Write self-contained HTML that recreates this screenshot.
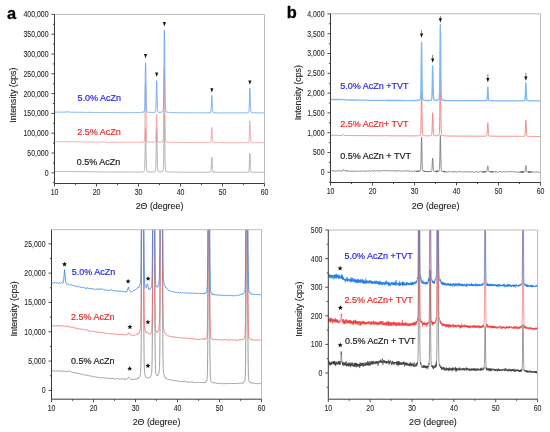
<!DOCTYPE html><html><head><meta charset="utf-8"><style>html,body{margin:0;padding:0;background:#fff;overflow:hidden;width:550px;height:432px;}svg{display:block;filter:blur(0.4px);}</style></head><body><svg width="550" height="432" viewBox="0 0 550 432"><defs><clipPath id="ca"><rect x="54.5" y="14.5" width="210.0" height="169.0"/></clipPath><clipPath id="cb"><rect x="330.5" y="13.8" width="210.0" height="168.7"/></clipPath><clipPath id="cc"><rect x="51.5" y="229.7" width="210.0" height="169.5"/></clipPath><clipPath id="cd"><rect x="328.3" y="230.0" width="209.3" height="169.2"/></clipPath></defs><rect width="550" height="432" fill="#fff"/><g clip-path="url(#ca)"><path d="M54.5,171.5L55.0,171.5L55.5,171.5L56.0,171.5L56.5,171.5L57.0,171.5L57.5,171.5L58.0,171.5L58.5,171.5L59.0,171.5L59.5,171.5L60.0,171.5L60.5,171.5L61.0,171.5L61.5,171.5L62.0,171.5L62.5,171.5L63.0,171.5L63.5,171.5L64.0,171.5L64.5,171.5L65.0,171.5L65.5,171.5L66.0,171.5L66.5,171.5L67.0,171.5L67.5,171.5L68.0,171.5L68.5,171.5L69.0,171.5L69.5,171.5L70.0,171.5L70.5,171.5L71.0,171.5L71.5,171.5L72.0,171.5L72.5,171.5L73.0,171.5L73.5,171.5L74.0,171.5L74.5,171.6L75.0,171.6L75.5,171.6L76.0,171.6L76.5,171.6L77.0,171.6L77.5,171.6L78.0,171.6L78.5,171.6L79.0,171.6L79.5,171.6L80.0,171.6L80.5,171.6L81.0,171.7L81.5,171.7L82.0,171.7L82.5,171.7L83.0,171.7L83.5,171.7L84.0,171.7L84.5,171.7L85.0,171.7L85.5,171.7L86.0,171.7L86.5,171.7L87.0,171.7L87.5,171.7L88.0,171.8L88.5,171.8L89.0,171.8L89.5,171.8L90.0,171.8L90.5,171.8L91.0,171.8L91.5,171.8L92.0,171.8L92.5,171.8L93.0,171.8L93.5,171.8L94.0,171.8L94.5,171.8L95.0,171.9L95.5,171.9L96.0,171.9L96.5,171.9L97.0,171.9L97.5,171.9L98.0,171.9L98.5,171.9L99.0,171.9L99.5,171.9L100.0,171.9L100.5,171.9L101.0,171.9L101.5,171.9L102.0,171.9L102.5,171.9L103.0,171.9L103.5,171.9L104.0,171.9L104.5,171.9L105.0,171.9L105.5,171.9L106.0,171.9L106.5,172.0L107.0,172.0L107.5,172.0L108.0,172.0L108.5,172.0L109.0,172.0L109.5,172.0L110.0,172.0L110.5,172.0L111.0,172.0L111.5,172.0L112.0,172.0L112.5,172.0L113.0,172.0L113.5,172.0L114.0,172.0L114.5,172.0L115.0,172.0L115.5,172.0L116.0,172.0L116.5,172.0L117.0,172.0L117.5,172.0L118.0,172.0L118.5,172.0L119.0,172.0L119.5,172.0L120.0,172.0L120.5,172.0L121.0,172.0L121.5,172.0L122.0,172.0L122.5,172.0L123.0,172.0L123.5,172.0L124.0,172.0L124.5,172.0L125.0,172.0L125.5,172.0L126.0,172.0L126.5,172.0L127.0,172.0L127.5,172.0L128.0,172.0L128.5,172.0L129.0,172.0L129.5,172.0L130.0,172.0L130.5,172.0L131.0,172.0L131.5,171.9L132.0,171.9L132.5,172.0L133.0,172.0L133.5,172.0L134.0,172.0L134.5,172.0L135.0,172.1L135.5,172.1L136.0,172.1L136.5,172.1L137.0,172.0L137.5,172.0L138.0,172.0L138.5,172.0L139.0,172.0L139.5,172.0L140.0,172.0L140.5,172.0L140.5,172.0L140.6,172.0L140.6,172.0L140.7,172.0L140.7,172.0L140.8,172.0L140.8,172.0L140.9,172.0L140.9,172.0L141.0,172.0L141.0,172.0L141.0,172.0L141.1,172.0L141.1,172.0L141.2,172.0L141.2,172.0L141.3,172.0L141.3,172.0L141.4,172.0L141.4,172.0L141.5,172.0L141.5,172.0L141.5,172.0L141.6,172.0L141.6,172.0L141.7,172.0L141.7,172.0L141.8,171.9L141.8,171.9L141.9,171.9L141.9,171.9L142.0,171.9L142.0,171.9L142.0,171.9L142.1,171.9L142.1,171.9L142.2,171.9L142.2,171.9L142.3,171.9L142.3,171.9L142.4,171.9L142.4,171.9L142.5,171.9L142.5,171.9L142.5,171.9L142.6,171.9L142.6,171.9L142.7,171.9L142.7,171.9L142.8,171.8L142.8,171.8L142.9,171.8L142.9,171.8L143.0,171.8L143.0,171.8L143.0,171.8L143.1,171.8L143.1,171.8L143.2,171.8L143.2,171.8L143.3,171.7L143.3,171.7L143.4,171.7L143.4,171.7L143.5,171.7L143.5,171.7L143.5,171.7L143.6,171.6L143.6,171.6L143.7,171.6L143.7,171.6L143.8,171.6L143.8,171.5L143.9,171.5L143.9,171.5L144.0,171.4L144.0,171.4L144.0,171.4L144.1,171.3L144.1,171.3L144.2,171.2L144.2,171.2L144.3,171.1L144.3,170.9L144.4,170.8L144.4,170.5L144.5,170.3L144.5,170.0L144.5,169.9L144.6,169.4L144.6,168.7L144.7,167.9L144.7,166.9L144.8,165.6L144.8,164.1L144.9,162.2L144.9,160.1L145.0,157.6L145.0,155.8L145.0,154.9L145.1,151.8L145.1,148.6L145.2,145.3L145.2,141.9L145.3,138.7L145.3,135.7L145.4,133.0L145.4,130.9L145.5,129.3L145.5,128.6L145.5,128.4L145.6,128.1L145.6,128.6L145.7,129.8L145.7,131.7L145.8,134.0L145.8,136.9L145.9,140.0L145.9,143.3L146.0,146.6L146.0,148.9L146.0,149.9L146.1,153.1L146.1,156.0L146.2,158.6L146.2,161.0L146.3,163.0L146.3,164.7L146.4,166.2L146.4,167.3L146.5,168.3L146.5,168.8L146.5,169.0L146.6,169.6L146.6,170.0L146.7,170.4L146.7,170.6L146.8,170.8L146.8,171.0L146.9,171.1L146.9,171.2L147.0,171.3L147.0,171.3L147.0,171.3L147.1,171.4L147.1,171.4L147.2,171.4L147.2,171.5L147.3,171.5L147.3,171.5L147.4,171.6L147.4,171.6L147.5,171.6L147.5,171.6L147.5,171.6L147.6,171.6L147.6,171.7L147.7,171.7L147.7,171.7L147.8,171.7L147.8,171.7L147.9,171.7L147.9,171.7L148.0,171.8L148.0,171.8L148.0,171.8L148.1,171.8L148.1,171.8L148.2,171.8L148.2,171.8L148.3,171.8L148.3,171.8L148.4,171.8L148.4,171.8L148.5,171.8L148.5,171.9L148.5,171.9L148.6,171.9L148.6,171.9L148.7,171.9L148.7,171.9L148.8,171.9L148.8,171.9L148.9,171.9L148.9,171.9L149.0,171.9L149.0,171.9L149.0,171.9L149.1,171.9L149.1,171.9L149.2,171.9L149.2,171.9L149.3,171.9L149.3,171.9L149.4,171.9L149.4,171.9L149.5,171.9L149.5,171.9L149.5,171.9L149.6,171.9L149.6,171.9L149.7,171.9L149.7,171.9L149.8,171.9L149.8,171.9L149.9,171.9L149.9,172.0L150.0,172.0L150.0,172.0L150.0,172.0L150.1,172.0L150.1,172.0L150.2,172.0L150.2,172.0L150.3,172.0L150.3,172.0L150.4,172.0L150.4,172.0L150.5,172.0L150.5,172.0L150.5,172.0L150.6,172.0L151.0,172.0L151.5,172.0L151.6,172.0L151.7,172.0L151.7,172.0L151.8,172.0L151.8,172.0L151.9,172.0L151.9,172.0L152.0,172.0L152.0,172.0L152.0,172.0L152.1,172.0L152.1,172.0L152.2,172.0L152.2,172.0L152.3,171.9L152.3,171.9L152.4,171.9L152.4,171.9L152.5,171.9L152.5,171.9L152.5,171.9L152.6,171.9L152.6,171.9L152.7,171.9L152.7,171.9L152.8,171.9L152.8,171.9L152.9,171.9L152.9,171.9L153.0,171.9L153.0,171.9L153.0,171.9L153.1,171.9L153.1,171.9L153.2,171.9L153.2,171.9L153.3,171.9L153.3,171.9L153.4,171.9L153.4,171.9L153.5,171.9L153.5,171.9L153.5,171.9L153.6,171.9L153.6,171.9L153.7,171.9L153.7,171.8L153.8,171.8L153.8,171.8L153.9,171.8L153.9,171.8L154.0,171.8L154.0,171.8L154.0,171.8L154.1,171.8L154.1,171.8L154.2,171.8L154.2,171.8L154.3,171.7L154.3,171.7L154.4,171.7L154.4,171.7L154.5,171.7L154.5,171.7L154.5,171.7L154.6,171.7L154.6,171.6L154.7,171.6L154.7,171.6L154.8,171.6L154.8,171.6L154.9,171.5L154.9,171.5L155.0,171.5L155.0,171.5L155.0,171.5L155.1,171.4L155.1,171.4L155.2,171.3L155.2,171.3L155.3,171.2L155.3,171.1L155.4,171.0L155.4,170.9L155.5,170.8L155.5,170.7L155.5,170.5L155.6,170.3L155.6,169.9L155.7,169.4L155.7,168.8L155.8,167.9L155.8,166.9L155.9,165.7L155.9,164.1L156.0,162.3L156.0,162.2L156.0,160.2L156.1,157.7L156.1,155.0L156.2,152.0L156.2,148.8L156.3,145.5L156.3,142.2L156.4,139.0L156.4,136.0L156.5,133.4L156.5,133.2L156.5,131.2L156.6,129.6L156.6,128.7L156.7,128.5L156.7,129.0L156.8,130.2L156.8,132.0L156.9,134.4L156.9,137.1L157.0,140.2L157.0,140.5L157.0,143.5L157.1,146.8L157.1,150.1L157.2,153.2L157.2,156.1L157.3,158.7L157.3,161.1L157.4,163.1L157.4,164.8L157.5,166.2L157.5,166.3L157.5,167.4L157.6,168.3L157.6,169.0L157.7,169.6L157.7,170.0L157.8,170.4L157.8,170.6L157.9,170.8L157.9,171.0L158.0,171.1L158.0,171.1L158.0,171.2L158.1,171.2L158.1,171.3L158.2,171.3L158.2,171.4L158.3,171.4L158.3,171.4L158.4,171.5L158.4,171.5L158.5,171.5L158.5,171.5L158.5,171.5L158.6,171.6L158.6,171.6L158.7,171.6L158.7,171.6L158.8,171.6L158.8,171.6L158.9,171.7L158.9,171.7L159.0,171.7L159.0,171.7L159.0,171.7L159.1,171.7L159.1,171.7L159.2,171.7L159.2,171.7L159.3,171.7L159.3,171.7L159.3,171.7L159.4,171.7L159.4,171.8L159.4,171.8L159.4,171.8L159.5,171.8L159.5,171.8L159.5,171.8L159.5,171.8L159.5,171.8L159.6,171.8L159.6,171.8L159.6,171.8L159.6,171.8L159.7,171.8L159.7,171.8L159.7,171.8L159.7,171.8L159.8,171.8L159.8,171.8L159.8,171.8L159.8,171.8L159.9,171.8L159.9,171.8L159.9,171.8L159.9,171.8L160.0,171.8L160.0,171.8L160.0,171.8L160.0,171.8L160.0,171.8L160.1,171.8L160.1,171.8L160.1,171.8L160.1,171.8L160.2,171.8L160.2,171.8L160.2,171.8L160.2,171.8L160.3,171.8L160.3,171.8L160.3,171.8L160.3,171.8L160.4,171.8L160.4,171.8L160.4,171.8L160.4,171.8L160.5,171.8L160.5,171.8L160.5,171.8L160.5,171.8L160.5,171.8L160.6,171.8L160.6,171.8L160.6,171.8L160.6,171.8L160.7,171.8L160.7,171.8L160.7,171.8L160.7,171.8L160.8,171.8L160.8,171.8L160.8,171.8L160.8,171.8L160.9,171.8L160.9,171.8L160.9,171.8L160.9,171.8L161.0,171.8L161.0,171.8L161.0,171.8L161.0,171.8L161.0,171.8L161.1,171.8L161.1,171.8L161.1,171.8L161.1,171.8L161.2,171.8L161.2,171.8L161.2,171.8L161.2,171.8L161.3,171.8L161.3,171.8L161.3,171.7L161.3,171.7L161.4,171.7L161.4,171.7L161.4,171.7L161.4,171.7L161.5,171.7L161.5,171.7L161.5,171.7L161.5,171.7L161.5,171.7L161.6,171.7L161.6,171.7L161.6,171.7L161.6,171.7L161.7,171.7L161.7,171.7L161.7,171.7L161.8,171.7L161.8,171.7L161.9,171.6L161.9,171.6L162.0,171.6L162.0,171.6L162.0,171.6L162.1,171.6L162.1,171.6L162.2,171.5L162.2,171.5L162.3,171.5L162.3,171.5L162.4,171.5L162.4,171.4L162.5,171.4L162.5,171.4L162.5,171.4L162.6,171.3L162.6,171.3L162.7,171.3L162.7,171.2L162.8,171.2L162.8,171.1L162.9,171.1L162.9,171.0L163.0,170.9L163.0,170.9L163.0,170.8L163.1,170.7L163.1,170.5L163.2,170.3L163.2,170.0L163.3,169.6L163.3,169.1L163.4,168.4L163.4,167.6L163.5,166.5L163.5,166.0L163.5,165.1L163.6,163.4L163.6,161.3L163.7,158.8L163.7,155.9L163.8,152.5L163.8,148.8L163.9,144.7L163.9,140.4L164.0,135.9L164.0,134.2L164.0,131.3L164.1,127.0L164.1,122.9L164.2,119.3L164.2,116.4L164.3,114.2L164.3,113.0L164.4,112.7L164.4,113.4L164.5,115.0L164.5,115.8L164.5,117.5L164.6,120.7L164.6,124.5L164.7,128.7L164.7,133.2L164.8,137.7L164.8,142.1L164.9,146.4L164.9,150.4L165.0,153.9L165.0,155.1L165.0,157.1L165.1,159.8L165.1,162.2L165.2,164.1L165.2,165.7L165.3,167.0L165.3,168.0L165.4,168.7L165.4,169.3L165.5,169.8L165.5,169.9L165.5,170.1L165.6,170.4L165.6,170.6L165.7,170.8L165.7,170.9L165.8,171.0L165.8,171.1L165.9,171.1L165.9,171.2L166.0,171.2L166.0,171.3L166.0,171.3L166.1,171.3L166.1,171.4L166.2,171.4L166.2,171.4L166.3,171.5L166.3,171.5L166.4,171.5L166.4,171.5L166.5,171.6L166.5,171.6L166.5,171.6L166.6,171.6L166.6,171.6L166.7,171.6L166.7,171.7L166.8,171.7L166.8,171.7L166.9,171.7L166.9,171.7L167.0,171.7L167.0,171.7L167.0,171.7L167.1,171.8L167.1,171.8L167.2,171.8L167.2,171.8L167.3,171.8L167.3,171.8L167.4,171.8L167.4,171.8L167.5,171.8L167.5,171.8L167.5,171.8L167.6,171.9L167.6,171.9L167.7,171.9L167.7,171.9L167.8,171.9L167.8,171.9L167.9,171.9L167.9,171.9L168.0,171.9L168.0,171.9L168.0,171.9L168.1,171.9L168.1,171.9L168.2,171.9L168.2,171.9L168.3,171.9L168.3,171.9L168.4,171.9L168.4,171.9L168.5,172.0L168.5,172.0L168.5,172.0L168.6,172.0L168.6,172.0L168.7,172.0L168.7,172.0L168.8,172.0L168.8,172.0L168.9,172.0L168.9,172.0L169.0,172.0L169.0,172.0L169.0,172.0L169.1,172.0L169.1,172.0L169.2,172.0L169.2,172.0L169.3,172.0L169.3,172.0L169.4,172.0L169.5,172.0L170.0,172.0L170.5,172.0L171.0,172.1L171.5,172.1L172.0,172.1L172.5,172.1L173.0,172.1L173.5,172.1L174.0,172.1L174.5,172.1L175.0,172.1L175.5,172.1L176.0,172.1L176.5,172.1L177.0,172.1L177.5,172.1L178.0,172.1L178.5,172.2L179.0,172.2L179.5,172.2L180.0,172.2L180.5,172.2L181.0,172.2L181.5,172.2L182.0,172.2L182.5,172.2L183.0,172.2L183.5,172.2L184.0,172.2L184.5,172.2L185.0,172.2L185.5,172.2L186.0,172.2L186.5,172.2L187.0,172.2L187.5,172.2L188.0,172.2L188.5,172.2L189.0,172.2L189.5,172.2L190.0,172.2L190.5,172.2L191.0,172.2L191.5,172.2L192.0,172.2L192.5,172.2L193.0,172.2L193.5,172.2L194.0,172.2L194.5,172.2L195.0,172.2L195.5,172.2L196.0,172.3L196.5,172.3L197.0,172.3L197.5,172.3L198.0,172.3L198.5,172.3L199.0,172.3L199.5,172.3L200.0,172.3L200.5,172.3L201.0,172.3L201.5,172.3L202.0,172.3L202.5,172.3L203.0,172.3L203.5,172.3L204.0,172.3L204.5,172.3L205.0,172.3L205.5,172.3L206.0,172.3L206.5,172.3L206.8,172.3L206.8,172.3L206.9,172.3L206.9,172.3L207.0,172.3L207.0,172.3L207.0,172.3L207.1,172.3L207.1,172.3L207.2,172.3L207.2,172.3L207.3,172.3L207.3,172.3L207.4,172.3L207.4,172.3L207.5,172.3L207.5,172.3L207.5,172.3L207.6,172.3L207.6,172.3L207.7,172.3L207.7,172.3L207.8,172.3L207.8,172.3L207.9,172.3L207.9,172.3L208.0,172.3L208.0,172.3L208.0,172.3L208.1,172.3L208.1,172.3L208.2,172.3L208.2,172.3L208.3,172.2L208.3,172.2L208.4,172.2L208.4,172.2L208.5,172.2L208.5,172.2L208.5,172.2L208.6,172.2L208.6,172.2L208.7,172.2L208.7,172.2L208.8,172.2L208.8,172.2L208.9,172.2L208.9,172.2L209.0,172.2L209.0,172.2L209.0,172.2L209.1,172.2L209.1,172.2L209.2,172.2L209.2,172.2L209.3,172.2L209.3,172.2L209.4,172.2L209.4,172.2L209.5,172.2L209.5,172.2L209.5,172.2L209.6,172.2L209.6,172.2L209.7,172.2L209.7,172.2L209.8,172.2L209.8,172.2L209.9,172.1L209.9,172.1L210.0,172.1L210.0,172.1L210.0,172.1L210.1,172.1L210.1,172.1L210.2,172.1L210.2,172.1L210.3,172.1L210.3,172.1L210.4,172.0L210.4,172.0L210.5,172.0L210.5,172.0L210.5,172.0L210.6,171.9L210.6,171.9L210.7,171.8L210.7,171.7L210.8,171.6L210.8,171.4L210.9,171.2L210.9,170.9L211.0,170.6L211.0,170.5L211.0,170.1L211.1,169.6L211.1,169.0L211.2,168.3L211.2,167.4L211.3,166.5L211.3,165.5L211.4,164.4L211.4,163.3L211.5,162.1L211.5,161.9L211.5,161.0L211.6,160.0L211.6,159.1L211.7,158.4L211.7,157.8L211.8,157.5L211.8,157.5L211.9,157.6L211.9,158.0L212.0,158.7L212.0,158.8L212.0,159.5L212.1,160.4L212.1,161.5L212.2,162.6L212.2,163.7L212.3,164.8L212.3,165.9L212.4,166.9L212.4,167.8L212.5,168.6L212.5,168.7L212.5,169.3L212.6,169.8L212.6,170.3L212.7,170.7L212.7,171.0L212.8,171.3L212.8,171.5L212.9,171.6L212.9,171.7L213.0,171.8L213.0,171.8L213.0,171.9L213.1,171.9L213.1,172.0L213.2,172.0L213.2,172.0L213.3,172.1L213.3,172.1L213.4,172.1L213.4,172.1L213.5,172.1L213.5,172.1L213.5,172.1L213.6,172.1L213.6,172.1L213.7,172.1L213.7,172.2L213.8,172.2L213.8,172.2L213.9,172.2L213.9,172.2L214.0,172.2L214.0,172.2L214.0,172.2L214.1,172.2L214.1,172.2L214.2,172.2L214.2,172.2L214.3,172.2L214.3,172.2L214.4,172.2L214.4,172.2L214.5,172.2L214.5,172.2L214.5,172.2L214.6,172.2L214.6,172.2L214.7,172.2L214.7,172.2L214.8,172.2L214.8,172.2L214.9,172.2L214.9,172.2L215.0,172.3L215.0,172.3L215.0,172.3L215.1,172.3L215.1,172.3L215.2,172.3L215.2,172.3L215.3,172.3L215.3,172.3L215.4,172.3L215.4,172.3L215.5,172.3L215.5,172.3L215.5,172.3L215.6,172.3L215.6,172.3L215.7,172.3L215.7,172.3L215.8,172.3L215.8,172.3L215.9,172.3L215.9,172.3L216.0,172.3L216.0,172.3L216.0,172.3L216.1,172.3L216.1,172.3L216.2,172.3L216.2,172.3L216.3,172.3L216.3,172.3L216.4,172.3L216.4,172.3L216.5,172.3L216.5,172.3L216.5,172.3L216.6,172.3L216.6,172.3L216.7,172.3L216.7,172.3L216.8,172.3L216.8,172.3L217.0,172.3L217.5,172.3L218.0,172.3L218.5,172.3L219.0,172.3L219.5,172.3L220.0,172.3L220.5,172.3L221.0,172.3L221.5,172.3L222.0,172.3L222.5,172.3L223.0,172.3L223.5,172.3L224.0,172.3L224.5,172.3L225.0,172.3L225.5,172.3L226.0,172.3L226.5,172.3L227.0,172.3L227.5,172.3L228.0,172.3L228.5,172.3L229.0,172.3L229.5,172.3L230.0,172.3L230.5,172.3L231.0,172.3L231.5,172.3L232.0,172.3L232.5,172.3L233.0,172.3L233.5,172.3L234.0,172.3L234.5,172.3L235.0,172.3L235.5,172.3L236.0,172.3L236.5,172.3L237.0,172.3L237.5,172.3L238.0,172.3L238.5,172.3L239.0,172.3L239.5,172.3L240.0,172.3L240.5,172.3L241.0,172.3L241.5,172.3L242.0,172.3L242.5,172.3L243.0,172.3L243.5,172.3L244.0,172.3L244.5,172.3L244.8,172.3L244.9,172.3L244.9,172.3L245.0,172.3L245.0,172.3L245.0,172.3L245.1,172.3L245.1,172.3L245.2,172.3L245.2,172.3L245.3,172.3L245.3,172.3L245.4,172.3L245.4,172.3L245.5,172.3L245.5,172.3L245.5,172.3L245.6,172.3L245.6,172.3L245.7,172.3L245.7,172.3L245.8,172.3L245.8,172.3L245.9,172.3L245.9,172.3L246.0,172.3L246.0,172.3L246.0,172.3L246.1,172.3L246.1,172.3L246.2,172.3L246.2,172.3L246.3,172.3L246.3,172.3L246.4,172.3L246.4,172.3L246.5,172.3L246.5,172.3L246.5,172.3L246.6,172.3L246.6,172.3L246.7,172.3L246.7,172.3L246.8,172.3L246.8,172.3L246.9,172.3L246.9,172.2L247.0,172.2L247.0,172.2L247.0,172.2L247.1,172.2L247.1,172.2L247.2,172.2L247.2,172.2L247.3,172.2L247.3,172.2L247.4,172.2L247.4,172.2L247.5,172.2L247.5,172.2L247.5,172.2L247.6,172.2L247.6,172.2L247.7,172.2L247.7,172.2L247.8,172.2L247.8,172.2L247.9,172.2L247.9,172.1L248.0,172.1L248.0,172.1L248.0,172.1L248.1,172.1L248.1,172.1L248.2,172.1L248.2,172.1L248.3,172.1L248.3,172.0L248.4,172.0L248.4,172.0L248.5,172.0L248.5,172.0L248.5,171.9L248.6,171.9L248.6,171.8L248.7,171.8L248.7,171.7L248.8,171.6L248.8,171.4L248.9,171.2L248.9,170.9L249.0,170.6L249.0,170.5L249.0,170.1L249.1,169.6L249.1,168.9L249.2,168.1L249.2,167.2L249.3,166.2L249.3,165.0L249.4,163.7L249.4,162.3L249.5,160.9L249.5,160.7L249.5,159.4L249.6,158.1L249.6,156.8L249.7,155.6L249.7,154.7L249.8,154.0L249.8,153.6L249.9,153.5L249.9,153.8L250.0,154.3L250.0,154.3L250.0,155.0L250.1,156.1L250.1,157.3L250.2,158.6L250.2,160.0L250.3,161.4L250.3,162.9L250.4,164.2L250.4,165.5L250.5,166.6L250.5,166.7L250.5,167.6L250.6,168.5L250.6,169.2L250.7,169.8L250.7,170.3L250.8,170.7L250.8,171.0L250.9,171.3L250.9,171.5L251.0,171.6L251.0,171.6L251.0,171.7L251.1,171.8L251.1,171.9L251.2,171.9L251.2,172.0L251.3,172.0L251.3,172.0L251.4,172.0L251.4,172.1L251.5,172.1L251.5,172.1L251.5,172.1L251.6,172.1L251.6,172.1L251.7,172.1L251.7,172.1L251.8,172.1L251.8,172.1L251.9,172.2L251.9,172.2L252.0,172.2L252.0,172.2L252.0,172.2L252.1,172.2L252.1,172.2L252.2,172.2L252.2,172.2L252.3,172.2L252.3,172.2L252.4,172.2L252.4,172.2L252.5,172.2L252.5,172.2L252.5,172.2L252.6,172.2L252.6,172.2L252.7,172.2L252.7,172.2L252.8,172.2L252.8,172.2L252.9,172.3L252.9,172.3L253.0,172.3L253.0,172.3L253.0,172.3L253.1,172.3L253.1,172.3L253.2,172.3L253.2,172.3L253.3,172.3L253.3,172.3L253.4,172.3L253.4,172.3L253.5,172.3L253.5,172.3L253.5,172.3L253.6,172.3L253.6,172.3L253.7,172.3L253.7,172.3L253.8,172.3L253.8,172.3L253.9,172.3L253.9,172.3L254.0,172.3L254.0,172.3L254.0,172.3L254.1,172.3L254.1,172.3L254.2,172.3L254.2,172.3L254.3,172.3L254.3,172.3L254.4,172.3L254.4,172.3L254.5,172.3L254.5,172.3L254.5,172.3L254.6,172.3L254.6,172.3L254.7,172.3L254.7,172.3L254.8,172.3L254.8,172.3L254.9,172.3L255.0,172.3L255.5,172.3L256.0,172.3L256.5,172.3L257.0,172.3L257.5,172.3L258.0,172.3L258.5,172.3L259.0,172.3L259.5,172.3L260.0,172.3L260.5,172.3L261.0,172.3L261.5,172.3L262.0,172.3L262.5,172.3L263.0,172.3L263.5,172.3L264.0,172.3L264.5,172.3" fill="none" stroke="#a8a8a8" stroke-width="0.9" stroke-linejoin="round" /><path d="M54.5,141.7L55.0,141.7L55.5,141.7L56.0,141.7L56.5,141.7L57.0,141.7L57.5,141.7L58.0,141.7L58.5,141.7L59.0,141.7L59.5,141.7L60.0,141.7L60.5,141.7L61.0,141.7L61.5,141.7L62.0,141.7L62.5,141.7L63.0,141.7L63.5,141.7L64.0,141.7L64.5,141.7L65.0,141.7L65.5,141.7L66.0,141.7L66.5,141.7L67.0,141.7L67.5,141.7L68.0,141.7L68.5,141.7L69.0,141.7L69.5,141.7L70.0,141.7L70.5,141.7L71.0,141.8L71.5,141.8L72.0,141.8L72.5,141.8L73.0,141.8L73.5,141.8L74.0,141.8L74.5,141.8L75.0,141.8L75.5,141.8L76.0,141.8L76.5,141.8L77.0,141.8L77.5,141.8L78.0,141.8L78.5,141.9L79.0,141.9L79.5,141.9L80.0,141.9L80.5,141.9L81.0,141.9L81.5,141.9L82.0,141.9L82.5,141.9L83.0,141.9L83.5,141.9L84.0,141.9L84.5,141.9L85.0,141.9L85.5,141.9L86.0,142.0L86.5,142.0L87.0,142.0L87.5,142.0L88.0,142.0L88.5,142.0L89.0,142.0L89.5,142.0L90.0,142.0L90.5,142.0L91.0,142.0L91.5,142.0L92.0,142.0L92.5,142.0L93.0,142.1L93.5,142.1L94.0,142.1L94.5,142.1L95.0,142.1L95.5,142.1L96.0,142.1L96.5,142.1L97.0,142.1L97.5,142.1L98.0,142.1L98.5,142.1L99.0,142.1L99.5,142.1L100.0,142.1L100.5,142.1L101.0,142.1L101.5,142.1L102.0,142.1L102.5,142.1L103.0,142.2L103.5,142.2L104.0,142.2L104.5,142.2L105.0,142.2L105.5,142.2L106.0,142.2L106.5,142.2L107.0,142.2L107.5,142.2L108.0,142.2L108.5,142.2L109.0,142.2L109.5,142.2L110.0,142.2L110.5,142.2L111.0,142.2L111.5,142.2L112.0,142.2L112.5,142.2L113.0,142.2L113.5,142.2L114.0,142.2L114.5,142.2L115.0,142.2L115.5,142.3L116.0,142.3L116.5,142.3L117.0,142.3L117.5,142.3L118.0,142.3L118.5,142.3L119.0,142.3L119.5,142.3L120.0,142.3L120.5,142.3L121.0,142.3L121.5,142.3L122.0,142.3L122.5,142.3L123.0,142.3L123.5,142.3L124.0,142.3L124.5,142.3L125.0,142.3L125.5,142.3L126.0,142.3L126.5,142.3L127.0,142.3L127.5,142.3L128.0,142.3L128.5,142.3L129.0,142.3L129.5,142.3L130.0,142.3L130.5,142.3L131.0,142.2L131.5,142.2L132.0,142.2L132.5,142.3L133.0,142.3L133.5,142.3L134.0,142.3L134.5,142.3L135.0,142.3L135.5,142.3L136.0,142.3L136.5,142.3L137.0,142.3L137.5,142.3L138.0,142.3L138.5,142.3L139.0,142.3L139.5,142.3L140.0,142.3L140.5,142.3L140.5,142.3L140.6,142.3L140.6,142.3L140.7,142.3L140.7,142.3L140.8,142.3L140.8,142.3L140.9,142.3L140.9,142.3L141.0,142.3L141.0,142.3L141.0,142.3L141.1,142.3L141.1,142.3L141.2,142.2L141.2,142.2L141.3,142.2L141.3,142.2L141.4,142.2L141.4,142.2L141.5,142.2L141.5,142.2L141.5,142.2L141.6,142.2L141.6,142.2L141.7,142.2L141.7,142.2L141.8,142.2L141.8,142.2L141.9,142.2L141.9,142.2L142.0,142.2L142.0,142.2L142.0,142.2L142.1,142.2L142.1,142.2L142.2,142.2L142.2,142.2L142.3,142.2L142.3,142.1L142.4,142.1L142.4,142.1L142.5,142.1L142.5,142.1L142.5,142.1L142.6,142.1L142.6,142.1L142.7,142.1L142.7,142.1L142.8,142.1L142.8,142.1L142.9,142.0L142.9,142.0L143.0,142.0L143.0,142.0L143.0,142.0L143.1,142.0L143.1,142.0L143.2,142.0L143.2,141.9L143.3,141.9L143.3,141.9L143.4,141.9L143.4,141.9L143.5,141.9L143.5,141.8L143.5,141.8L143.6,141.8L143.6,141.8L143.7,141.7L143.7,141.7L143.8,141.7L143.8,141.7L143.9,141.6L143.9,141.6L144.0,141.5L144.0,141.5L144.0,141.5L144.1,141.4L144.1,141.3L144.2,141.3L144.2,141.2L144.3,141.0L144.3,140.9L144.4,140.6L144.4,140.4L144.5,140.0L144.5,139.6L144.5,139.5L144.6,138.8L144.6,138.0L144.7,136.9L144.7,135.5L144.8,133.9L144.8,131.8L144.9,129.4L144.9,126.5L145.0,123.2L145.0,120.8L145.0,119.6L145.1,115.6L145.1,111.3L145.2,106.9L145.2,102.5L145.3,98.2L145.3,94.2L145.4,90.7L145.4,87.8L145.5,85.7L145.5,84.8L145.5,84.5L145.6,84.2L145.6,84.9L145.7,86.4L145.7,88.9L145.8,92.0L145.8,95.7L145.9,99.9L145.9,104.2L146.0,108.7L146.0,111.7L146.0,113.0L146.1,117.2L146.1,121.1L146.2,124.6L146.2,127.7L146.3,130.4L146.3,132.7L146.4,134.6L146.4,136.1L146.5,137.4L146.5,138.0L146.5,138.3L146.6,139.1L146.6,139.7L146.7,140.1L146.7,140.5L146.8,140.7L146.8,140.9L146.9,141.1L146.9,141.2L147.0,141.3L147.0,141.3L147.0,141.4L147.1,141.4L147.1,141.5L147.2,141.5L147.2,141.6L147.3,141.6L147.3,141.7L147.4,141.7L147.4,141.7L147.5,141.8L147.5,141.8L147.5,141.8L147.6,141.8L147.6,141.8L147.7,141.9L147.7,141.9L147.8,141.9L147.8,141.9L147.9,141.9L147.9,141.9L148.0,142.0L148.0,142.0L148.0,142.0L148.1,142.0L148.1,142.0L148.2,142.0L148.2,142.0L148.3,142.0L148.3,142.1L148.4,142.1L148.4,142.1L148.5,142.1L148.5,142.1L148.5,142.1L148.6,142.1L148.6,142.1L148.7,142.1L148.7,142.1L148.8,142.1L148.8,142.1L148.9,142.1L148.9,142.1L149.0,142.1L149.0,142.2L149.0,142.2L149.1,142.2L149.1,142.2L149.2,142.2L149.2,142.2L149.3,142.2L149.3,142.2L149.4,142.2L149.4,142.2L149.5,142.2L149.5,142.2L149.5,142.2L149.6,142.2L149.6,142.2L149.7,142.2L149.7,142.2L149.8,142.2L149.8,142.2L149.9,142.2L149.9,142.2L150.0,142.2L150.0,142.2L150.0,142.2L150.1,142.2L150.1,142.2L150.2,142.2L150.2,142.2L150.3,142.2L150.3,142.2L150.4,142.2L150.4,142.2L150.5,142.1L150.5,142.1L150.5,142.1L150.6,142.1L151.0,142.2L151.5,142.2L151.6,142.2L151.7,142.2L151.7,142.2L151.8,142.2L151.8,142.2L151.9,142.3L151.9,142.3L152.0,142.3L152.0,142.3L152.0,142.3L152.1,142.3L152.1,142.3L152.2,142.3L152.2,142.3L152.3,142.3L152.3,142.3L152.4,142.3L152.4,142.3L152.5,142.3L152.5,142.3L152.5,142.3L152.6,142.3L152.6,142.3L152.7,142.3L152.7,142.3L152.8,142.3L152.8,142.3L152.9,142.3L152.9,142.3L153.0,142.3L153.0,142.3L153.0,142.3L153.1,142.3L153.1,142.3L153.2,142.2L153.2,142.2L153.3,142.2L153.3,142.2L153.4,142.2L153.4,142.2L153.5,142.2L153.5,142.2L153.5,142.2L153.6,142.2L153.6,142.2L153.7,142.2L153.7,142.2L153.8,142.2L153.8,142.2L153.9,142.2L153.9,142.2L154.0,142.2L154.0,142.2L154.0,142.2L154.1,142.2L154.1,142.2L154.2,142.2L154.2,142.2L154.3,142.2L154.3,142.2L154.4,142.1L154.4,142.1L154.5,142.1L154.5,142.1L154.5,142.1L154.6,142.1L154.6,142.1L154.7,142.1L154.7,142.1L154.8,142.1L154.8,142.0L154.9,142.0L154.9,142.0L155.0,142.0L155.0,142.0L155.0,142.0L155.1,142.0L155.1,141.9L155.2,141.9L155.2,141.9L155.3,141.8L155.3,141.8L155.4,141.7L155.4,141.6L155.5,141.5L155.5,141.5L155.5,141.4L155.6,141.2L155.6,141.0L155.7,140.7L155.7,140.3L155.8,139.7L155.8,139.1L155.9,138.3L155.9,137.3L156.0,136.2L156.0,136.1L156.0,134.8L156.1,133.2L156.1,131.5L156.2,129.6L156.2,127.6L156.3,125.5L156.3,123.3L156.4,121.3L156.4,119.4L156.5,117.7L156.5,117.6L156.5,116.4L156.6,115.4L156.6,114.8L156.7,114.6L156.7,115.0L156.8,115.7L156.8,116.9L156.9,118.4L156.9,120.1L157.0,122.1L157.0,122.3L157.0,124.2L157.1,126.3L157.1,128.4L157.2,130.4L157.2,132.2L157.3,133.9L157.3,135.4L157.4,136.6L157.4,137.7L157.5,138.6L157.5,138.7L157.5,139.4L157.6,139.9L157.6,140.4L157.7,140.8L157.7,141.1L157.8,141.3L157.8,141.4L157.9,141.6L157.9,141.6L158.0,141.7L158.0,141.7L158.0,141.8L158.1,141.8L158.1,141.9L158.2,141.9L158.2,141.9L158.3,141.9L158.3,142.0L158.4,142.0L158.4,142.0L158.5,142.0L158.5,142.0L158.5,142.0L158.6,142.0L158.6,142.0L158.7,142.0L158.7,142.1L158.8,142.1L158.8,142.1L158.9,142.1L158.9,142.1L159.0,142.1L159.0,142.1L159.0,142.1L159.1,142.1L159.1,142.1L159.2,142.1L159.2,142.1L159.3,142.1L159.3,142.1L159.3,142.1L159.4,142.1L159.4,142.1L159.4,142.1L159.4,142.1L159.5,142.1L159.5,142.1L159.5,142.1L159.5,142.1L159.5,142.1L159.6,142.1L159.6,142.1L159.6,142.1L159.6,142.1L159.7,142.1L159.7,142.1L159.7,142.1L159.7,142.1L159.8,142.1L159.8,142.1L159.8,142.1L159.8,142.1L159.9,142.1L159.9,142.1L159.9,142.1L159.9,142.1L160.0,142.1L160.0,142.1L160.0,142.1L160.0,142.1L160.0,142.1L160.1,142.1L160.1,142.1L160.1,142.1L160.1,142.1L160.2,142.1L160.2,142.1L160.2,142.1L160.2,142.1L160.3,142.1L160.3,142.1L160.3,142.1L160.3,142.1L160.4,142.1L160.4,142.1L160.4,142.1L160.4,142.1L160.5,142.1L160.5,142.1L160.5,142.1L160.5,142.1L160.5,142.1L160.6,142.1L160.6,142.1L160.6,142.1L160.6,142.1L160.7,142.1L160.7,142.1L160.7,142.1L160.7,142.1L160.8,142.1L160.8,142.1L160.8,142.1L160.8,142.1L160.9,142.1L160.9,142.1L160.9,142.1L160.9,142.1L161.0,142.1L161.0,142.1L161.0,142.1L161.0,142.1L161.0,142.1L161.1,142.1L161.1,142.1L161.1,142.1L161.1,142.1L161.2,142.1L161.2,142.1L161.2,142.1L161.2,142.0L161.3,142.0L161.3,142.0L161.3,142.0L161.3,142.0L161.4,142.0L161.4,142.0L161.4,142.0L161.4,142.0L161.5,142.0L161.5,142.0L161.5,142.0L161.5,142.0L161.5,142.0L161.6,142.0L161.6,142.0L161.6,142.0L161.6,142.0L161.7,142.0L161.7,141.9L161.7,141.9L161.8,141.9L161.8,141.9L161.9,141.9L161.9,141.9L162.0,141.9L162.0,141.8L162.0,141.8L162.1,141.8L162.1,141.8L162.2,141.8L162.2,141.7L162.3,141.7L162.3,141.7L162.4,141.7L162.4,141.6L162.5,141.6L162.5,141.6L162.5,141.5L162.6,141.5L162.6,141.5L162.7,141.4L162.7,141.4L162.8,141.3L162.8,141.2L162.9,141.2L162.9,141.1L163.0,141.0L163.0,140.9L163.0,140.8L163.1,140.7L163.1,140.4L163.2,140.2L163.2,139.8L163.3,139.3L163.3,138.6L163.4,137.8L163.4,136.7L163.5,135.3L163.5,134.7L163.5,133.6L163.6,131.4L163.6,128.7L163.7,125.6L163.7,121.9L163.8,117.7L163.8,112.9L163.9,107.8L163.9,102.3L164.0,96.6L164.0,94.5L164.0,90.8L164.1,85.3L164.1,80.1L164.2,75.6L164.2,71.9L164.3,69.2L164.3,67.6L164.4,67.2L164.4,68.1L164.5,70.1L164.5,71.1L164.5,73.3L164.6,77.3L164.6,82.1L164.7,87.5L164.7,93.1L164.8,98.9L164.8,104.5L164.9,109.9L164.9,114.9L165.0,119.4L165.0,120.9L165.0,123.5L165.1,126.9L165.1,129.9L165.2,132.3L165.2,134.3L165.3,135.9L165.3,137.2L165.4,138.2L165.4,138.9L165.5,139.5L165.5,139.7L165.5,140.0L165.6,140.3L165.6,140.6L165.7,140.8L165.7,140.9L165.8,141.0L165.8,141.1L165.9,141.2L165.9,141.3L166.0,141.4L166.0,141.4L166.0,141.4L166.1,141.5L166.1,141.5L166.2,141.6L166.2,141.6L166.3,141.6L166.3,141.7L166.4,141.7L166.4,141.7L166.5,141.8L166.5,141.8L166.5,141.8L166.6,141.8L166.6,141.8L166.7,141.9L166.7,141.9L166.8,141.9L166.8,141.9L166.9,141.9L166.9,142.0L167.0,142.0L167.0,142.0L167.0,142.0L167.1,142.0L167.1,142.0L167.2,142.0L167.2,142.1L167.3,142.1L167.3,142.1L167.4,142.1L167.4,142.1L167.5,142.1L167.5,142.1L167.5,142.1L167.6,142.1L167.6,142.1L167.7,142.2L167.7,142.2L167.8,142.2L167.8,142.2L167.9,142.2L167.9,142.2L168.0,142.2L168.0,142.2L168.0,142.2L168.1,142.2L168.1,142.2L168.2,142.2L168.2,142.2L168.3,142.2L168.3,142.2L168.4,142.2L168.4,142.3L168.5,142.3L168.5,142.3L168.5,142.3L168.6,142.3L168.6,142.3L168.7,142.3L168.7,142.3L168.8,142.3L168.8,142.3L168.9,142.3L168.9,142.3L169.0,142.3L169.0,142.3L169.0,142.3L169.1,142.3L169.1,142.3L169.2,142.3L169.2,142.3L169.3,142.3L169.3,142.3L169.4,142.3L169.5,142.3L170.0,142.4L170.5,142.4L171.0,142.4L171.5,142.4L172.0,142.4L172.5,142.4L173.0,142.4L173.5,142.4L174.0,142.4L174.5,142.4L175.0,142.5L175.5,142.5L176.0,142.5L176.5,142.5L177.0,142.5L177.5,142.5L178.0,142.5L178.5,142.5L179.0,142.5L179.5,142.5L180.0,142.5L180.5,142.5L181.0,142.5L181.5,142.5L182.0,142.5L182.5,142.5L183.0,142.5L183.5,142.5L184.0,142.5L184.5,142.5L185.0,142.5L185.5,142.5L186.0,142.5L186.5,142.5L187.0,142.5L187.5,142.5L188.0,142.5L188.5,142.5L189.0,142.5L189.5,142.5L190.0,142.6L190.5,142.6L191.0,142.6L191.5,142.6L192.0,142.6L192.5,142.6L193.0,142.6L193.5,142.6L194.0,142.6L194.5,142.6L195.0,142.6L195.5,142.6L196.0,142.6L196.5,142.6L197.0,142.6L197.5,142.6L198.0,142.6L198.5,142.6L199.0,142.6L199.5,142.6L200.0,142.6L200.5,142.6L201.0,142.6L201.5,142.6L202.0,142.6L202.5,142.6L203.0,142.6L203.5,142.6L204.0,142.6L204.5,142.6L205.0,142.6L205.5,142.6L206.0,142.6L206.5,142.6L206.8,142.6L206.8,142.6L206.9,142.6L206.9,142.6L207.0,142.6L207.0,142.6L207.0,142.6L207.1,142.6L207.1,142.6L207.2,142.6L207.2,142.6L207.3,142.6L207.3,142.6L207.4,142.6L207.4,142.6L207.5,142.6L207.5,142.6L207.5,142.6L207.6,142.6L207.6,142.6L207.7,142.6L207.7,142.6L207.8,142.6L207.8,142.6L207.9,142.6L207.9,142.6L208.0,142.6L208.0,142.6L208.0,142.6L208.1,142.6L208.1,142.6L208.2,142.6L208.2,142.6L208.3,142.6L208.3,142.6L208.4,142.6L208.4,142.6L208.5,142.6L208.5,142.6L208.5,142.6L208.6,142.6L208.6,142.6L208.7,142.6L208.7,142.6L208.8,142.6L208.8,142.6L208.9,142.6L208.9,142.6L209.0,142.6L209.0,142.6L209.0,142.6L209.1,142.6L209.1,142.6L209.2,142.5L209.2,142.5L209.3,142.5L209.3,142.5L209.4,142.5L209.4,142.5L209.5,142.5L209.5,142.5L209.5,142.5L209.6,142.5L209.6,142.5L209.7,142.5L209.7,142.5L209.8,142.5L209.8,142.5L209.9,142.5L209.9,142.5L210.0,142.5L210.0,142.5L210.0,142.5L210.1,142.4L210.1,142.4L210.2,142.4L210.2,142.4L210.3,142.4L210.3,142.4L210.4,142.4L210.4,142.3L210.5,142.3L210.5,142.3L210.5,142.3L210.6,142.2L210.6,142.2L210.7,142.1L210.7,142.0L210.8,141.9L210.8,141.7L210.9,141.5L210.9,141.2L211.0,140.8L211.0,140.8L211.0,140.4L211.1,139.9L211.1,139.2L211.2,138.5L211.2,137.6L211.3,136.7L211.3,135.6L211.4,134.5L211.4,133.3L211.5,132.2L211.5,132.0L211.5,131.1L211.6,130.0L211.6,129.1L211.7,128.3L211.7,127.8L211.8,127.5L211.8,127.4L211.9,127.6L211.9,128.0L212.0,128.6L212.0,128.7L212.0,129.5L212.1,130.4L212.1,131.5L212.2,132.7L212.2,133.8L212.3,135.0L212.3,136.1L212.4,137.1L212.4,138.0L212.5,138.8L212.5,138.9L212.5,139.5L212.6,140.1L212.6,140.6L212.7,141.0L212.7,141.3L212.8,141.6L212.8,141.8L212.9,141.9L212.9,142.1L213.0,142.1L213.0,142.2L213.0,142.2L213.1,142.3L213.1,142.3L213.2,142.3L213.2,142.4L213.3,142.4L213.3,142.4L213.4,142.4L213.4,142.4L213.5,142.4L213.5,142.4L213.5,142.4L213.6,142.5L213.6,142.5L213.7,142.5L213.7,142.5L213.8,142.5L213.8,142.5L213.9,142.5L213.9,142.5L214.0,142.5L214.0,142.5L214.0,142.5L214.1,142.5L214.1,142.5L214.2,142.5L214.2,142.5L214.3,142.5L214.3,142.5L214.4,142.6L214.4,142.6L214.5,142.6L214.5,142.6L214.5,142.6L214.6,142.6L214.6,142.6L214.7,142.6L214.7,142.6L214.8,142.6L214.8,142.6L214.9,142.6L214.9,142.6L215.0,142.6L215.0,142.6L215.0,142.6L215.1,142.6L215.1,142.6L215.2,142.6L215.2,142.6L215.3,142.6L215.3,142.6L215.4,142.6L215.4,142.6L215.5,142.6L215.5,142.6L215.5,142.6L215.6,142.6L215.6,142.6L215.7,142.6L215.7,142.6L215.8,142.6L215.8,142.6L215.9,142.6L215.9,142.6L216.0,142.6L216.0,142.6L216.0,142.6L216.1,142.6L216.1,142.6L216.2,142.6L216.2,142.6L216.3,142.6L216.3,142.6L216.4,142.6L216.4,142.6L216.5,142.6L216.5,142.6L216.5,142.6L216.6,142.6L216.6,142.6L216.7,142.6L216.7,142.6L216.8,142.6L216.8,142.6L217.0,142.6L217.5,142.6L218.0,142.6L218.5,142.6L219.0,142.6L219.5,142.6L220.0,142.6L220.5,142.6L221.0,142.6L221.5,142.6L222.0,142.6L222.5,142.6L223.0,142.7L223.5,142.7L224.0,142.7L224.5,142.7L225.0,142.7L225.5,142.7L226.0,142.7L226.5,142.7L227.0,142.7L227.5,142.7L228.0,142.7L228.5,142.7L229.0,142.7L229.5,142.7L230.0,142.7L230.5,142.7L231.0,142.7L231.5,142.7L232.0,142.7L232.5,142.7L233.0,142.7L233.5,142.7L234.0,142.7L234.5,142.7L235.0,142.7L235.5,142.7L236.0,142.7L236.5,142.7L237.0,142.7L237.5,142.7L238.0,142.7L238.5,142.7L239.0,142.7L239.5,142.7L240.0,142.7L240.5,142.7L241.0,142.7L241.5,142.7L242.0,142.7L242.5,142.7L243.0,142.7L243.5,142.7L244.0,142.7L244.5,142.6L244.8,142.6L244.9,142.6L244.9,142.6L245.0,142.6L245.0,142.6L245.0,142.6L245.1,142.6L245.1,142.6L245.2,142.6L245.2,142.6L245.3,142.6L245.3,142.6L245.4,142.6L245.4,142.6L245.5,142.6L245.5,142.6L245.5,142.6L245.6,142.6L245.6,142.6L245.7,142.6L245.7,142.6L245.8,142.6L245.8,142.6L245.9,142.6L245.9,142.6L246.0,142.6L246.0,142.6L246.0,142.6L246.1,142.6L246.1,142.6L246.2,142.6L246.2,142.6L246.3,142.6L246.3,142.6L246.4,142.6L246.4,142.6L246.5,142.6L246.5,142.6L246.5,142.6L246.6,142.6L246.6,142.6L246.7,142.6L246.7,142.6L246.8,142.6L246.8,142.6L246.9,142.6L246.9,142.6L247.0,142.6L247.0,142.6L247.0,142.6L247.1,142.6L247.1,142.6L247.2,142.6L247.2,142.5L247.3,142.5L247.3,142.5L247.4,142.5L247.4,142.5L247.5,142.5L247.5,142.5L247.5,142.5L247.6,142.5L247.6,142.5L247.7,142.5L247.7,142.5L247.8,142.5L247.8,142.5L247.9,142.5L247.9,142.5L248.0,142.4L248.0,142.4L248.0,142.4L248.1,142.4L248.1,142.4L248.2,142.4L248.2,142.4L248.3,142.4L248.3,142.3L248.4,142.3L248.4,142.3L248.5,142.3L248.5,142.3L248.5,142.2L248.6,142.2L248.6,142.1L248.7,142.0L248.7,141.9L248.8,141.8L248.8,141.6L248.9,141.3L248.9,141.0L249.0,140.6L249.0,140.6L249.0,140.1L249.1,139.5L249.1,138.7L249.2,137.8L249.2,136.7L249.3,135.5L249.3,134.1L249.4,132.7L249.4,131.1L249.5,129.4L249.5,129.2L249.5,127.7L249.6,126.1L249.6,124.6L249.7,123.3L249.7,122.3L249.8,121.5L249.8,121.0L249.9,120.9L249.9,121.2L250.0,121.8L250.0,121.8L250.0,122.7L250.1,123.8L250.1,125.2L250.2,126.8L250.2,128.4L250.3,130.1L250.3,131.7L250.4,133.3L250.4,134.7L250.5,136.0L250.5,136.2L250.5,137.2L250.6,138.2L250.6,139.0L250.7,139.8L250.7,140.3L250.8,140.8L250.8,141.2L250.9,141.5L250.9,141.7L251.0,141.8L251.0,141.9L251.0,142.0L251.1,142.1L251.1,142.1L251.2,142.2L251.2,142.2L251.3,142.3L251.3,142.3L251.4,142.3L251.4,142.3L251.5,142.4L251.5,142.4L251.5,142.4L251.6,142.4L251.6,142.4L251.7,142.4L251.7,142.4L251.8,142.4L251.8,142.5L251.9,142.5L251.9,142.5L252.0,142.5L252.0,142.5L252.0,142.5L252.1,142.5L252.1,142.5L252.2,142.5L252.2,142.5L252.3,142.5L252.3,142.5L252.4,142.5L252.4,142.5L252.5,142.5L252.5,142.5L252.5,142.6L252.6,142.6L252.6,142.6L252.7,142.6L252.7,142.6L252.8,142.6L252.8,142.6L252.9,142.6L252.9,142.6L253.0,142.6L253.0,142.6L253.0,142.6L253.1,142.6L253.1,142.6L253.2,142.6L253.2,142.6L253.3,142.6L253.3,142.6L253.4,142.6L253.4,142.6L253.5,142.6L253.5,142.6L253.5,142.6L253.6,142.6L253.6,142.6L253.7,142.6L253.7,142.6L253.8,142.6L253.8,142.6L253.9,142.6L253.9,142.6L254.0,142.6L254.0,142.6L254.0,142.6L254.1,142.6L254.1,142.6L254.2,142.6L254.2,142.6L254.3,142.6L254.3,142.6L254.4,142.6L254.4,142.6L254.5,142.6L254.5,142.6L254.5,142.6L254.6,142.6L254.6,142.6L254.7,142.6L254.7,142.6L254.8,142.6L254.8,142.6L254.9,142.6L255.0,142.6L255.5,142.7L256.0,142.7L256.5,142.7L257.0,142.7L257.5,142.7L258.0,142.7L258.5,142.7L259.0,142.7L259.5,142.7L260.0,142.7L260.5,142.7L261.0,142.7L261.5,142.7L262.0,142.7L262.5,142.7L263.0,142.7L263.5,142.7L264.0,142.7L264.5,142.7" fill="none" stroke="#f49c9c" stroke-width="0.9" stroke-linejoin="round" /><path d="M54.5,112.1L55.0,112.1L55.5,112.1L56.0,112.1L56.5,112.1L57.0,112.1L57.5,112.1L58.0,112.1L58.5,112.1L59.0,112.1L59.5,112.1L60.0,112.1L60.5,112.1L61.0,112.1L61.5,112.1L62.0,112.1L62.5,112.1L63.0,112.1L63.5,112.1L64.0,112.1L64.5,112.1L65.0,112.1L65.5,112.1L66.0,112.1L66.5,112.0L67.0,111.7L67.5,111.2L68.0,111.5L68.5,111.9L69.0,112.1L69.5,112.1L70.0,112.1L70.5,112.2L71.0,112.2L71.5,112.2L72.0,112.2L72.5,112.2L73.0,112.2L73.5,112.2L74.0,112.2L74.5,112.2L75.0,112.2L75.5,112.2L76.0,112.3L76.5,112.3L77.0,112.3L77.5,112.3L78.0,112.3L78.5,112.3L79.0,112.3L79.5,112.3L80.0,112.3L80.5,112.3L81.0,112.3L81.5,112.3L82.0,112.3L82.5,112.3L83.0,112.4L83.5,112.4L84.0,112.4L84.5,112.4L85.0,112.4L85.5,112.4L86.0,112.4L86.5,112.4L87.0,112.4L87.5,112.4L88.0,112.4L88.5,112.4L89.0,112.4L89.5,112.4L90.0,112.4L90.5,112.4L91.0,112.4L91.5,112.4L92.0,112.4L92.5,112.5L93.0,112.5L93.5,112.5L94.0,112.5L94.5,112.5L95.0,112.5L95.5,112.5L96.0,112.5L96.5,112.5L97.0,112.5L97.5,112.5L98.0,112.5L98.5,112.5L99.0,112.5L99.5,112.5L100.0,112.5L100.5,112.5L101.0,112.5L101.5,112.5L102.0,112.5L102.5,112.5L103.0,112.5L103.5,112.5L104.0,112.5L104.5,112.5L105.0,112.5L105.5,112.5L106.0,112.5L106.5,112.5L107.0,112.5L107.5,112.5L108.0,112.5L108.5,112.6L109.0,112.6L109.5,112.6L110.0,112.6L110.5,112.6L111.0,112.6L111.5,112.6L112.0,112.6L112.5,112.6L113.0,112.6L113.5,112.6L114.0,112.5L114.5,112.5L115.0,112.5L115.5,112.6L116.0,112.6L116.5,112.6L117.0,112.6L117.5,112.6L118.0,112.6L118.5,112.6L119.0,112.6L119.5,112.6L120.0,112.6L120.5,112.6L121.0,112.6L121.5,112.6L122.0,112.6L122.5,112.6L123.0,112.6L123.5,112.6L124.0,112.7L124.5,112.7L125.0,112.7L125.5,112.7L126.0,112.7L126.5,112.7L127.0,112.7L127.5,112.7L128.0,112.7L128.5,112.7L129.0,112.7L129.5,112.7L130.0,112.6L130.5,112.5L131.0,112.4L131.5,112.4L132.0,112.5L132.5,112.6L133.0,112.7L133.5,112.7L134.0,112.7L134.5,112.7L135.0,112.7L135.5,112.6L136.0,112.6L136.5,112.6L137.0,112.6L137.5,112.6L138.0,112.6L138.5,112.5L139.0,112.5L139.5,112.5L140.0,112.4L140.5,112.4L140.5,112.4L140.6,112.4L140.6,112.4L140.7,112.4L140.7,112.4L140.8,112.4L140.8,112.4L140.9,112.4L140.9,112.4L141.0,112.4L141.0,112.4L141.0,112.4L141.1,112.4L141.1,112.4L141.2,112.4L141.2,112.4L141.3,112.4L141.3,112.4L141.4,112.4L141.4,112.4L141.5,112.4L141.5,112.4L141.5,112.3L141.6,112.3L141.6,112.3L141.7,112.3L141.7,112.3L141.8,112.3L141.8,112.3L141.9,112.3L141.9,112.3L142.0,112.3L142.0,112.3L142.0,112.3L142.1,112.3L142.1,112.3L142.2,112.3L142.2,112.3L142.3,112.3L142.3,112.3L142.4,112.3L142.4,112.3L142.5,112.3L142.5,112.3L142.5,112.3L142.6,112.2L142.6,112.2L142.7,112.2L142.7,112.2L142.8,112.2L142.8,112.2L142.9,112.2L142.9,112.2L143.0,112.2L143.0,112.2L143.0,112.2L143.1,112.2L143.1,112.1L143.2,112.1L143.2,112.1L143.3,112.1L143.3,112.1L143.4,112.1L143.4,112.1L143.5,112.0L143.5,112.0L143.5,112.0L143.6,112.0L143.6,112.0L143.7,112.0L143.7,111.9L143.8,111.9L143.8,111.9L143.9,111.9L143.9,111.8L144.0,111.8L144.0,111.8L144.0,111.7L144.1,111.7L144.1,111.6L144.2,111.6L144.2,111.5L144.3,111.4L144.3,111.2L144.4,111.0L144.4,110.8L144.5,110.5L144.5,110.2L144.5,110.0L144.6,109.5L144.6,108.8L144.7,107.8L144.7,106.7L144.8,105.3L144.8,103.5L144.9,101.4L144.9,99.0L145.0,96.2L145.0,94.1L145.0,93.1L145.1,89.7L145.1,86.0L145.2,82.3L145.2,78.5L145.3,74.8L145.3,71.4L145.4,68.4L145.4,66.0L145.5,64.2L145.5,63.4L145.5,63.1L145.6,62.9L145.6,63.4L145.7,64.8L145.7,66.9L145.8,69.6L145.8,72.7L145.9,76.3L145.9,80.0L146.0,83.8L146.0,86.3L146.0,87.5L146.1,91.1L146.1,94.4L146.2,97.4L146.2,100.0L146.3,102.3L146.3,104.3L146.4,105.9L146.4,107.2L146.5,108.3L146.5,108.9L146.5,109.1L146.6,109.8L146.6,110.3L146.7,110.7L146.7,111.0L146.8,111.2L146.8,111.3L146.9,111.5L146.9,111.6L147.0,111.7L147.0,111.7L147.0,111.7L147.1,111.8L147.1,111.8L147.2,111.9L147.2,111.9L147.3,112.0L147.3,112.0L147.4,112.0L147.4,112.0L147.5,112.1L147.5,112.1L147.5,112.1L147.6,112.1L147.6,112.1L147.7,112.2L147.7,112.2L147.8,112.2L147.8,112.2L147.9,112.2L147.9,112.2L148.0,112.2L148.0,112.3L148.0,112.3L148.1,112.3L148.1,112.3L148.2,112.3L148.2,112.3L148.3,112.3L148.3,112.3L148.4,112.3L148.4,112.3L148.5,112.3L148.5,112.4L148.5,112.4L148.6,112.4L148.6,112.4L148.7,112.4L148.7,112.4L148.8,112.4L148.8,112.4L148.9,112.4L148.9,112.4L149.0,112.4L149.0,112.4L149.0,112.4L149.1,112.4L149.1,112.4L149.2,112.4L149.2,112.4L149.3,112.4L149.3,112.4L149.4,112.4L149.4,112.4L149.5,112.4L149.5,112.4L149.5,112.4L149.6,112.3L149.6,112.3L149.7,112.3L149.7,112.3L149.8,112.3L149.8,112.3L149.9,112.3L149.9,112.3L150.0,112.2L150.0,112.2L150.0,112.2L150.1,112.2L150.1,112.2L150.2,112.2L150.2,112.2L150.3,112.2L150.3,112.2L150.4,112.2L150.4,112.1L150.5,112.1L150.5,112.2L150.5,112.2L150.6,112.2L151.0,112.3L151.5,112.4L151.6,112.5L151.7,112.5L151.7,112.5L151.8,112.5L151.8,112.5L151.9,112.5L151.9,112.5L152.0,112.5L152.0,112.5L152.0,112.5L152.1,112.5L152.1,112.5L152.2,112.5L152.2,112.5L152.3,112.5L152.3,112.5L152.4,112.5L152.4,112.5L152.5,112.5L152.5,112.5L152.5,112.5L152.6,112.5L152.6,112.5L152.7,112.5L152.7,112.5L152.8,112.5L152.8,112.5L152.9,112.5L152.9,112.5L153.0,112.5L153.0,112.5L153.0,112.5L153.1,112.5L153.1,112.5L153.2,112.5L153.2,112.5L153.3,112.5L153.3,112.5L153.4,112.5L153.4,112.5L153.5,112.5L153.5,112.5L153.5,112.5L153.6,112.5L153.6,112.5L153.7,112.5L153.7,112.5L153.8,112.4L153.8,112.4L153.9,112.4L153.9,112.4L154.0,112.4L154.0,112.4L154.0,112.4L154.1,112.4L154.1,112.4L154.2,112.4L154.2,112.4L154.3,112.4L154.3,112.4L154.4,112.4L154.4,112.4L154.5,112.3L154.5,112.3L154.5,112.3L154.6,112.3L154.6,112.3L154.7,112.3L154.7,112.3L154.8,112.3L154.8,112.3L154.9,112.2L154.9,112.2L155.0,112.2L155.0,112.2L155.0,112.2L155.1,112.1L155.1,112.1L155.2,112.1L155.2,112.0L155.3,112.0L155.3,111.9L155.4,111.9L155.4,111.8L155.5,111.7L155.5,111.6L155.5,111.5L155.6,111.3L155.6,111.0L155.7,110.7L155.7,110.2L155.8,109.6L155.8,108.9L155.9,107.9L155.9,106.8L156.0,105.5L156.0,105.4L156.0,103.9L156.1,102.1L156.1,100.1L156.2,97.9L156.2,95.6L156.3,93.2L156.3,90.7L156.4,88.4L156.4,86.2L156.5,84.3L156.5,84.2L156.5,82.7L156.6,81.6L156.6,80.9L156.7,80.7L156.7,81.1L156.8,82.0L156.8,83.3L156.9,85.0L156.9,87.1L157.0,89.3L157.0,89.5L157.0,91.7L157.1,94.1L157.1,96.5L157.2,98.8L157.2,100.9L157.3,102.9L157.3,104.6L157.4,106.0L157.4,107.3L157.5,108.3L157.5,108.4L157.5,109.2L157.6,109.8L157.6,110.4L157.7,110.8L157.7,111.1L157.8,111.4L157.8,111.5L157.9,111.7L157.9,111.8L158.0,111.9L158.0,111.9L158.0,111.9L158.1,112.0L158.1,112.0L158.2,112.1L158.2,112.1L158.3,112.1L158.3,112.1L158.4,112.2L158.4,112.2L158.5,112.2L158.5,112.2L158.5,112.2L158.6,112.2L158.6,112.2L158.7,112.3L158.7,112.3L158.8,112.3L158.8,112.3L158.9,112.3L158.9,112.3L159.0,112.3L159.0,112.3L159.0,112.3L159.1,112.3L159.1,112.3L159.2,112.3L159.2,112.3L159.3,112.3L159.3,112.3L159.3,112.3L159.4,112.3L159.4,112.3L159.4,112.4L159.4,112.4L159.5,112.4L159.5,112.4L159.5,112.4L159.5,112.4L159.5,112.4L159.6,112.4L159.6,112.4L159.6,112.4L159.6,112.4L159.7,112.4L159.7,112.4L159.7,112.4L159.7,112.4L159.8,112.4L159.8,112.4L159.8,112.4L159.8,112.4L159.9,112.4L159.9,112.4L159.9,112.4L159.9,112.4L160.0,112.4L160.0,112.4L160.0,112.4L160.0,112.4L160.0,112.4L160.1,112.4L160.1,112.4L160.1,112.4L160.1,112.4L160.2,112.4L160.2,112.4L160.2,112.4L160.2,112.4L160.3,112.4L160.3,112.4L160.3,112.4L160.3,112.4L160.4,112.4L160.4,112.4L160.4,112.3L160.4,112.3L160.5,112.3L160.5,112.3L160.5,112.3L160.5,112.3L160.5,112.3L160.6,112.3L160.6,112.3L160.6,112.3L160.6,112.3L160.7,112.3L160.7,112.3L160.7,112.3L160.7,112.3L160.8,112.3L160.8,112.3L160.8,112.3L160.8,112.3L160.9,112.3L160.9,112.3L160.9,112.3L160.9,112.3L161.0,112.3L161.0,112.3L161.0,112.3L161.0,112.3L161.0,112.3L161.1,112.3L161.1,112.3L161.1,112.3L161.1,112.3L161.2,112.3L161.2,112.3L161.2,112.3L161.2,112.3L161.3,112.2L161.3,112.2L161.3,112.2L161.3,112.2L161.4,112.2L161.4,112.2L161.4,112.2L161.4,112.2L161.5,112.2L161.5,112.2L161.5,112.2L161.5,112.2L161.5,112.2L161.6,112.2L161.6,112.2L161.6,112.2L161.6,112.2L161.7,112.1L161.7,112.1L161.7,112.1L161.8,112.1L161.8,112.1L161.9,112.1L161.9,112.1L162.0,112.0L162.0,112.0L162.0,112.0L162.1,112.0L162.1,112.0L162.2,111.9L162.2,111.9L162.3,111.9L162.3,111.8L162.4,111.8L162.4,111.8L162.5,111.7L162.5,111.7L162.5,111.7L162.6,111.6L162.6,111.6L162.7,111.5L162.7,111.5L162.8,111.4L162.8,111.3L162.9,111.3L162.9,111.2L163.0,111.0L163.0,111.0L163.0,110.9L163.1,110.7L163.1,110.5L163.2,110.2L163.2,109.8L163.3,109.2L163.3,108.5L163.4,107.6L163.4,106.4L163.5,104.8L163.5,104.2L163.5,102.9L163.6,100.5L163.6,97.6L163.7,94.1L163.7,90.1L163.8,85.4L163.8,80.2L163.9,74.5L163.9,68.5L164.0,62.2L164.0,59.9L164.0,55.9L164.1,49.8L164.1,44.1L164.2,39.1L164.2,35.0L164.3,32.1L164.3,30.3L164.4,29.9L164.4,30.9L164.5,33.1L164.5,34.2L164.5,36.6L164.6,41.0L164.6,46.3L164.7,52.2L164.7,58.4L164.8,64.7L164.8,70.9L164.9,76.9L164.9,82.4L165.0,87.4L165.0,89.0L165.0,91.8L165.1,95.6L165.1,98.8L165.2,101.5L165.2,103.7L165.3,105.5L165.3,106.9L165.4,108.0L165.4,108.8L165.5,109.4L165.5,109.6L165.5,109.9L165.6,110.3L165.6,110.6L165.7,110.8L165.7,111.0L165.8,111.1L165.8,111.2L165.9,111.3L165.9,111.4L166.0,111.4L166.0,111.5L166.0,111.5L166.1,111.6L166.1,111.6L166.2,111.7L166.2,111.7L166.3,111.7L166.3,111.8L166.4,111.8L166.4,111.8L166.5,111.9L166.5,111.9L166.5,111.9L166.6,111.9L166.6,112.0L166.7,112.0L166.7,112.0L166.8,112.0L166.8,112.0L166.9,112.1L166.9,112.1L167.0,112.1L167.0,112.1L167.0,112.1L167.1,112.1L167.1,112.1L167.2,112.2L167.2,112.2L167.3,112.2L167.3,112.2L167.4,112.2L167.4,112.2L167.5,112.2L167.5,112.2L167.5,112.2L167.6,112.2L167.6,112.3L167.7,112.3L167.7,112.3L167.8,112.3L167.8,112.3L167.9,112.3L167.9,112.3L168.0,112.3L168.0,112.3L168.0,112.3L168.1,112.3L168.1,112.3L168.2,112.3L168.2,112.3L168.3,112.3L168.3,112.4L168.4,112.4L168.4,112.4L168.5,112.4L168.5,112.4L168.5,112.4L168.6,112.4L168.6,112.4L168.7,112.4L168.7,112.4L168.8,112.4L168.8,112.4L168.9,112.4L168.9,112.4L169.0,112.4L169.0,112.4L169.0,112.4L169.1,112.4L169.1,112.4L169.2,112.4L169.2,112.4L169.3,112.4L169.3,112.4L169.4,112.4L169.5,112.4L170.0,112.5L170.5,112.5L171.0,112.5L171.5,112.6L172.0,112.6L172.5,112.6L173.0,112.6L173.5,112.6L174.0,112.7L174.5,112.7L175.0,112.7L175.5,112.7L176.0,112.7L176.5,112.7L177.0,112.7L177.5,112.7L178.0,112.7L178.5,112.7L179.0,112.7L179.5,112.7L180.0,112.7L180.5,112.7L181.0,112.7L181.5,112.7L182.0,112.7L182.5,112.7L183.0,112.7L183.5,112.7L184.0,112.7L184.5,112.7L185.0,112.7L185.5,112.7L186.0,112.7L186.5,112.8L187.0,112.8L187.5,112.8L188.0,112.8L188.5,112.8L189.0,112.8L189.5,112.8L190.0,112.8L190.5,112.8L191.0,112.8L191.5,112.8L192.0,112.8L192.5,112.8L193.0,112.8L193.5,112.8L194.0,112.8L194.5,112.8L195.0,112.8L195.5,112.8L196.0,112.8L196.5,112.8L197.0,112.8L197.5,112.8L198.0,112.8L198.5,112.8L199.0,112.8L199.5,112.8L200.0,112.8L200.5,112.8L201.0,112.8L201.5,112.8L202.0,112.8L202.5,112.8L203.0,112.8L203.5,112.8L204.0,112.8L204.5,112.8L205.0,112.8L205.5,112.8L206.0,112.8L206.5,112.8L206.8,112.8L206.8,112.8L206.9,112.8L206.9,112.8L207.0,112.8L207.0,112.8L207.0,112.8L207.1,112.8L207.1,112.8L207.2,112.8L207.2,112.8L207.3,112.8L207.3,112.8L207.4,112.8L207.4,112.8L207.5,112.8L207.5,112.8L207.5,112.8L207.6,112.8L207.6,112.8L207.7,112.8L207.7,112.8L207.8,112.8L207.8,112.8L207.9,112.8L207.9,112.8L208.0,112.8L208.0,112.8L208.0,112.8L208.1,112.8L208.1,112.8L208.2,112.8L208.2,112.8L208.3,112.8L208.3,112.8L208.4,112.8L208.4,112.8L208.5,112.8L208.5,112.8L208.5,112.7L208.6,112.7L208.6,112.7L208.7,112.7L208.7,112.7L208.8,112.7L208.8,112.7L208.9,112.7L208.9,112.7L209.0,112.7L209.0,112.7L209.0,112.7L209.1,112.7L209.1,112.7L209.2,112.7L209.2,112.7L209.3,112.7L209.3,112.7L209.4,112.7L209.4,112.7L209.5,112.7L209.5,112.7L209.5,112.7L209.6,112.7L209.6,112.7L209.7,112.7L209.7,112.7L209.8,112.7L209.8,112.7L209.9,112.7L209.9,112.6L210.0,112.6L210.0,112.6L210.0,112.6L210.1,112.6L210.1,112.6L210.2,112.6L210.2,112.6L210.3,112.6L210.3,112.5L210.4,112.5L210.4,112.5L210.5,112.5L210.5,112.5L210.5,112.4L210.6,112.4L210.6,112.3L210.7,112.2L210.7,112.1L210.8,112.0L210.8,111.8L210.9,111.5L210.9,111.2L211.0,110.8L211.0,110.7L211.0,110.3L211.1,109.7L211.1,108.9L211.2,108.1L211.2,107.1L211.3,106.0L211.3,104.8L211.4,103.5L211.4,102.2L211.5,100.9L211.5,100.7L211.5,99.6L211.6,98.4L211.6,97.4L211.7,96.5L211.7,95.9L211.8,95.5L211.8,95.4L211.9,95.6L211.9,96.1L212.0,96.8L212.0,97.0L212.0,97.8L212.1,98.9L212.1,100.1L212.2,101.4L212.2,102.8L212.3,104.1L212.3,105.3L212.4,106.5L212.4,107.5L212.5,108.5L212.5,108.6L212.5,109.3L212.6,110.0L212.6,110.5L212.7,111.0L212.7,111.4L212.8,111.6L212.8,111.9L212.9,112.1L212.9,112.2L213.0,112.3L213.0,112.3L213.0,112.4L213.1,112.4L213.1,112.5L213.2,112.5L213.2,112.5L213.3,112.6L213.3,112.6L213.4,112.6L213.4,112.6L213.5,112.6L213.5,112.6L213.5,112.6L213.6,112.7L213.6,112.7L213.7,112.7L213.7,112.7L213.8,112.7L213.8,112.7L213.9,112.7L213.9,112.7L214.0,112.7L214.0,112.7L214.0,112.7L214.1,112.7L214.1,112.7L214.2,112.7L214.2,112.8L214.3,112.8L214.3,112.8L214.4,112.8L214.4,112.8L214.5,112.8L214.5,112.8L214.5,112.8L214.6,112.8L214.6,112.8L214.7,112.8L214.7,112.8L214.8,112.8L214.8,112.8L214.9,112.8L214.9,112.8L215.0,112.8L215.0,112.8L215.0,112.8L215.1,112.8L215.1,112.8L215.2,112.8L215.2,112.8L215.3,112.8L215.3,112.8L215.4,112.8L215.4,112.8L215.5,112.8L215.5,112.8L215.5,112.8L215.6,112.8L215.6,112.8L215.7,112.8L215.7,112.8L215.8,112.8L215.8,112.8L215.9,112.8L215.9,112.8L216.0,112.8L216.0,112.8L216.0,112.8L216.1,112.8L216.1,112.8L216.2,112.8L216.2,112.8L216.3,112.9L216.3,112.9L216.4,112.9L216.4,112.9L216.5,112.9L216.5,112.9L216.5,112.9L216.6,112.9L216.6,112.9L216.7,112.9L216.7,112.9L216.8,112.9L216.8,112.9L217.0,112.9L217.5,112.9L218.0,112.9L218.5,112.9L219.0,112.9L219.5,112.9L220.0,112.9L220.5,112.9L221.0,112.9L221.5,112.9L222.0,112.9L222.5,112.9L223.0,112.9L223.5,112.9L224.0,112.9L224.5,112.9L225.0,112.9L225.5,112.9L226.0,112.9L226.5,112.9L227.0,112.9L227.5,112.9L228.0,112.9L228.5,112.9L229.0,112.9L229.5,112.9L230.0,112.9L230.5,112.9L231.0,112.9L231.5,112.9L232.0,112.9L232.5,112.9L233.0,112.9L233.5,112.9L234.0,112.9L234.5,112.9L235.0,112.9L235.5,112.9L236.0,112.9L236.5,112.9L237.0,112.9L237.5,112.9L238.0,112.9L238.5,112.9L239.0,112.9L239.5,112.9L240.0,112.9L240.5,112.9L241.0,112.9L241.5,112.9L242.0,112.9L242.5,112.9L243.0,112.9L243.5,112.9L244.0,112.9L244.5,112.8L244.8,112.8L244.9,112.8L244.9,112.8L245.0,112.8L245.0,112.8L245.0,112.8L245.1,112.8L245.1,112.8L245.2,112.8L245.2,112.8L245.3,112.8L245.3,112.8L245.4,112.8L245.4,112.8L245.5,112.8L245.5,112.8L245.5,112.8L245.6,112.8L245.6,112.8L245.7,112.8L245.7,112.8L245.8,112.8L245.8,112.8L245.9,112.8L245.9,112.8L246.0,112.8L246.0,112.8L246.0,112.8L246.1,112.8L246.1,112.8L246.2,112.8L246.2,112.8L246.3,112.8L246.3,112.8L246.4,112.8L246.4,112.8L246.5,112.8L246.5,112.8L246.5,112.8L246.6,112.8L246.6,112.8L246.7,112.8L246.7,112.8L246.8,112.8L246.8,112.8L246.9,112.8L246.9,112.7L247.0,112.7L247.0,112.7L247.0,112.7L247.1,112.7L247.1,112.7L247.2,112.7L247.2,112.7L247.3,112.7L247.3,112.7L247.4,112.7L247.4,112.7L247.5,112.7L247.5,112.7L247.5,112.7L247.6,112.7L247.6,112.7L247.7,112.7L247.7,112.7L247.8,112.6L247.8,112.6L247.9,112.6L247.9,112.6L248.0,112.6L248.0,112.6L248.0,112.6L248.1,112.6L248.1,112.6L248.2,112.5L248.2,112.5L248.3,112.5L248.3,112.5L248.4,112.5L248.4,112.4L248.5,112.4L248.5,112.4L248.5,112.3L248.6,112.3L248.6,112.2L248.7,112.1L248.7,112.0L248.8,111.8L248.8,111.6L248.9,111.4L248.9,111.0L249.0,110.5L249.0,110.5L249.0,110.0L249.1,109.3L249.1,108.4L249.2,107.4L249.2,106.1L249.3,104.8L249.3,103.2L249.4,101.5L249.4,99.7L249.5,97.8L249.5,97.6L249.5,96.0L249.6,94.1L249.6,92.4L249.7,91.0L249.7,89.7L249.8,88.8L249.8,88.3L249.9,88.2L249.9,88.5L250.0,89.2L250.0,89.3L250.0,90.2L250.1,91.5L250.1,93.1L250.2,94.8L250.2,96.7L250.3,98.6L250.3,100.4L250.4,102.2L250.4,103.8L250.5,105.3L250.5,105.5L250.5,106.6L250.6,107.8L250.6,108.8L250.7,109.6L250.7,110.2L250.8,110.7L250.8,111.2L250.9,111.5L250.9,111.7L251.0,111.9L251.0,111.9L251.0,112.1L251.1,112.2L251.1,112.3L251.2,112.3L251.2,112.4L251.3,112.4L251.3,112.4L251.4,112.5L251.4,112.5L251.5,112.5L251.5,112.5L251.5,112.5L251.6,112.5L251.6,112.6L251.7,112.6L251.7,112.6L251.8,112.6L251.8,112.6L251.9,112.6L251.9,112.6L252.0,112.6L252.0,112.6L252.0,112.7L252.1,112.7L252.1,112.7L252.2,112.7L252.2,112.7L252.3,112.7L252.3,112.7L252.4,112.7L252.4,112.7L252.5,112.7L252.5,112.7L252.5,112.7L252.6,112.7L252.6,112.7L252.7,112.7L252.7,112.7L252.8,112.7L252.8,112.7L252.9,112.8L252.9,112.8L253.0,112.8L253.0,112.8L253.0,112.8L253.1,112.8L253.1,112.8L253.2,112.8L253.2,112.8L253.3,112.8L253.3,112.8L253.4,112.8L253.4,112.8L253.5,112.8L253.5,112.8L253.5,112.8L253.6,112.8L253.6,112.8L253.7,112.8L253.7,112.8L253.8,112.8L253.8,112.8L253.9,112.8L253.9,112.8L254.0,112.8L254.0,112.8L254.0,112.8L254.1,112.8L254.1,112.8L254.2,112.8L254.2,112.8L254.3,112.8L254.3,112.8L254.4,112.8L254.4,112.8L254.5,112.8L254.5,112.8L254.5,112.8L254.6,112.8L254.6,112.8L254.7,112.8L254.7,112.8L254.8,112.8L254.8,112.8L254.9,112.8L255.0,112.8L255.5,112.8L256.0,112.8L256.5,112.8L257.0,112.9L257.5,112.9L258.0,112.9L258.5,112.9L259.0,112.9L259.5,112.9L260.0,112.9L260.5,112.9L261.0,112.9L261.5,112.9L262.0,112.9L262.5,112.9L263.0,112.9L263.5,112.9L264.0,112.9L264.5,112.9" fill="none" stroke="#6aa6f0" stroke-width="0.9" stroke-linejoin="round" /></g><g clip-path="url(#cc)"><path d="M51.5,370.5L52.0,370.7L52.5,370.9L53.0,370.7L53.5,370.7L54.0,370.5L54.5,371.0L55.0,371.0L55.5,371.1L56.0,370.7L56.5,371.0L57.0,370.9L57.5,370.8L58.0,371.1L58.5,371.1L59.0,371.0L59.5,370.9L60.0,370.9L60.5,370.9L61.0,371.1L61.5,371.3L62.0,371.2L62.5,371.2L63.0,371.3L63.5,371.4L64.0,371.2L64.5,371.3L65.0,371.3L65.5,371.4L66.0,371.8L66.5,371.6L67.0,371.6L67.5,371.4L68.0,371.6L68.5,371.2L69.0,371.1L69.5,371.0L70.0,371.0L70.5,371.5L71.0,371.8L71.5,372.2L72.0,372.1L72.5,372.4L73.0,372.4L73.5,372.1L74.0,372.7L74.5,372.7L75.0,372.8L75.5,372.8L76.0,372.8L76.5,373.2L77.0,373.3L77.5,373.2L78.0,373.2L78.5,373.5L79.0,373.4L79.5,373.7L80.0,374.1L80.5,374.2L81.0,373.9L81.5,374.0L82.0,374.1L82.5,374.1L83.0,374.5L83.5,374.6L84.0,374.6L84.5,374.8L85.0,374.7L85.5,375.2L86.0,375.2L86.5,375.2L87.0,375.2L87.5,375.3L88.0,375.7L88.5,375.6L89.0,375.6L89.5,376.1L90.0,376.1L90.5,375.9L91.0,376.1L91.5,376.3L92.0,376.3L92.5,376.2L93.0,376.5L93.5,376.9L94.0,376.4L94.5,376.6L95.0,376.7L95.5,377.0L96.0,376.8L96.5,377.2L97.0,377.1L97.5,377.1L98.0,377.2L98.5,377.5L99.0,377.5L99.5,377.6L100.0,377.8L100.5,377.7L101.0,377.9L101.5,378.0L102.0,377.7L102.5,377.5L103.0,378.0L103.5,377.8L104.0,377.9L104.5,377.8L105.0,378.0L105.5,378.2L106.0,378.1L106.5,378.1L107.0,378.3L107.5,378.1L108.0,378.2L108.5,378.2L109.0,378.3L109.5,378.5L110.0,378.3L110.5,378.7L111.0,378.5L111.5,378.3L112.0,378.8L112.5,378.3L113.0,378.6L113.5,378.4L114.0,378.6L114.5,378.9L115.0,378.8L115.5,379.2L116.0,378.4L116.5,378.6L117.0,379.0L117.5,378.6L118.0,378.6L118.5,379.0L119.0,379.0L119.5,379.3L120.0,379.1L120.5,379.2L121.0,379.0L121.5,378.7L122.0,378.9L122.5,378.9L123.0,379.2L123.5,379.0L124.0,379.3L124.5,379.3L125.0,379.1L125.5,379.0L126.0,379.1L126.5,379.3L127.0,379.2L127.5,378.4L128.0,377.7L128.5,377.3L129.0,377.6L129.5,378.5L130.0,379.0L130.5,379.1L131.0,379.4L131.5,379.5L132.0,379.4L132.5,379.5L133.0,379.5L133.5,379.3L134.0,379.4L134.5,379.4L135.0,379.2L135.5,378.9L136.0,379.0L136.5,378.8L137.0,378.9L137.5,378.6L137.5,378.7L137.6,378.7L137.6,378.7L137.7,378.7L137.7,378.8L137.8,378.8L137.8,378.8L137.9,378.9L137.9,378.9L138.0,378.9L138.0,378.7L138.0,378.7L138.1,378.5L138.1,378.4L138.2,378.2L138.2,378.0L138.3,377.8L138.3,377.7L138.4,377.7L138.4,377.7L138.5,377.7L138.5,377.7L138.5,377.7L138.6,377.7L138.6,377.6L138.7,377.6L138.7,377.7L138.8,377.7L138.8,377.7L138.9,377.7L138.9,377.7L139.0,377.7L139.0,377.7L139.0,377.7L139.1,377.6L139.1,377.5L139.2,377.4L139.2,377.3L139.3,377.2L139.3,377.1L139.4,377.0L139.4,376.9L139.5,376.9L139.5,376.8L139.5,376.8L139.6,376.7L139.6,376.6L139.7,376.5L139.7,376.4L139.8,376.3L139.8,376.1L139.9,376.0L139.9,375.9L140.0,375.7L140.0,375.6L140.0,375.5L140.1,375.4L140.1,375.3L140.2,375.1L140.2,374.9L140.3,374.7L140.3,374.5L140.4,374.3L140.4,374.0L140.5,373.6L140.5,373.3L140.5,373.1L140.6,372.6L140.6,371.9L140.7,371.1L140.7,370.1L140.8,369.0L140.8,367.5L140.9,365.7L140.9,363.5L141.0,360.8L141.0,358.6L141.0,357.5L141.1,353.5L141.1,348.6L141.2,342.8L141.2,335.8L141.3,327.5L141.3,317.7L141.4,306.2L141.4,292.9L141.5,277.7L141.5,266.1L141.5,260.3L141.6,240.7L141.6,224.7L141.7,224.7L141.7,224.7L141.8,224.7L141.8,224.7L141.9,224.7L141.9,224.7L142.0,224.7L142.0,224.7L142.0,224.7L142.1,224.7L142.1,224.7L142.2,224.7L142.2,224.7L142.3,224.7L142.3,224.7L142.4,224.7L142.4,224.7L142.5,224.7L142.5,224.7L142.5,224.7L142.6,224.7L142.6,224.7L142.7,224.7L142.7,224.7L142.8,224.7L142.8,224.7L142.9,224.7L142.9,224.7L143.0,224.7L143.0,224.7L143.0,224.7L143.1,224.7L143.1,224.7L143.2,224.7L143.2,224.7L143.3,224.7L143.3,224.7L143.4,224.7L143.4,224.7L143.5,224.7L143.5,224.7L143.5,228.2L143.6,249.2L143.6,267.8L143.7,284.3L143.7,298.7L143.8,311.2L143.8,322.0L143.9,331.2L143.9,338.9L144.0,345.3L144.0,349.1L144.0,350.7L144.1,355.1L144.1,358.7L144.2,361.7L144.2,364.1L144.3,366.1L144.3,367.7L144.4,369.1L144.4,370.2L144.5,371.2L144.5,371.7L144.5,371.9L144.6,372.6L144.6,373.1L144.7,373.5L144.7,373.8L144.8,374.1L144.8,374.3L144.9,374.5L144.9,374.7L145.0,374.8L145.0,375.0L145.0,375.0L145.1,375.2L145.1,375.4L145.2,375.5L145.2,375.7L145.3,375.8L145.3,376.0L145.4,376.1L145.4,376.2L145.5,376.4L145.5,376.5L145.5,376.5L145.6,376.6L145.6,376.7L145.7,376.8L145.7,376.9L145.8,376.9L145.8,377.0L145.9,377.0L145.9,377.1L146.0,377.1L146.0,377.2L146.0,377.2L146.1,377.2L146.1,377.3L146.2,377.4L146.2,377.4L146.3,377.5L146.3,377.5L146.4,377.6L146.4,377.6L146.5,377.6L146.5,377.7L146.5,377.7L146.6,377.7L146.6,377.7L146.7,377.8L146.7,377.8L146.8,377.8L146.8,377.8L146.9,377.8L146.9,377.8L147.0,377.8L147.0,377.8L147.0,377.8L147.1,377.8L147.1,377.8L147.2,377.8L147.2,377.8L147.3,377.8L147.3,377.9L147.4,377.9L147.4,377.9L147.5,377.9L147.5,378.0L147.5,378.0L147.6,378.0L148.0,378.2L148.5,378.0L148.6,378.0L148.7,378.0L148.7,378.0L148.8,378.0L148.8,378.0L148.9,377.9L148.9,377.9L149.0,377.8L149.0,377.8L149.0,377.8L149.1,377.7L149.1,377.7L149.2,377.6L149.2,377.6L149.3,377.5L149.3,377.4L149.4,377.4L149.4,377.3L149.5,377.2L149.5,377.2L149.5,377.2L149.6,377.3L149.6,377.3L149.7,377.3L149.7,377.3L149.8,377.3L149.8,377.3L149.9,377.3L149.9,377.3L150.0,377.2L150.0,377.2L150.0,377.2L150.1,377.2L150.1,377.1L150.2,377.1L150.2,377.1L150.3,377.0L150.3,376.9L150.4,376.9L150.4,376.8L150.5,376.7L150.5,376.7L150.5,376.7L150.6,376.6L150.6,376.5L150.7,376.4L150.7,376.4L150.8,376.3L150.8,376.2L150.9,376.1L150.9,376.0L151.0,375.9L151.0,375.8L151.0,375.7L151.1,375.6L151.1,375.4L151.2,375.3L151.2,375.1L151.3,374.9L151.3,374.7L151.4,374.5L151.4,374.3L151.5,374.0L151.5,373.9L151.5,373.6L151.6,373.3L151.6,372.8L151.7,372.3L151.7,371.6L151.8,370.8L151.8,369.9L151.9,368.7L151.9,367.3L152.0,365.5L152.0,365.4L152.0,363.4L152.1,360.7L152.1,357.5L152.2,353.5L152.2,348.7L152.3,342.9L152.3,336.0L152.4,327.7L152.4,318.0L152.5,306.6L152.5,305.6L152.5,293.4L152.6,278.2L152.6,261.0L152.7,241.6L152.7,224.7L152.8,224.7L152.8,224.7L152.9,224.7L152.9,224.7L153.0,224.7L153.0,224.7L153.0,224.7L153.1,224.7L153.1,224.7L153.2,224.7L153.2,224.7L153.3,224.7L153.3,224.7L153.4,224.7L153.4,224.7L153.5,224.7L153.5,224.7L153.5,224.7L153.6,224.7L153.6,224.7L153.7,224.7L153.7,224.7L153.8,224.7L153.8,224.7L153.9,224.7L153.9,224.7L154.0,224.7L154.0,224.7L154.0,224.7L154.1,224.7L154.1,224.7L154.2,224.7L154.2,224.7L154.3,224.7L154.3,224.7L154.4,224.7L154.4,224.7L154.5,224.7L154.5,224.7L154.5,224.7L154.6,224.7L154.6,228.5L154.7,249.2L154.7,267.7L154.8,284.1L154.8,298.4L154.9,310.8L154.9,321.5L155.0,330.6L155.0,331.3L155.0,338.3L155.1,344.8L155.1,350.2L155.2,354.6L155.2,358.2L155.3,361.2L155.3,363.6L155.4,365.5L155.4,367.1L155.5,368.4L155.5,368.5L155.5,369.5L155.6,370.4L155.6,371.1L155.7,371.7L155.7,372.3L155.8,372.7L155.8,373.0L155.9,373.3L155.9,373.5L156.0,373.7L156.0,373.7L156.0,373.9L156.1,374.0L156.1,374.1L156.2,374.2L156.2,374.3L156.3,374.4L156.3,374.4L156.3,374.4L156.4,374.5L156.4,374.5L156.4,374.5L156.4,374.5L156.5,374.6L156.5,374.6L156.5,374.6L156.5,374.7L156.5,374.7L156.6,374.9L156.6,374.9L156.6,375.0L156.6,375.1L156.7,375.2L156.7,375.2L156.7,375.4L156.7,375.4L156.8,375.5L156.8,375.5L156.8,375.7L156.8,375.7L156.9,375.7L156.9,375.7L156.9,375.7L156.9,375.7L157.0,375.6L157.0,375.6L157.0,375.6L157.0,375.6L157.0,375.6L157.1,375.6L157.1,375.6L157.1,375.5L157.1,375.5L157.2,375.5L157.2,375.5L157.2,375.5L157.2,375.5L157.3,375.5L157.3,375.5L157.3,375.5L157.3,375.4L157.4,375.4L157.4,375.4L157.4,375.4L157.4,375.4L157.5,375.4L157.5,375.4L157.5,375.4L157.5,375.4L157.5,375.4L157.6,375.4L157.6,375.4L157.6,375.4L157.6,375.4L157.7,375.4L157.7,375.4L157.7,375.4L157.7,375.4L157.8,375.4L157.8,375.4L157.8,375.4L157.8,375.4L157.9,375.4L157.9,375.4L157.9,375.3L157.9,375.3L158.0,375.3L158.0,375.2L158.0,375.2L158.0,375.2L158.0,375.2L158.1,375.1L158.1,375.1L158.1,375.0L158.1,375.0L158.2,375.0L158.2,374.9L158.2,374.9L158.2,374.8L158.3,374.8L158.3,374.7L158.3,374.7L158.3,374.6L158.4,374.5L158.4,374.5L158.4,374.4L158.4,374.4L158.5,374.3L158.5,374.3L158.5,374.2L158.5,374.2L158.5,374.1L158.6,374.0L158.6,374.0L158.6,373.9L158.6,373.9L158.7,373.8L158.7,373.8L158.7,373.7L158.8,373.6L158.8,373.4L158.9,373.3L158.9,373.1L159.0,372.9L159.0,372.8L159.0,372.6L159.1,372.3L159.1,371.9L159.2,371.5L159.2,371.1L159.3,370.6L159.3,370.0L159.4,369.3L159.4,368.5L159.5,367.5L159.5,367.1L159.5,366.3L159.6,364.8L159.6,362.9L159.7,360.5L159.7,357.6L159.8,354.0L159.8,349.6L159.9,344.2L159.9,337.6L160.0,329.7L160.0,326.5L160.0,320.3L160.1,309.1L160.1,295.8L160.2,280.4L160.2,262.4L160.3,241.8L160.3,224.7L160.4,224.7L160.4,224.7L160.5,224.7L160.5,224.7L160.5,224.7L160.6,224.7L160.6,224.7L160.7,224.7L160.7,224.7L160.8,224.7L160.8,224.7L160.9,224.7L160.9,224.7L161.0,224.7L161.0,224.7L161.0,224.7L161.1,224.7L161.1,224.7L161.2,224.7L161.2,224.7L161.3,224.7L161.3,224.7L161.4,224.7L161.4,224.7L161.5,224.7L161.5,224.7L161.5,224.7L161.6,224.7L161.6,224.7L161.7,224.7L161.7,224.7L161.8,224.7L161.8,224.7L161.9,224.7L161.9,224.7L162.0,224.7L162.0,224.7L162.0,224.7L162.1,224.7L162.1,224.7L162.2,224.7L162.2,224.7L162.3,224.7L162.3,224.7L162.4,224.7L162.4,228.1L162.5,250.4L162.5,257.8L162.5,270.0L162.6,286.9L162.6,301.5L162.7,313.9L162.7,324.4L162.8,333.2L162.8,340.6L162.9,346.7L162.9,351.7L163.0,355.8L163.0,357.1L163.0,359.2L163.1,361.9L163.1,364.1L163.2,365.9L163.2,367.4L163.3,368.6L163.3,369.5L163.4,370.3L163.4,371.0L163.5,371.5L163.5,371.7L163.5,372.0L163.6,372.4L163.6,372.8L163.7,373.1L163.7,373.4L163.8,373.6L163.8,373.9L163.9,374.1L163.9,374.3L164.0,374.5L164.0,374.6L164.0,374.7L164.1,374.9L164.1,375.1L164.2,375.3L164.2,375.4L164.3,375.6L164.3,375.8L164.4,376.0L164.4,376.2L164.5,376.4L164.5,376.5L164.5,376.6L164.6,376.7L164.6,376.7L164.7,376.7L164.7,376.8L164.8,376.8L164.8,376.8L164.9,376.9L164.9,376.9L165.0,376.9L165.0,376.9L165.0,376.9L165.1,377.0L165.1,377.0L165.2,377.0L165.2,377.0L165.3,377.1L165.3,377.3L165.4,377.5L165.4,377.7L165.5,377.9L165.5,377.9L165.5,378.0L165.6,378.2L165.6,378.3L165.7,378.2L165.7,378.2L165.8,378.2L165.8,378.2L165.9,378.1L165.9,378.1L166.0,378.1L166.0,378.1L166.0,378.2L166.1,378.2L166.1,378.3L166.2,378.3L166.2,378.4L166.3,378.4L166.3,378.5L166.4,378.5L166.5,378.6L167.0,378.7L167.5,379.2L168.0,379.1L168.5,379.5L169.0,379.5L169.5,379.7L170.0,379.7L170.5,379.7L171.0,380.0L171.5,380.1L172.0,380.5L172.5,380.4L173.0,380.4L173.5,380.5L174.0,380.8L174.5,380.5L175.0,380.5L175.5,380.8L176.0,381.0L176.5,380.8L177.0,381.0L177.5,381.1L178.0,381.3L178.5,381.0L179.0,381.4L179.5,381.5L180.0,381.3L180.5,381.5L181.0,381.7L181.5,381.7L182.0,381.8L182.5,381.6L183.0,381.6L183.5,381.5L184.0,381.7L184.5,381.4L185.0,381.8L185.5,381.7L186.0,381.9L186.5,381.9L187.0,382.0L187.5,382.1L188.0,382.0L188.5,382.2L189.0,382.1L189.5,382.1L190.0,382.2L190.5,382.1L191.0,382.3L191.5,382.0L192.0,382.3L192.5,382.1L193.0,382.3L193.5,382.3L194.0,382.2L194.5,382.6L195.0,382.6L195.5,382.6L196.0,382.6L196.5,382.5L197.0,382.5L197.5,382.5L198.0,382.6L198.5,382.3L199.0,382.6L199.5,382.6L200.0,382.7L200.5,382.5L201.0,382.8L201.5,382.5L202.0,382.7L202.5,382.7L203.0,382.8L203.5,382.6L203.8,382.2L203.8,382.3L203.9,382.4L203.9,382.4L204.0,382.5L204.0,382.5L204.0,382.5L204.1,382.6L204.1,382.6L204.2,382.6L204.2,382.6L204.3,382.6L204.3,382.6L204.4,382.6L204.4,382.6L204.5,382.6L204.5,382.6L204.5,382.6L204.6,382.5L204.6,382.5L204.7,382.5L204.7,382.5L204.8,382.5L204.8,382.5L204.9,382.5L204.9,382.4L205.0,382.4L205.0,382.4L205.0,382.4L205.1,382.4L205.1,382.3L205.2,382.3L205.2,382.3L205.3,382.2L205.3,382.2L205.4,382.1L205.4,382.1L205.5,382.1L205.5,382.0L205.5,382.0L205.6,382.0L205.6,382.0L205.7,382.0L205.7,382.0L205.8,382.0L205.8,381.9L205.9,381.9L205.9,381.8L206.0,381.7L206.0,381.7L206.0,381.6L206.1,381.5L206.1,381.5L206.2,381.4L206.2,381.3L206.3,381.3L206.3,381.3L206.4,381.3L206.4,381.3L206.5,381.3L206.5,381.3L206.5,381.3L206.6,381.2L206.6,381.0L206.7,380.9L206.7,380.7L206.8,380.6L206.8,380.3L206.9,380.1L206.9,379.9L207.0,379.6L207.0,379.5L207.0,379.2L207.1,378.8L207.1,378.2L207.2,377.5L207.2,376.6L207.3,375.5L207.3,374.2L207.4,372.5L207.4,370.5L207.5,368.2L207.5,367.7L207.5,365.3L207.6,362.0L207.6,358.2L207.7,353.8L207.7,348.7L207.8,342.9L207.8,336.3L207.9,329.0L207.9,320.9L208.0,311.9L208.0,310.4L208.0,302.3L208.1,292.0L208.1,281.1L208.2,269.7L208.2,258.0L208.3,246.2L208.3,234.4L208.4,224.7L208.4,224.7L208.5,224.7L208.5,224.7L208.5,224.7L208.6,224.7L208.6,224.7L208.7,224.7L208.7,224.7L208.8,224.7L208.8,224.7L208.9,224.7L208.9,224.7L209.0,224.7L209.0,224.7L209.0,224.7L209.1,224.7L209.1,224.7L209.2,224.7L209.2,224.7L209.3,227.7L209.3,239.4L209.4,251.2L209.4,262.9L209.5,274.4L209.5,276.2L209.5,285.5L209.6,296.0L209.6,306.0L209.7,315.3L209.7,323.9L209.8,331.8L209.8,338.9L209.9,345.2L209.9,350.8L210.0,355.8L210.0,356.5L210.0,360.0L210.1,363.7L210.1,366.8L210.2,369.4L210.2,371.6L210.3,373.4L210.3,375.0L210.4,376.2L210.4,377.2L210.5,378.1L210.5,378.2L210.5,378.7L210.6,379.3L210.6,379.7L210.7,380.1L210.7,380.4L210.8,380.6L210.8,380.8L210.9,381.0L210.9,381.1L211.0,381.2L211.0,381.3L211.0,381.3L211.1,381.4L211.1,381.5L211.2,381.6L211.2,381.6L211.3,381.7L211.3,381.7L211.4,381.7L211.4,381.8L211.5,381.9L211.5,381.9L211.5,382.0L211.6,382.0L211.6,382.1L211.7,382.2L211.7,382.3L211.8,382.4L211.8,382.4L211.9,382.4L211.9,382.4L212.0,382.5L212.0,382.5L212.0,382.5L212.1,382.5L212.1,382.5L212.2,382.5L212.2,382.5L212.3,382.5L212.3,382.5L212.4,382.5L212.4,382.5L212.5,382.5L212.5,382.5L212.5,382.5L212.6,382.5L212.6,382.5L212.7,382.6L212.7,382.6L212.8,382.6L212.8,382.6L212.9,382.6L212.9,382.7L213.0,382.7L213.0,382.7L213.0,382.7L213.1,382.8L213.1,382.8L213.2,382.8L213.2,382.8L213.3,382.8L213.3,382.9L213.4,382.9L213.4,382.9L213.5,382.9L213.5,382.9L213.5,382.9L213.6,382.9L213.6,383.0L213.7,383.0L213.7,383.0L213.8,383.0L213.8,383.0L214.0,383.0L214.5,382.8L215.0,383.2L215.5,382.9L216.0,383.2L216.5,383.2L217.0,383.5L217.5,383.4L218.0,383.3L218.5,383.4L219.0,383.5L219.5,383.3L220.0,383.6L220.5,383.5L221.0,383.6L221.5,383.6L222.0,383.4L222.5,383.4L223.0,383.7L223.5,383.7L224.0,383.5L224.5,383.7L225.0,383.5L225.5,383.6L226.0,383.4L226.5,383.5L227.0,383.4L227.5,383.3L228.0,383.4L228.5,383.3L229.0,383.5L229.5,383.6L230.0,383.6L230.5,383.5L231.0,383.4L231.5,383.5L232.0,383.8L232.5,383.5L233.0,383.5L233.5,383.5L234.0,383.7L234.5,383.6L235.0,383.5L235.5,383.5L236.0,383.5L236.5,383.5L237.0,383.6L237.5,383.3L238.0,383.5L238.5,383.5L239.0,383.3L239.5,383.1L240.0,383.5L240.5,383.1L241.0,383.0L241.5,383.0L241.8,383.2L241.9,383.2L241.9,383.2L242.0,383.2L242.0,383.2L242.0,383.2L242.1,383.1L242.1,383.1L242.2,383.1L242.2,383.0L242.3,383.1L242.3,383.1L242.4,383.1L242.4,383.1L242.5,383.1L242.5,383.1L242.5,383.1L242.6,383.2L242.6,383.1L242.7,383.1L242.7,383.1L242.8,383.1L242.8,383.1L242.9,383.1L242.9,383.0L243.0,383.0L243.0,383.0L243.0,382.9L243.1,382.8L243.1,382.7L243.2,382.7L243.2,382.6L243.3,382.5L243.3,382.5L243.4,382.5L243.4,382.5L243.5,382.5L243.5,382.5L243.5,382.5L243.6,382.6L243.6,382.6L243.7,382.5L243.7,382.4L243.8,382.2L243.8,382.1L243.9,382.0L243.9,381.9L244.0,381.8L244.0,381.8L244.0,381.8L244.1,381.8L244.1,381.8L244.2,381.8L244.2,381.8L244.3,381.8L244.3,381.8L244.4,381.7L244.4,381.7L244.5,381.6L244.5,381.6L244.5,381.5L244.6,381.4L244.6,381.4L244.7,381.3L244.7,381.1L244.8,380.9L244.8,380.7L244.9,380.4L244.9,380.1L245.0,379.7L245.0,379.7L245.0,379.3L245.1,378.8L245.1,378.1L245.2,377.3L245.2,376.4L245.3,375.2L245.3,373.8L245.4,372.0L245.4,370.0L245.5,367.5L245.5,367.2L245.5,364.6L245.6,361.1L245.6,356.9L245.7,352.0L245.7,346.4L245.8,339.9L245.8,332.5L245.9,324.2L245.9,314.9L246.0,304.6L246.0,303.3L246.0,293.3L246.1,281.2L246.1,268.1L246.2,254.3L246.2,239.9L246.3,225.1L246.3,224.7L246.4,224.7L246.4,224.7L246.5,224.7L246.5,224.7L246.5,224.7L246.6,224.7L246.6,224.7L246.7,224.7L246.7,224.7L246.8,224.7L246.8,224.7L246.9,224.7L246.9,224.7L247.0,224.7L247.0,224.7L247.0,224.7L247.1,224.7L247.1,224.7L247.2,224.7L247.2,224.7L247.3,224.7L247.3,224.7L247.4,224.7L247.4,224.7L247.5,231.1L247.5,232.9L247.5,245.7L247.6,259.8L247.6,273.2L247.7,285.9L247.7,297.7L247.8,308.6L247.8,318.5L247.9,327.4L247.9,335.4L248.0,342.5L248.0,343.3L248.0,348.7L248.1,354.1L248.1,358.8L248.2,362.7L248.2,366.1L248.3,368.9L248.3,371.2L248.4,373.2L248.4,374.8L248.5,376.1L248.5,376.3L248.5,377.2L248.6,378.1L248.6,378.7L248.7,379.3L248.7,379.7L248.8,380.1L248.8,380.4L248.9,380.6L248.9,380.8L249.0,381.0L249.0,381.0L249.0,381.2L249.1,381.3L249.1,381.4L249.2,381.5L249.2,381.6L249.3,381.7L249.3,381.8L249.4,381.8L249.4,381.8L249.5,381.9L249.5,381.9L249.5,381.9L249.6,381.9L249.6,382.0L249.7,382.1L249.7,382.1L249.8,382.2L249.8,382.2L249.9,382.3L249.9,382.3L250.0,382.3L250.0,382.3L250.0,382.3L250.1,382.3L250.1,382.3L250.2,382.3L250.2,382.4L250.3,382.4L250.3,382.4L250.4,382.4L250.4,382.5L250.5,382.5L250.5,382.5L250.5,382.5L250.6,382.6L250.6,382.6L250.7,382.7L250.7,382.8L250.8,382.8L250.8,382.9L250.9,383.0L250.9,383.1L251.0,383.1L251.0,383.1L251.0,383.1L251.1,383.1L251.1,383.0L251.2,383.0L251.2,383.0L251.3,382.9L251.3,382.9L251.4,382.9L251.4,382.9L251.5,382.9L251.5,382.9L251.5,382.9L251.6,382.9L251.6,382.9L251.7,382.9L251.7,382.9L251.8,382.9L251.8,383.0L251.9,383.0L252.0,383.0L252.5,383.1L253.0,383.4L253.5,383.2L254.0,383.6L254.5,383.2L255.0,383.5L255.5,383.6L256.0,383.7L256.5,383.6L257.0,383.5L257.5,383.6L258.0,383.7L258.5,383.6L259.0,383.5L259.5,383.6L260.0,383.5L260.5,383.5L261.0,383.4L261.5,383.6" fill="none" stroke="#8a8a8a" stroke-width="0.85" stroke-linejoin="round" /><path d="M51.5,326.0L52.0,325.8L52.5,325.9L53.0,326.1L53.5,325.6L54.0,325.7L54.5,325.8L55.0,325.7L55.5,326.2L56.0,325.8L56.5,325.7L57.0,325.6L57.5,325.8L58.0,325.8L58.5,326.0L59.0,325.9L59.5,325.6L60.0,326.0L60.5,326.0L61.0,325.8L61.5,325.9L62.0,326.2L62.5,326.1L63.0,325.9L63.5,326.0L64.0,326.3L64.5,326.1L65.0,326.4L65.5,325.9L66.0,326.1L66.5,326.3L67.0,326.2L67.5,326.3L68.0,326.7L68.5,326.6L69.0,326.8L69.5,326.7L70.0,327.0L70.5,327.0L71.0,327.0L71.5,327.3L72.0,327.2L72.5,326.9L73.0,327.2L73.5,327.5L74.0,327.5L74.5,327.9L75.0,327.8L75.5,328.0L76.0,328.4L76.5,328.3L77.0,328.4L77.5,328.4L78.0,328.4L78.5,328.6L79.0,328.7L79.5,328.9L80.0,328.9L80.5,329.0L81.0,329.2L81.5,329.2L82.0,329.2L82.5,329.6L83.0,329.6L83.5,329.2L84.0,329.7L84.5,329.6L85.0,329.8L85.5,330.0L86.0,329.9L86.5,330.0L87.0,330.2L87.5,330.0L88.0,330.4L88.5,330.8L89.0,330.6L89.5,330.8L90.0,330.7L90.5,331.2L91.0,331.1L91.5,331.3L92.0,331.3L92.5,331.4L93.0,331.4L93.5,331.4L94.0,331.2L94.5,331.5L95.0,332.0L95.5,332.0L96.0,331.9L96.5,332.1L97.0,331.9L97.5,332.2L98.0,332.1L98.5,332.2L99.0,332.3L99.5,332.5L100.0,332.5L100.5,332.1L101.0,332.2L101.5,332.4L102.0,332.7L102.5,332.7L103.0,332.8L103.5,332.9L104.0,333.1L104.5,333.1L105.0,333.2L105.5,332.9L106.0,333.3L106.5,333.2L107.0,333.5L107.5,333.5L108.0,333.4L108.5,333.5L109.0,333.4L109.5,333.6L110.0,333.7L110.5,333.8L111.0,333.9L111.5,333.8L112.0,333.7L112.5,333.8L113.0,333.9L113.5,334.0L114.0,334.0L114.5,334.2L115.0,334.3L115.5,334.4L116.0,334.2L116.5,334.1L117.0,334.0L117.5,334.5L118.0,334.5L118.5,334.6L119.0,334.3L119.5,334.6L120.0,334.5L120.5,334.5L121.0,334.5L121.5,334.4L122.0,334.5L122.5,334.5L123.0,334.6L123.5,334.9L124.0,334.8L124.5,334.8L125.0,335.1L125.5,334.6L126.0,335.0L126.5,335.1L127.0,334.8L127.5,334.5L128.0,333.7L128.5,332.7L129.0,333.4L129.5,334.2L130.0,334.5L130.5,335.1L131.0,335.1L131.5,335.1L132.0,335.2L132.5,335.2L133.0,335.3L133.5,335.2L134.0,335.4L134.5,335.1L135.0,335.0L135.5,335.3L136.0,334.8L136.5,334.6L137.0,334.6L137.5,334.2L137.5,334.2L137.6,334.1L137.6,334.1L137.7,334.1L137.7,334.1L137.8,334.1L137.8,334.1L137.9,334.1L137.9,334.1L138.0,334.1L138.0,334.1L138.0,334.1L138.1,334.1L138.1,334.0L138.2,334.0L138.2,334.0L138.3,334.0L138.3,333.9L138.4,333.9L138.4,333.8L138.5,333.7L138.5,333.7L138.5,333.7L138.6,333.6L138.6,333.5L138.7,333.5L138.7,333.3L138.8,333.2L138.8,333.1L138.9,332.9L138.9,332.8L139.0,332.6L139.0,332.6L139.0,332.5L139.1,332.5L139.1,332.4L139.2,332.4L139.2,332.3L139.3,332.3L139.3,332.2L139.4,332.1L139.4,332.0L139.5,331.8L139.5,331.7L139.5,331.7L139.6,331.5L139.6,331.4L139.7,331.2L139.7,331.1L139.8,331.0L139.8,330.9L139.9,330.7L139.9,330.6L140.0,330.5L140.0,330.4L140.0,330.3L140.1,330.1L140.1,329.8L140.2,329.6L140.2,329.2L140.3,328.9L140.3,328.5L140.4,328.1L140.4,327.6L140.5,327.2L140.5,326.8L140.5,326.6L140.6,326.0L140.6,325.2L140.7,324.2L140.7,323.0L140.8,321.5L140.8,319.6L140.9,317.2L140.9,314.3L141.0,310.8L141.0,307.9L141.0,306.4L141.1,301.1L141.1,294.7L141.2,286.9L141.2,277.5L141.3,266.4L141.3,253.4L141.4,238.1L141.4,224.7L141.5,224.7L141.5,224.7L141.5,224.7L141.6,224.7L141.6,224.7L141.7,224.7L141.7,224.7L141.8,224.7L141.8,224.7L141.9,224.7L141.9,224.7L142.0,224.7L142.0,224.7L142.0,224.7L142.1,224.7L142.1,224.7L142.2,224.7L142.2,224.7L142.3,224.7L142.3,224.7L142.4,224.7L142.4,224.7L142.5,224.7L142.5,224.7L142.5,224.7L142.6,224.7L142.6,224.7L142.7,224.7L142.7,224.7L142.8,224.7L142.8,224.7L142.9,224.7L142.9,224.7L143.0,224.7L143.0,224.7L143.0,224.7L143.1,224.7L143.1,224.7L143.2,224.7L143.2,224.7L143.3,224.7L143.3,224.7L143.4,224.7L143.4,224.7L143.5,224.7L143.5,224.7L143.5,224.7L143.6,224.7L143.6,224.7L143.7,224.7L143.7,228.5L143.8,245.1L143.8,259.4L143.9,271.6L143.9,281.9L144.0,290.5L144.0,295.5L144.0,297.6L144.1,303.5L144.1,308.4L144.2,312.3L144.2,315.5L144.3,318.1L144.3,320.3L144.4,322.0L144.4,323.4L144.5,324.6L144.5,325.2L144.5,325.5L144.6,326.3L144.6,326.9L144.7,327.5L144.7,327.9L144.8,328.3L144.8,328.7L144.9,329.0L144.9,329.3L145.0,329.5L145.0,329.7L145.0,329.7L145.1,329.9L145.1,330.1L145.2,330.2L145.2,330.4L145.3,330.5L145.3,330.7L145.4,330.8L145.4,331.0L145.5,331.2L145.5,331.3L145.5,331.3L145.6,331.5L145.6,331.6L145.7,331.8L145.7,331.8L145.8,331.9L145.8,332.0L145.9,332.1L145.9,332.1L146.0,332.2L146.0,332.2L146.0,332.3L146.1,332.4L146.1,332.5L146.2,332.6L146.2,332.7L146.3,332.8L146.3,332.9L146.4,333.0L146.4,332.9L146.5,332.9L146.5,332.9L146.5,332.8L146.6,332.8L146.6,332.7L146.7,332.7L146.7,332.6L146.8,332.6L146.8,332.5L146.9,332.5L146.9,332.4L147.0,332.3L147.0,332.3L147.0,332.3L147.1,332.2L147.1,332.2L147.2,332.2L147.2,332.2L147.3,332.2L147.3,332.2L147.4,332.2L147.4,332.2L147.5,332.2L147.5,332.2L147.5,332.2L147.6,332.2L148.0,332.6L148.5,333.1L148.6,333.6L148.7,333.7L148.7,333.8L148.8,334.0L148.8,334.0L148.9,334.0L148.9,334.0L149.0,334.0L149.0,334.0L149.0,334.0L149.1,334.0L149.1,334.0L149.2,334.0L149.2,334.0L149.3,334.0L149.3,334.0L149.4,334.0L149.4,334.0L149.5,333.9L149.5,333.9L149.5,333.9L149.6,333.9L149.6,333.9L149.7,333.9L149.7,333.9L149.8,333.8L149.8,333.8L149.9,333.8L149.9,333.9L150.0,333.9L150.0,333.9L150.0,333.9L150.1,333.9L150.1,333.9L150.2,333.9L150.2,333.9L150.3,333.8L150.3,333.7L150.4,333.7L150.4,333.6L150.5,333.6L150.5,333.6L150.5,333.5L150.6,333.5L150.6,333.4L150.7,333.4L150.7,333.4L150.8,333.3L150.8,333.3L150.9,333.2L150.9,333.1L151.0,333.0L151.0,333.0L151.0,333.0L151.1,332.9L151.1,332.8L151.2,332.6L151.2,332.5L151.3,332.4L151.3,332.3L151.4,332.2L151.4,332.0L151.5,331.8L151.5,331.8L151.5,331.6L151.6,331.4L151.6,331.2L151.7,330.9L151.7,330.5L151.8,330.0L151.8,329.5L151.9,328.8L151.9,327.9L152.0,326.8L152.0,326.7L152.0,325.4L152.1,323.6L152.1,321.5L152.2,319.0L152.2,315.9L152.3,312.2L152.3,307.7L152.4,302.5L152.4,296.3L152.5,289.0L152.5,288.4L152.5,280.6L152.6,271.0L152.6,260.0L152.7,247.7L152.7,234.0L152.8,224.7L152.8,224.7L152.9,224.7L152.9,224.7L153.0,224.7L153.0,224.7L153.0,224.7L153.1,224.7L153.1,224.7L153.2,224.7L153.2,224.7L153.3,224.7L153.3,224.7L153.4,224.7L153.4,224.7L153.5,224.7L153.5,224.7L153.5,224.7L153.6,224.7L153.6,224.7L153.7,224.7L153.7,224.7L153.8,224.7L153.8,224.7L153.9,224.7L153.9,224.7L154.0,224.7L154.0,224.7L154.0,224.7L154.1,224.7L154.1,224.7L154.2,224.7L154.2,224.7L154.3,224.7L154.3,224.7L154.4,224.7L154.4,224.7L154.5,224.7L154.5,224.7L154.5,224.7L154.6,225.0L154.6,239.6L154.7,252.9L154.7,264.7L154.8,275.0L154.8,284.0L154.9,291.9L154.9,298.6L155.0,304.3L155.0,304.7L155.0,309.1L155.1,313.1L155.1,316.5L155.2,319.3L155.2,321.6L155.3,323.4L155.3,324.9L155.4,326.1L155.4,327.1L155.5,327.9L155.5,328.0L155.5,328.6L155.6,329.1L155.6,329.6L155.7,329.9L155.7,330.2L155.8,330.5L155.8,330.7L155.9,331.0L155.9,331.2L156.0,331.4L156.0,331.4L156.0,331.5L156.1,331.7L156.1,331.9L156.2,331.9L156.2,331.9L156.3,332.0L156.3,332.0L156.3,332.0L156.4,332.0L156.4,332.0L156.4,332.0L156.4,332.0L156.5,332.1L156.5,332.1L156.5,332.1L156.5,332.1L156.5,332.1L156.6,332.1L156.6,332.1L156.6,332.2L156.6,332.2L156.7,332.2L156.7,332.2L156.7,332.2L156.7,332.3L156.8,332.3L156.8,332.3L156.8,332.3L156.8,332.3L156.9,332.3L156.9,332.3L156.9,332.3L156.9,332.3L157.0,332.3L157.0,332.3L157.0,332.3L157.0,332.3L157.0,332.3L157.1,332.3L157.1,332.3L157.1,332.3L157.1,332.3L157.2,332.3L157.2,332.3L157.2,332.2L157.2,332.2L157.3,332.1L157.3,332.1L157.3,332.1L157.3,332.0L157.4,332.0L157.4,332.0L157.4,331.9L157.4,331.9L157.5,331.8L157.5,331.8L157.5,331.8L157.5,331.7L157.5,331.7L157.6,331.7L157.6,331.7L157.6,331.8L157.6,331.8L157.7,331.8L157.7,331.8L157.7,331.8L157.7,331.8L157.8,331.8L157.8,331.8L157.8,331.8L157.8,331.8L157.9,331.8L157.9,331.8L157.9,331.7L157.9,331.7L158.0,331.6L158.0,331.5L158.0,331.5L158.0,331.4L158.0,331.4L158.1,331.2L158.1,331.2L158.1,331.1L158.1,331.0L158.2,330.9L158.2,330.8L158.2,330.7L158.2,330.6L158.3,330.6L158.3,330.5L158.3,330.5L158.3,330.4L158.4,330.3L158.4,330.3L158.4,330.2L158.4,330.2L158.5,330.1L158.5,330.1L158.5,330.1L158.5,330.0L158.5,329.9L158.6,329.8L158.6,329.8L158.6,329.6L158.6,329.5L158.7,329.4L158.7,329.3L158.7,329.1L158.8,328.8L158.8,328.6L158.9,328.2L158.9,327.9L159.0,327.6L159.0,327.5L159.0,327.3L159.1,327.0L159.1,326.6L159.2,326.1L159.2,325.6L159.3,325.0L159.3,324.3L159.4,323.4L159.4,322.4L159.5,321.1L159.5,320.6L159.5,319.5L159.6,317.6L159.6,315.2L159.7,312.1L159.7,308.4L159.8,303.8L159.8,298.2L159.9,291.3L159.9,283.0L160.0,273.0L160.0,268.9L160.0,261.0L160.1,246.8L160.1,230.0L160.2,224.7L160.2,224.7L160.3,224.7L160.3,224.7L160.4,224.7L160.4,224.7L160.5,224.7L160.5,224.7L160.5,224.7L160.6,224.7L160.6,224.7L160.7,224.7L160.7,224.7L160.8,224.7L160.8,224.7L160.9,224.7L160.9,224.7L161.0,224.7L161.0,224.7L161.0,224.7L161.1,224.7L161.1,224.7L161.2,224.7L161.2,224.7L161.3,224.7L161.3,224.7L161.4,224.7L161.4,224.7L161.5,224.7L161.5,224.7L161.5,224.7L161.6,224.7L161.6,224.7L161.7,224.7L161.7,224.7L161.8,224.7L161.8,224.7L161.9,224.7L161.9,224.7L162.0,224.7L162.0,224.7L162.0,224.7L162.1,224.7L162.1,224.7L162.2,224.7L162.2,224.7L162.3,224.7L162.3,224.7L162.4,224.7L162.4,224.7L162.5,224.7L162.5,224.7L162.5,224.7L162.6,224.7L162.6,237.4L162.7,253.1L162.7,266.4L162.8,277.6L162.8,286.9L162.9,294.6L162.9,300.9L163.0,306.1L163.0,307.7L163.0,310.3L163.1,313.8L163.1,316.5L163.2,318.8L163.2,320.6L163.3,322.1L163.3,323.3L163.4,324.2L163.4,325.1L163.5,325.8L163.5,326.0L163.5,326.4L163.6,327.0L163.6,327.5L163.7,328.0L163.7,328.4L163.8,328.8L163.8,329.1L163.9,329.4L163.9,329.7L164.0,330.0L164.0,330.1L164.0,330.2L164.1,330.5L164.1,330.7L164.2,330.9L164.2,331.1L164.3,331.3L164.3,331.4L164.4,331.6L164.4,331.8L164.5,331.9L164.5,331.9L164.5,332.0L164.6,332.1L164.6,332.2L164.7,332.3L164.7,332.4L164.8,332.5L164.8,332.6L164.9,332.6L164.9,332.8L165.0,333.0L165.0,333.0L165.0,333.1L165.1,333.3L165.1,333.5L165.2,333.6L165.2,333.8L165.3,333.9L165.3,333.9L165.4,333.9L165.4,333.9L165.5,333.9L165.5,333.9L165.5,333.9L165.6,333.9L165.6,333.9L165.7,334.0L165.7,334.2L165.8,334.3L165.8,334.4L165.9,334.5L165.9,334.6L166.0,334.7L166.0,334.7L166.0,334.7L166.1,334.8L166.1,334.9L166.2,334.9L166.2,335.0L166.3,335.0L166.3,335.0L166.4,335.0L166.5,335.0L167.0,335.4L167.5,335.8L168.0,335.7L168.5,335.9L169.0,336.1L169.5,336.2L170.0,336.4L170.5,336.5L171.0,336.7L171.5,336.7L172.0,336.8L172.5,337.0L173.0,336.8L173.5,336.9L174.0,336.9L174.5,336.9L175.0,337.3L175.5,337.2L176.0,337.1L176.5,337.2L177.0,337.7L177.5,337.4L178.0,337.4L178.5,337.6L179.0,337.6L179.5,337.7L180.0,337.6L180.5,337.9L181.0,338.0L181.5,337.8L182.0,338.1L182.5,338.0L183.0,338.2L183.5,338.3L184.0,338.0L184.5,337.9L185.0,338.1L185.5,338.2L186.0,338.2L186.5,338.1L187.0,338.4L187.5,338.4L188.0,338.4L188.5,338.4L189.0,338.5L189.5,338.5L190.0,338.5L190.5,338.5L191.0,338.4L191.5,338.6L192.0,338.4L192.5,338.8L193.0,338.8L193.5,338.7L194.0,338.8L194.5,339.1L195.0,338.9L195.5,339.1L196.0,339.1L196.5,339.1L197.0,339.0L197.5,339.3L198.0,339.3L198.5,339.5L199.0,339.1L199.5,339.3L200.0,339.1L200.5,339.2L201.0,339.3L201.5,339.1L202.0,338.9L202.5,339.2L203.0,339.4L203.5,339.1L203.8,339.2L203.8,339.1L203.9,339.1L203.9,339.1L204.0,339.0L204.0,339.0L204.0,339.0L204.1,338.9L204.1,339.0L204.2,339.0L204.2,339.0L204.3,339.0L204.3,339.0L204.4,339.0L204.4,339.1L204.5,339.0L204.5,339.0L204.5,338.9L204.6,338.9L204.6,338.8L204.7,338.8L204.7,338.7L204.8,338.6L204.8,338.7L204.9,338.8L204.9,338.9L205.0,339.0L205.0,339.0L205.0,339.1L205.1,339.2L205.1,339.3L205.2,339.2L205.2,339.1L205.3,339.1L205.3,339.0L205.4,338.9L205.4,338.9L205.5,338.8L205.5,338.8L205.5,338.7L205.6,338.7L205.6,338.6L205.7,338.5L205.7,338.5L205.8,338.4L205.8,338.4L205.9,338.3L205.9,338.3L206.0,338.3L206.0,338.3L206.0,338.3L206.1,338.3L206.1,338.3L206.2,338.3L206.2,338.3L206.3,338.2L206.3,338.2L206.4,338.2L206.4,338.1L206.5,338.0L206.5,338.0L206.5,338.0L206.6,337.9L206.6,337.8L206.7,337.6L206.7,337.5L206.8,337.3L206.8,337.1L206.9,336.9L206.9,336.7L207.0,336.4L207.0,336.3L207.0,336.0L207.1,335.5L207.1,334.9L207.2,334.2L207.2,333.3L207.3,332.2L207.3,330.7L207.4,329.0L207.4,326.9L207.5,324.5L207.5,324.0L207.5,321.5L207.6,318.1L207.6,314.1L207.7,309.4L207.7,304.0L207.8,298.0L207.8,291.1L207.9,283.5L207.9,275.0L208.0,265.9L208.0,264.4L208.0,256.0L208.1,245.5L208.1,234.4L208.2,224.7L208.2,224.7L208.3,224.7L208.3,224.7L208.4,224.7L208.4,224.7L208.5,224.7L208.5,224.7L208.5,224.7L208.6,224.7L208.6,224.7L208.7,224.7L208.7,224.7L208.8,224.7L208.8,224.7L208.9,224.7L208.9,224.7L209.0,224.7L209.0,224.7L209.0,224.7L209.1,224.7L209.1,224.7L209.2,224.7L209.2,224.7L209.3,224.7L209.3,224.7L209.4,224.7L209.4,224.7L209.5,227.8L209.5,229.7L209.5,239.2L209.6,250.1L209.6,260.4L209.7,269.9L209.7,278.8L209.8,286.9L209.8,294.2L209.9,300.8L209.9,306.6L210.0,311.6L210.0,312.4L210.0,316.0L210.1,319.8L210.1,323.0L210.2,325.6L210.2,327.9L210.3,329.8L210.3,331.3L210.4,332.6L210.4,333.6L210.5,334.4L210.5,334.5L210.5,335.1L210.6,335.6L210.6,336.0L210.7,336.3L210.7,336.6L210.8,336.8L210.8,337.0L210.9,337.2L210.9,337.4L211.0,337.5L211.0,337.5L211.0,337.6L211.1,337.7L211.1,337.8L211.2,337.9L211.2,338.0L211.3,338.1L211.3,338.2L211.4,338.3L211.4,338.4L211.5,338.5L211.5,338.5L211.5,338.5L211.6,338.6L211.6,338.7L211.7,338.7L211.7,338.8L211.8,338.9L211.8,338.9L211.9,339.0L211.9,339.0L212.0,339.0L212.0,339.0L212.0,339.1L212.1,339.1L212.1,339.2L212.2,339.2L212.2,339.2L212.3,339.2L212.3,339.2L212.4,339.2L212.4,339.2L212.5,339.2L212.5,339.2L212.5,339.2L212.6,339.3L212.6,339.3L212.7,339.4L212.7,339.5L212.8,339.5L212.8,339.6L212.9,339.5L212.9,339.5L213.0,339.4L213.0,339.4L213.0,339.3L213.1,339.2L213.1,339.2L213.2,339.1L213.2,339.1L213.3,339.2L213.3,339.2L213.4,339.3L213.4,339.3L213.5,339.4L213.5,339.4L213.5,339.4L213.6,339.4L213.6,339.4L213.7,339.4L213.7,339.4L213.8,339.3L213.8,339.3L214.0,339.2L214.5,339.2L215.0,339.7L215.5,339.3L216.0,339.8L216.5,339.8L217.0,339.9L217.5,339.6L218.0,340.0L218.5,339.8L219.0,339.7L219.5,339.7L220.0,339.7L220.5,340.1L221.0,339.8L221.5,339.8L222.0,339.8L222.5,340.0L223.0,339.7L223.5,339.9L224.0,339.5L224.5,339.6L225.0,339.9L225.5,339.4L226.0,339.8L226.5,339.9L227.0,340.0L227.5,340.0L228.0,339.8L228.5,340.0L229.0,340.2L229.5,340.1L230.0,340.0L230.5,339.8L231.0,339.9L231.5,339.9L232.0,340.0L232.5,340.0L233.0,340.0L233.5,339.7L234.0,340.0L234.5,340.1L235.0,340.1L235.5,340.1L236.0,339.8L236.5,340.3L237.0,340.1L237.5,340.2L238.0,339.8L238.5,339.9L239.0,340.1L239.5,339.6L240.0,339.8L240.5,339.6L241.0,339.4L241.5,339.6L241.8,339.6L241.9,339.5L241.9,339.5L242.0,339.5L242.0,339.5L242.0,339.5L242.1,339.5L242.1,339.4L242.2,339.4L242.2,339.4L242.3,339.4L242.3,339.4L242.4,339.5L242.4,339.5L242.5,339.5L242.5,339.5L242.5,339.5L242.6,339.5L242.6,339.5L242.7,339.5L242.7,339.5L242.8,339.5L242.8,339.5L242.9,339.5L242.9,339.5L243.0,339.5L243.0,339.4L243.0,339.4L243.1,339.3L243.1,339.3L243.2,339.2L243.2,339.2L243.3,339.1L243.3,339.1L243.4,339.1L243.4,339.1L243.5,339.1L243.5,339.1L243.5,339.1L243.6,339.1L243.6,339.1L243.7,339.0L243.7,338.9L243.8,338.9L243.8,338.8L243.9,338.7L243.9,338.7L244.0,338.6L244.0,338.6L244.0,338.5L244.1,338.5L244.1,338.4L244.2,338.3L244.2,338.3L244.3,338.2L244.3,338.1L244.4,338.0L244.4,337.8L244.5,337.7L244.5,337.6L244.5,337.5L244.6,337.3L244.6,337.1L244.7,336.9L244.7,336.8L244.8,336.7L244.8,336.6L244.9,336.4L244.9,336.2L245.0,335.9L245.0,335.9L245.0,335.5L245.1,335.0L245.1,334.2L245.2,333.3L245.2,332.2L245.3,330.9L245.3,329.2L245.4,327.2L245.4,324.8L245.5,321.9L245.5,321.6L245.5,318.5L245.6,314.4L245.6,309.5L245.7,303.8L245.7,297.3L245.8,289.7L245.8,281.1L245.9,271.3L245.9,260.5L246.0,248.5L246.0,247.0L246.0,235.5L246.1,224.7L246.1,224.7L246.2,224.7L246.2,224.7L246.3,224.7L246.3,224.7L246.4,224.7L246.4,224.7L246.5,224.7L246.5,224.7L246.5,224.7L246.6,224.7L246.6,224.7L246.7,224.7L246.7,224.7L246.8,224.7L246.8,224.7L246.9,224.7L246.9,224.7L247.0,224.7L247.0,224.7L247.0,224.7L247.1,224.7L247.1,224.7L247.2,224.7L247.2,224.7L247.3,224.7L247.3,224.7L247.4,224.7L247.4,224.7L247.5,224.7L247.5,224.7L247.5,224.7L247.6,224.7L247.6,224.7L247.7,227.4L247.7,241.1L247.8,253.7L247.8,265.2L247.9,275.5L247.9,284.8L248.0,292.9L248.0,293.8L248.0,300.0L248.1,306.2L248.1,311.5L248.2,316.0L248.2,319.8L248.3,323.1L248.3,325.8L248.4,328.0L248.4,329.9L248.5,331.4L248.5,331.5L248.5,332.6L248.6,333.6L248.6,334.5L248.7,335.1L248.7,335.7L248.8,336.2L248.8,336.6L248.9,336.9L248.9,337.1L249.0,337.3L249.0,337.3L249.0,337.5L249.1,337.6L249.1,337.7L249.2,337.8L249.2,337.9L249.3,338.0L249.3,338.1L249.4,338.1L249.4,338.2L249.5,338.3L249.5,338.3L249.5,338.3L249.6,338.4L249.6,338.4L249.7,338.5L249.7,338.5L249.8,338.6L249.8,338.6L249.9,338.6L249.9,338.7L250.0,338.7L250.0,338.7L250.0,338.8L250.1,338.9L250.1,339.0L250.2,339.0L250.2,339.1L250.3,339.2L250.3,339.2L250.4,339.2L250.4,339.2L250.5,339.2L250.5,339.2L250.5,339.3L250.6,339.3L250.6,339.3L250.7,339.4L250.7,339.4L250.8,339.5L250.8,339.6L250.9,339.6L250.9,339.7L251.0,339.8L251.0,339.8L251.0,339.8L251.1,339.8L251.1,339.8L251.2,339.8L251.2,339.8L251.3,339.8L251.3,339.8L251.4,339.7L251.4,339.6L251.5,339.6L251.5,339.6L251.5,339.5L251.6,339.4L251.6,339.4L251.7,339.3L251.7,339.4L251.8,339.5L251.8,339.6L251.9,339.8L252.0,340.0L252.5,339.8L253.0,339.9L253.5,340.1L254.0,340.0L254.5,340.0L255.0,340.3L255.5,340.2L256.0,340.2L256.5,340.0L257.0,340.0L257.5,340.1L258.0,339.9L258.5,339.9L259.0,340.2L259.5,340.2L260.0,340.3L260.5,340.2L261.0,340.3L261.5,340.6" fill="none" stroke="#f06c6c" stroke-width="0.85" stroke-linejoin="round" /><path d="M51.5,282.8L52.0,282.8L52.5,283.1L53.0,283.0L53.5,282.9L54.0,282.4L54.5,283.0L55.0,282.6L55.5,282.7L56.0,283.0L56.5,282.7L57.0,283.0L57.5,283.0L58.0,283.3L58.5,283.4L59.0,283.0L59.5,282.7L60.0,282.7L60.5,283.3L61.0,282.8L61.5,282.7L62.0,283.3L62.5,283.0L63.0,282.9L63.5,281.2L64.0,276.7L64.5,269.7L65.0,273.7L65.5,280.3L66.0,283.1L66.5,283.7L67.0,283.7L67.5,284.0L68.0,284.3L68.5,284.1L69.0,284.3L69.5,284.9L70.0,284.6L70.5,284.9L71.0,284.9L71.5,284.8L72.0,285.1L72.5,285.3L73.0,285.5L73.5,285.9L74.0,285.8L74.5,285.6L75.0,285.6L75.5,286.3L76.0,285.9L76.5,286.7L77.0,286.4L77.5,286.0L78.0,286.5L78.5,286.8L79.0,286.5L79.5,287.0L80.0,287.0L80.5,287.1L81.0,287.3L81.5,287.4L82.0,287.4L82.5,287.2L83.0,287.6L83.5,287.6L84.0,287.5L84.5,287.8L85.0,288.2L85.5,288.0L86.0,288.7L86.5,288.2L87.0,288.3L87.5,287.5L88.0,288.5L88.5,288.3L89.0,288.2L89.5,288.5L90.0,288.2L90.5,288.5L91.0,288.6L91.5,288.7L92.0,288.7L92.5,288.9L93.0,288.5L93.5,288.7L94.0,288.9L94.5,289.4L95.0,289.1L95.5,289.4L96.0,288.8L96.5,289.1L97.0,289.4L97.5,288.9L98.0,289.6L98.5,288.7L99.0,289.1L99.5,289.3L100.0,289.5L100.5,288.8L101.0,289.2L101.5,289.0L102.0,288.9L102.5,288.8L103.0,289.3L103.5,289.4L104.0,289.9L104.5,289.9L105.0,289.8L105.5,290.0L106.0,290.3L106.5,290.1L107.0,289.9L107.5,290.4L108.0,289.8L108.5,290.5L109.0,290.3L109.5,290.7L110.0,290.0L110.5,290.1L111.0,290.1L111.5,289.6L112.0,289.9L112.5,290.6L113.0,290.3L113.5,290.7L114.0,290.6L114.5,290.9L115.0,290.8L115.5,290.9L116.0,290.9L116.5,290.6L117.0,290.8L117.5,291.1L118.0,291.6L118.5,290.8L119.0,291.2L119.5,291.0L120.0,291.0L120.5,291.0L121.0,291.1L121.5,291.8L122.0,291.2L122.5,291.2L123.0,290.9L123.5,291.7L124.0,292.0L124.5,291.7L125.0,291.6L125.5,291.7L126.0,292.3L126.5,291.4L127.0,291.1L127.5,289.8L128.0,288.1L128.5,287.0L129.0,289.3L129.5,290.6L130.0,291.4L130.5,291.8L131.0,291.9L131.5,291.9L132.0,291.4L132.5,291.4L133.0,291.0L133.5,290.5L134.0,290.5L134.5,290.3L135.0,290.2L135.5,289.7L136.0,289.0L136.5,288.7L137.0,288.2L137.5,287.7L137.5,287.7L137.6,287.8L137.6,287.8L137.7,287.9L137.7,287.9L137.8,288.0L137.8,288.0L137.9,288.1L137.9,288.2L138.0,288.2L138.0,288.1L138.0,288.1L138.1,287.9L138.1,287.8L138.2,287.7L138.2,287.6L138.3,287.4L138.3,287.4L138.4,287.4L138.4,287.4L138.5,287.4L138.5,287.4L138.5,287.4L138.6,287.4L138.6,287.4L138.7,287.4L138.7,287.4L138.8,287.4L138.8,287.5L138.9,287.5L138.9,287.5L139.0,287.5L139.0,287.5L139.0,287.4L139.1,287.2L139.1,287.0L139.2,286.8L139.2,286.6L139.3,286.3L139.3,286.1L139.4,285.9L139.4,285.7L139.5,285.6L139.5,285.4L139.5,285.4L139.6,285.2L139.6,285.0L139.7,284.8L139.7,284.6L139.8,284.6L139.8,284.5L139.9,284.4L139.9,284.4L140.0,284.3L140.0,284.2L140.0,284.2L140.1,284.1L140.1,284.0L140.2,283.8L140.2,283.7L140.3,283.5L140.3,283.3L140.4,283.0L140.4,282.7L140.5,282.3L140.5,282.0L140.5,281.8L140.6,281.2L140.6,280.5L140.7,279.6L140.7,278.6L140.8,277.2L140.8,275.5L140.9,273.4L140.9,270.9L141.0,267.8L141.0,265.3L141.0,264.0L141.1,259.4L141.1,253.9L141.2,247.4L141.2,239.5L141.3,230.2L141.3,224.7L141.4,224.7L141.4,224.7L141.5,224.7L141.5,224.7L141.5,224.7L141.6,224.7L141.6,224.7L141.7,224.7L141.7,224.7L141.8,224.7L141.8,224.7L141.9,224.7L141.9,224.7L142.0,224.7L142.0,224.7L142.0,224.7L142.1,224.7L142.1,224.7L142.2,224.7L142.2,224.7L142.3,224.7L142.3,224.7L142.4,224.7L142.4,224.7L142.5,224.7L142.5,224.7L142.5,224.7L142.6,224.7L142.6,224.7L142.7,224.7L142.7,224.7L142.8,224.7L142.8,224.7L142.9,224.7L142.9,224.7L143.0,224.7L143.0,224.7L143.0,224.7L143.1,224.7L143.1,224.7L143.2,224.7L143.2,224.7L143.3,224.7L143.3,224.7L143.4,224.7L143.4,224.7L143.5,224.7L143.5,224.7L143.5,224.7L143.6,224.7L143.6,224.7L143.7,224.7L143.7,224.7L143.8,224.7L143.8,225.2L143.9,235.7L143.9,244.5L144.0,251.8L144.0,256.0L144.0,257.8L144.1,262.8L144.1,267.0L144.2,270.3L144.2,273.0L144.3,275.3L144.3,277.2L144.4,278.7L144.4,280.0L144.5,281.0L144.5,281.7L144.5,281.9L144.6,282.7L144.6,283.2L144.7,283.6L144.7,283.9L144.8,284.2L144.8,284.4L144.9,284.6L144.9,284.8L145.0,285.0L145.0,285.2L145.0,285.3L145.1,285.6L145.1,285.9L145.2,286.2L145.2,286.5L145.3,286.7L145.3,286.9L145.4,287.0L145.4,287.1L145.5,287.1L145.5,287.2L145.5,287.2L145.6,287.2L145.6,287.2L145.7,287.3L145.7,287.3L145.8,287.4L145.8,287.4L145.9,287.5L145.9,287.5L146.0,287.5L146.0,287.5L146.0,287.5L146.1,287.6L146.1,287.7L146.2,287.7L146.2,287.7L146.3,287.7L146.3,287.7L146.4,287.7L146.4,287.4L146.5,287.1L146.5,287.0L146.5,286.9L146.6,286.6L146.6,286.3L146.7,285.9L146.7,285.7L146.8,285.5L146.8,285.3L146.9,285.1L146.9,284.9L147.0,284.7L147.0,284.6L147.0,284.5L147.1,284.3L147.1,284.2L147.2,284.2L147.2,284.1L147.3,284.0L147.3,284.0L147.4,284.1L147.4,284.1L147.5,284.0L147.5,284.0L147.5,284.0L147.6,284.0L148.0,285.6L148.5,288.8L148.6,288.8L148.7,288.8L148.7,288.7L148.8,288.7L148.8,288.8L148.9,288.9L148.9,288.9L149.0,289.0L149.0,289.0L149.0,289.1L149.1,289.1L149.1,289.2L149.2,289.2L149.2,289.2L149.3,289.2L149.3,289.2L149.4,289.2L149.4,289.2L149.5,289.2L149.5,289.2L149.5,289.3L149.6,289.3L149.6,289.4L149.7,289.4L149.7,289.5L149.8,289.5L149.8,289.5L149.9,289.5L149.9,289.4L150.0,289.4L150.0,289.3L150.0,289.3L150.1,289.2L150.1,289.1L150.2,289.1L150.2,289.0L150.3,289.0L150.3,288.9L150.4,288.9L150.4,288.8L150.5,288.8L150.5,288.8L150.5,288.7L150.6,288.6L150.6,288.5L150.7,288.4L150.7,288.2L150.8,288.1L150.8,287.9L150.9,287.8L150.9,287.7L151.0,287.7L151.0,287.7L151.0,287.6L151.1,287.6L151.1,287.5L151.2,287.5L151.2,287.4L151.3,287.3L151.3,287.1L151.4,287.0L151.4,286.8L151.5,286.6L151.5,286.6L151.5,286.4L151.6,286.2L151.6,285.8L151.7,285.3L151.7,284.8L151.8,284.1L151.8,283.4L151.9,282.4L151.9,281.3L152.0,280.1L152.0,280.0L152.0,278.7L152.1,276.8L152.1,274.6L152.2,271.8L152.2,268.4L152.3,264.2L152.3,259.2L152.4,253.1L152.4,246.0L152.5,237.7L152.5,237.0L152.5,228.0L152.6,224.7L152.6,224.7L152.7,224.7L152.7,224.7L152.8,224.7L152.8,224.7L152.9,224.7L152.9,224.7L153.0,224.7L153.0,224.7L153.0,224.7L153.1,224.7L153.1,224.7L153.2,224.7L153.2,224.7L153.3,224.7L153.3,224.7L153.4,224.7L153.4,224.7L153.5,224.7L153.5,224.7L153.5,224.7L153.6,224.7L153.6,224.7L153.7,224.7L153.7,224.7L153.8,224.7L153.8,224.7L153.9,224.7L153.9,224.7L154.0,224.7L154.0,224.7L154.0,224.7L154.1,224.7L154.1,224.7L154.2,224.7L154.2,224.7L154.3,224.7L154.3,224.7L154.4,224.7L154.4,224.7L154.5,224.7L154.5,224.7L154.5,224.7L154.6,224.7L154.6,224.7L154.7,224.7L154.7,224.7L154.8,224.7L154.8,231.5L154.9,240.5L154.9,248.3L155.0,254.9L155.0,255.4L155.0,260.6L155.1,265.3L155.1,269.2L155.2,272.5L155.2,275.1L155.3,277.3L155.3,279.1L155.4,280.6L155.4,281.7L155.5,282.7L155.5,282.7L155.5,283.4L155.6,284.0L155.6,284.5L155.7,284.9L155.7,285.2L155.8,285.5L155.8,285.7L155.9,285.9L155.9,286.1L156.0,286.2L156.0,286.2L156.0,286.3L156.1,286.4L156.1,286.5L156.2,286.5L156.2,286.5L156.3,286.5L156.3,286.5L156.3,286.5L156.4,286.5L156.4,286.5L156.4,286.5L156.4,286.5L156.5,286.4L156.5,286.4L156.5,286.4L156.5,286.5L156.5,286.5L156.6,286.6L156.6,286.6L156.6,286.6L156.6,286.7L156.7,286.7L156.7,286.7L156.7,286.8L156.7,286.8L156.8,286.8L156.8,286.9L156.8,286.9L156.8,286.9L156.9,286.9L156.9,287.0L156.9,287.0L156.9,287.0L157.0,287.0L157.0,287.0L157.0,287.0L157.0,287.0L157.0,287.0L157.1,287.0L157.1,287.0L157.1,287.1L157.1,287.1L157.2,287.1L157.2,287.1L157.2,287.1L157.2,287.1L157.3,287.1L157.3,287.1L157.3,287.1L157.3,287.1L157.4,287.0L157.4,287.0L157.4,287.0L157.4,287.0L157.5,287.0L157.5,287.0L157.5,287.0L157.5,287.0L157.5,287.0L157.6,286.9L157.6,286.9L157.6,286.9L157.6,286.9L157.7,286.8L157.7,286.8L157.7,286.7L157.7,286.7L157.8,286.7L157.8,286.6L157.8,286.6L157.8,286.6L157.9,286.5L157.9,286.5L157.9,286.3L157.9,286.3L158.0,286.1L158.0,286.1L158.0,286.0L158.0,285.9L158.0,285.8L158.1,285.7L158.1,285.6L158.1,285.4L158.1,285.4L158.2,285.2L158.2,285.1L158.2,285.0L158.2,284.9L158.3,284.8L158.3,284.8L158.3,284.7L158.3,284.7L158.4,284.6L158.4,284.6L158.4,284.5L158.4,284.5L158.5,284.4L158.5,284.3L158.5,284.3L158.5,284.2L158.5,284.2L158.6,284.1L158.6,284.1L158.6,283.9L158.6,283.9L158.7,283.7L158.7,283.7L158.7,283.5L158.8,283.3L158.8,283.0L158.9,282.8L158.9,282.5L159.0,282.1L159.0,282.0L159.0,281.8L159.1,281.4L159.1,280.9L159.2,280.4L159.2,279.8L159.3,279.2L159.3,278.4L159.4,277.4L159.4,276.3L159.5,274.9L159.5,274.3L159.5,273.1L159.6,271.0L159.6,268.3L159.7,265.0L159.7,260.9L159.8,255.8L159.8,249.6L159.9,242.0L159.9,232.8L160.0,224.7L160.0,224.7L160.0,224.7L160.1,224.7L160.1,224.7L160.2,224.7L160.2,224.7L160.3,224.7L160.3,224.7L160.4,224.7L160.4,224.7L160.5,224.7L160.5,224.7L160.5,224.7L160.6,224.7L160.6,224.7L160.7,224.7L160.7,224.7L160.8,224.7L160.8,224.7L160.9,224.7L160.9,224.7L161.0,224.7L161.0,224.7L161.0,224.7L161.1,224.7L161.1,224.7L161.2,224.7L161.2,224.7L161.3,224.7L161.3,224.7L161.4,224.7L161.4,224.7L161.5,224.7L161.5,224.7L161.5,224.7L161.6,224.7L161.6,224.7L161.7,224.7L161.7,224.7L161.8,224.7L161.8,224.7L161.9,224.7L161.9,224.7L162.0,224.7L162.0,224.7L162.0,224.7L162.1,224.7L162.1,224.7L162.2,224.7L162.2,224.7L162.3,224.7L162.3,224.7L162.4,224.7L162.4,224.7L162.5,224.7L162.5,224.7L162.5,224.7L162.6,224.7L162.6,224.7L162.7,224.7L162.7,224.7L162.8,226.5L162.8,236.6L162.9,245.0L162.9,251.8L163.0,257.4L163.0,259.2L163.0,262.0L163.1,265.6L163.1,268.6L163.2,271.1L163.2,273.2L163.3,274.9L163.3,276.3L163.4,277.5L163.4,278.5L163.5,279.3L163.5,279.6L163.5,280.0L163.6,280.5L163.6,280.9L163.7,281.3L163.7,281.6L163.8,281.9L163.8,282.2L163.9,282.4L163.9,282.6L164.0,282.9L164.0,282.9L164.0,283.1L164.1,283.2L164.1,283.4L164.2,283.6L164.2,283.8L164.3,284.1L164.3,284.4L164.4,284.6L164.4,284.9L164.5,285.1L164.5,285.2L164.5,285.3L164.6,285.5L164.6,285.7L164.7,285.8L164.7,285.9L164.8,286.1L164.8,286.2L164.9,286.3L164.9,286.4L165.0,286.5L165.0,286.5L165.0,286.5L165.1,286.6L165.1,286.6L165.2,286.7L165.2,286.7L165.3,286.8L165.3,286.9L165.4,286.9L165.4,287.0L165.5,287.1L165.5,287.1L165.5,287.2L165.6,287.2L165.6,287.3L165.7,287.5L165.7,287.6L165.8,287.7L165.8,287.8L165.9,287.9L165.9,288.0L166.0,288.0L166.0,288.0L166.0,288.0L166.1,288.0L166.1,288.0L166.2,287.9L166.2,287.9L166.3,287.9L166.3,287.9L166.4,287.8L166.5,287.8L167.0,288.8L167.5,289.4L168.0,289.5L168.5,290.4L169.0,290.1L169.5,290.9L170.0,290.5L170.5,291.1L171.0,291.0L171.5,291.5L172.0,292.0L172.5,291.9L173.0,291.4L173.5,292.0L174.0,292.3L174.5,292.2L175.0,292.2L175.5,292.1L176.0,292.3L176.5,292.3L177.0,292.4L177.5,292.2L178.0,292.0L178.5,292.5L179.0,292.9L179.5,293.0L180.0,293.0L180.5,292.4L181.0,292.7L181.5,293.1L182.0,293.0L182.5,292.4L183.0,292.5L183.5,293.1L184.0,293.0L184.5,292.9L185.0,293.1L185.5,293.3L186.0,292.6L186.5,292.6L187.0,293.1L187.5,293.0L188.0,293.2L188.5,293.3L189.0,293.6L189.5,292.9L190.0,293.1L190.5,292.9L191.0,293.6L191.5,293.1L192.0,293.2L192.5,292.9L193.0,293.3L193.5,293.6L194.0,293.0L194.5,293.6L195.0,292.9L195.5,293.0L196.0,293.4L196.5,293.6L197.0,292.9L197.5,293.4L198.0,293.3L198.5,293.4L199.0,293.8L199.5,293.2L200.0,293.7L200.5,293.3L201.0,293.8L201.5,293.6L202.0,293.5L202.5,293.7L203.0,293.5L203.5,293.7L203.8,293.7L203.8,293.6L203.9,293.6L203.9,293.5L204.0,293.4L204.0,293.4L204.0,293.4L204.1,293.3L204.1,293.2L204.2,293.2L204.2,293.1L204.3,293.1L204.3,293.0L204.4,293.0L204.4,292.9L204.5,293.0L204.5,293.0L204.5,293.1L204.6,293.2L204.6,293.3L204.7,293.4L204.7,293.5L204.8,293.6L204.8,293.6L204.9,293.5L204.9,293.4L205.0,293.3L205.0,293.3L205.0,293.2L205.1,293.1L205.1,293.0L205.2,293.0L205.2,293.0L205.3,293.0L205.3,293.0L205.4,293.0L205.4,293.1L205.5,293.1L205.5,293.1L205.5,293.1L205.6,293.0L205.6,293.0L205.7,293.0L205.7,293.0L205.8,293.0L205.8,293.0L205.9,292.9L205.9,292.8L206.0,292.6L206.0,292.6L206.0,292.5L206.1,292.4L206.1,292.2L206.2,292.1L206.2,292.1L206.3,292.1L206.3,292.1L206.4,292.1L206.4,292.1L206.5,292.1L206.5,292.1L206.5,292.1L206.6,291.9L206.6,291.7L206.7,291.5L206.7,291.3L206.8,291.0L206.8,290.7L206.9,290.3L206.9,290.1L207.0,289.9L207.0,289.8L207.0,289.5L207.1,289.1L207.1,288.5L207.2,287.8L207.2,286.8L207.3,285.5L207.3,283.9L207.4,281.9L207.4,279.5L207.5,276.7L207.5,276.2L207.5,273.4L207.6,269.4L207.6,264.9L207.7,259.7L207.7,253.7L207.8,246.8L207.8,239.1L207.9,230.5L207.9,224.7L208.0,224.7L208.0,224.7L208.0,224.7L208.1,224.7L208.1,224.7L208.2,224.7L208.2,224.7L208.3,224.7L208.3,224.7L208.4,224.7L208.4,224.7L208.5,224.7L208.5,224.7L208.5,224.7L208.6,224.7L208.6,224.7L208.7,224.7L208.7,224.7L208.8,224.7L208.8,224.7L208.9,224.7L208.9,224.7L209.0,224.7L209.0,224.7L209.0,224.7L209.1,224.7L209.1,224.7L209.2,224.7L209.2,224.7L209.3,224.7L209.3,224.7L209.4,224.7L209.4,224.7L209.5,224.7L209.5,224.7L209.5,224.7L209.6,224.7L209.6,224.7L209.7,224.7L209.7,225.1L209.8,234.4L209.8,242.8L209.9,250.2L209.9,256.8L210.0,262.6L210.0,263.5L210.0,267.6L210.1,271.9L210.1,275.5L210.2,278.5L210.2,281.1L210.3,283.2L210.3,284.9L210.4,286.3L210.4,287.5L210.5,288.5L210.5,288.6L210.5,289.3L210.6,289.9L210.6,290.4L210.7,290.9L210.7,291.2L210.8,291.5L210.8,291.7L210.9,291.8L210.9,291.9L211.0,292.1L211.0,292.1L211.0,292.1L211.1,292.2L211.1,292.4L211.2,292.6L211.2,292.7L211.3,292.9L211.3,293.1L211.4,293.3L211.4,293.4L211.5,293.5L211.5,293.5L211.5,293.5L211.6,293.5L211.6,293.5L211.7,293.5L211.7,293.5L211.8,293.5L211.8,293.6L211.9,293.8L211.9,293.9L212.0,294.0L212.0,294.0L212.0,294.1L212.1,294.3L212.1,294.4L212.2,294.3L212.2,294.2L212.3,294.2L212.3,294.1L212.4,294.0L212.4,293.9L212.5,293.8L212.5,293.8L212.5,293.9L212.6,294.0L212.6,294.1L212.7,294.2L212.7,294.3L212.8,294.4L212.8,294.5L212.9,294.6L212.9,294.6L213.0,294.7L213.0,294.7L213.0,294.8L213.1,294.8L213.1,294.9L213.2,294.9L213.2,294.9L213.3,294.8L213.3,294.7L213.4,294.6L213.4,294.6L213.5,294.5L213.5,294.5L213.5,294.4L213.6,294.4L213.6,294.3L213.7,294.3L213.7,294.2L213.8,294.2L213.8,294.1L214.0,294.4L214.5,295.0L215.0,294.9L215.5,294.8L216.0,295.0L216.5,294.9L217.0,295.1L217.5,294.9L218.0,295.3L218.5,295.4L219.0,294.8L219.5,294.9L220.0,295.0L220.5,295.1L221.0,294.7L221.5,295.6L222.0,295.5L222.5,295.2L223.0,294.9L223.5,295.6L224.0,295.4L224.5,295.2L225.0,295.4L225.5,295.6L226.0,295.4L226.5,295.5L227.0,295.8L227.5,295.0L228.0,295.3L228.5,295.7L229.0,296.0L229.5,295.5L230.0,295.5L230.5,295.7L231.0,295.6L231.5,295.4L232.0,295.0L232.5,295.7L233.0,295.7L233.5,295.8L234.0,295.8L234.5,296.0L235.0,295.5L235.5,295.5L236.0,295.6L236.5,295.7L237.0,295.4L237.5,295.3L238.0,295.1L238.5,295.3L239.0,295.2L239.5,295.0L240.0,295.1L240.5,294.5L241.0,294.4L241.5,294.4L241.8,294.2L241.9,294.2L241.9,294.2L242.0,294.2L242.0,294.2L242.0,294.2L242.1,294.3L242.1,294.3L242.2,294.3L242.2,294.3L242.3,294.2L242.3,294.2L242.4,294.1L242.4,294.0L242.5,294.0L242.5,294.0L242.5,293.9L242.6,293.9L242.6,293.8L242.7,293.8L242.7,293.8L242.8,293.8L242.8,293.8L242.9,293.8L242.9,293.8L243.0,293.7L243.0,293.7L243.0,293.6L243.1,293.6L243.1,293.5L243.2,293.4L243.2,293.4L243.3,293.3L243.3,293.3L243.4,293.4L243.4,293.4L243.5,293.4L243.5,293.4L243.5,293.5L243.6,293.5L243.6,293.5L243.7,293.4L243.7,293.3L243.8,293.2L243.8,293.0L243.9,292.9L243.9,292.8L244.0,292.7L244.0,292.6L244.0,292.6L244.1,292.5L244.1,292.5L244.2,292.4L244.2,292.3L244.3,292.3L244.3,292.2L244.4,292.1L244.4,292.0L244.5,291.9L244.5,291.9L244.5,291.8L244.6,291.7L244.6,291.6L244.7,291.4L244.7,291.3L244.8,291.1L244.8,290.8L244.9,290.5L244.9,290.2L245.0,289.8L245.0,289.7L245.0,289.3L245.1,288.6L245.1,287.7L245.2,286.7L245.2,285.4L245.3,283.9L245.3,282.0L245.4,279.7L245.4,277.0L245.5,273.9L245.5,273.5L245.5,270.1L245.6,265.5L245.6,260.1L245.7,253.8L245.7,246.5L245.8,237.8L245.8,228.0L245.9,224.7L245.9,224.7L246.0,224.7L246.0,224.7L246.0,224.7L246.1,224.7L246.1,224.7L246.2,224.7L246.2,224.7L246.3,224.7L246.3,224.7L246.4,224.7L246.4,224.7L246.5,224.7L246.5,224.7L246.5,224.7L246.6,224.7L246.6,224.7L246.7,224.7L246.7,224.7L246.8,224.7L246.8,224.7L246.9,224.7L246.9,224.7L247.0,224.7L247.0,224.7L247.0,224.7L247.1,224.7L247.1,224.7L247.2,224.7L247.2,224.7L247.3,224.7L247.3,224.7L247.4,224.7L247.4,224.7L247.5,224.7L247.5,224.7L247.5,224.7L247.6,224.7L247.6,224.7L247.7,224.7L247.7,224.7L247.8,224.7L247.8,224.7L247.9,224.7L247.9,231.6L248.0,240.9L248.0,241.9L248.0,248.9L248.1,255.9L248.1,261.9L248.2,267.0L248.2,271.4L248.3,275.0L248.3,278.1L248.4,280.6L248.4,282.7L248.5,284.4L248.5,284.6L248.5,285.8L248.6,286.9L248.6,287.9L248.7,288.6L248.7,289.2L248.8,289.7L248.8,290.1L248.9,290.5L248.9,290.8L249.0,291.2L249.0,291.2L249.0,291.4L249.1,291.7L249.1,292.0L249.2,292.2L249.2,292.4L249.3,292.4L249.3,292.4L249.4,292.4L249.4,292.4L249.5,292.4L249.5,292.4L249.5,292.3L249.6,292.3L249.6,292.3L249.7,292.4L249.7,292.4L249.8,292.4L249.8,292.5L249.9,292.5L249.9,292.5L250.0,292.6L250.0,292.6L250.0,292.6L250.1,292.7L250.1,292.7L250.2,292.8L250.2,292.8L250.3,292.9L250.3,292.9L250.4,293.0L250.4,293.1L250.5,293.2L250.5,293.2L250.5,293.2L250.6,293.3L250.6,293.4L250.7,293.5L250.7,293.6L250.8,293.7L250.8,293.8L250.9,294.0L250.9,294.1L251.0,294.2L251.0,294.2L251.0,294.1L251.1,294.0L251.1,293.9L251.2,293.8L251.2,293.7L251.3,293.6L251.3,293.5L251.4,293.5L251.4,293.6L251.5,293.7L251.5,293.7L251.5,293.7L251.6,293.8L251.6,293.9L251.7,294.0L251.7,294.1L251.8,294.2L251.8,294.4L251.9,294.5L252.0,294.8L252.5,294.2L253.0,294.7L253.5,294.4L254.0,294.2L254.5,294.3L255.0,293.9L255.5,294.4L256.0,294.7L256.5,294.9L257.0,294.4L257.5,294.5L258.0,294.3L258.5,294.8L259.0,294.5L259.5,294.5L260.0,294.5L260.5,294.8L261.0,294.9L261.5,295.4" fill="none" stroke="#3a88ea" stroke-width="0.85" stroke-linejoin="round" /></g><g clip-path="url(#cb)"><path d="M330.5,170.9L331.0,170.9L331.5,170.6L332.0,171.1L332.5,170.9L333.0,171.1L333.5,170.9L334.0,171.0L334.5,170.8L335.0,171.0L335.5,171.1L336.0,171.0L336.5,171.0L337.0,171.1L337.5,170.8L338.0,170.8L338.5,170.9L339.0,171.2L339.5,170.9L340.0,171.3L340.5,170.9L341.0,171.0L341.5,171.1L342.0,171.2L342.5,171.1L343.0,170.0L343.5,169.5L344.0,170.5L344.5,170.7L345.0,170.9L345.5,170.8L346.0,171.3L346.5,171.3L347.0,170.3L347.5,171.1L348.0,171.1L348.5,171.0L349.0,170.9L349.5,171.4L350.0,171.0L350.5,171.1L351.0,171.0L351.5,171.1L352.0,171.2L352.5,171.3L353.0,171.7L353.5,170.9L354.0,171.5L354.5,171.2L355.0,170.8L355.5,171.3L356.0,171.0L356.5,171.2L357.0,171.0L357.5,171.2L358.0,171.3L358.5,170.9L359.0,171.3L359.5,171.5L360.0,171.3L360.5,171.1L361.0,171.5L361.5,171.0L362.0,171.0L362.5,170.7L363.0,171.3L363.5,171.0L364.0,171.5L364.5,171.2L365.0,171.1L365.5,171.0L366.0,171.1L366.5,171.1L367.0,171.2L367.5,171.2L368.0,171.0L368.5,170.9L369.0,170.9L369.5,170.8L370.0,170.8L370.5,171.4L371.0,171.1L371.5,171.0L372.0,171.1L372.5,170.7L373.0,170.8L373.5,171.0L374.0,170.9L374.5,170.6L375.0,171.0L375.5,171.0L376.0,170.7L376.5,170.8L377.0,170.5L377.5,170.8L378.0,170.7L378.5,171.0L379.0,171.0L379.5,170.8L380.0,171.4L380.5,170.7L381.0,170.6L381.5,170.8L382.0,170.8L382.5,170.5L383.0,170.7L383.5,170.5L384.0,170.2L384.5,170.5L385.0,170.5L385.5,170.6L386.0,170.7L386.5,170.7L387.0,170.7L387.5,170.5L388.0,171.1L388.5,170.8L389.0,170.6L389.5,171.0L390.0,170.8L390.5,171.0L391.0,170.7L391.5,170.6L392.0,170.5L392.5,170.7L393.0,171.0L393.5,170.8L394.0,170.7L394.5,170.5L395.0,171.4L395.5,170.8L396.0,171.3L396.5,170.7L397.0,170.8L397.5,170.8L398.0,170.7L398.5,170.8L399.0,171.1L399.5,170.9L400.0,170.7L400.5,171.0L401.0,170.9L401.5,171.2L402.0,170.7L402.5,171.1L403.0,171.1L403.5,171.1L404.0,171.2L404.5,171.0L405.0,170.7L405.5,170.8L406.0,170.7L406.5,170.7L407.0,171.2L407.5,170.9L408.0,170.7L408.5,170.5L409.0,171.4L409.5,171.4L410.0,171.0L410.5,171.2L411.0,171.3L411.5,171.0L412.0,171.3L412.5,171.7L413.0,171.2L413.5,171.1L414.0,171.0L414.5,171.0L415.0,171.2L415.5,171.3L416.0,171.4L416.5,171.6L416.5,171.3L416.6,171.0L416.6,171.1L416.7,170.8L416.7,171.3L416.8,171.6L416.8,171.0L416.9,171.0L416.9,171.5L417.0,171.6L417.0,171.2L417.0,171.1L417.1,171.5L417.1,171.3L417.2,171.4L417.2,171.5L417.3,171.5L417.3,171.2L417.4,171.3L417.4,171.4L417.5,171.8L417.5,170.8L417.5,171.4L417.6,171.3L417.6,171.5L417.7,171.1L417.7,171.6L417.8,171.2L417.8,171.3L417.9,171.0L417.9,171.5L418.0,171.4L418.0,171.3L418.0,170.7L418.1,171.6L418.1,171.2L418.2,171.4L418.2,171.1L418.3,171.1L418.3,171.2L418.4,171.1L418.4,171.1L418.5,171.3L418.5,171.2L418.5,171.6L418.6,171.3L418.6,171.4L418.7,171.2L418.7,171.0L418.8,171.1L418.8,171.1L418.9,170.9L418.9,171.7L419.0,171.1L419.0,171.2L419.0,171.2L419.1,171.1L419.1,171.1L419.2,171.1L419.2,171.1L419.3,171.1L419.3,171.1L419.4,171.1L419.4,171.1L419.5,171.1L419.5,171.1L419.5,171.1L419.6,171.1L419.6,171.0L419.7,171.0L419.7,171.0L419.8,171.0L419.8,171.0L419.9,170.9L419.9,170.9L420.0,170.9L420.0,170.9L420.0,170.9L420.1,170.8L420.1,170.8L420.2,170.8L420.2,170.7L420.3,170.7L420.3,170.6L420.4,170.5L420.4,170.4L420.5,170.2L420.5,170.1L420.5,170.0L420.6,169.7L420.6,169.4L420.7,168.9L420.7,168.2L420.8,167.4L420.8,166.3L420.9,165.1L420.9,163.5L421.0,161.7L421.0,160.2L421.0,159.5L421.1,157.2L421.1,154.6L421.2,151.8L421.2,149.0L421.3,146.2L421.3,143.6L421.4,141.3L421.4,139.4L421.5,138.0L421.5,137.4L421.5,137.2L421.6,137.0L421.6,137.4L421.7,138.5L421.7,140.1L421.8,142.2L421.8,144.7L421.9,147.4L421.9,150.2L422.0,153.0L422.0,154.8L422.0,155.6L422.1,158.2L422.1,160.4L422.2,162.5L422.2,164.2L422.3,165.6L422.3,166.8L422.4,167.8L422.4,168.6L422.5,169.1L422.5,169.5L422.5,169.6L422.6,169.9L422.6,170.2L422.7,170.4L422.7,170.5L422.8,170.6L422.8,170.7L422.9,170.8L422.9,170.8L423.0,170.9L423.0,170.9L423.0,170.9L423.1,170.9L423.1,171.0L423.2,171.0L423.2,171.0L423.3,171.0L423.3,171.1L423.4,171.1L423.4,171.1L423.5,171.1L423.5,171.1L423.5,171.1L423.6,171.2L423.6,171.2L423.7,171.2L423.7,171.2L423.8,171.2L423.8,171.2L423.9,171.2L423.9,171.2L424.0,171.3L424.0,171.3L424.0,171.3L424.1,171.3L424.1,170.8L424.2,171.2L424.2,171.6L424.3,171.5L424.3,171.1L424.4,171.1L424.4,171.1L424.5,171.1L424.5,171.3L424.5,171.7L424.6,171.5L424.6,171.8L424.7,171.4L424.7,171.7L424.8,171.3L424.8,171.4L424.9,171.8L424.9,171.2L425.0,171.2L425.0,171.7L425.0,171.3L425.1,171.2L425.1,171.5L425.2,171.2L425.2,171.4L425.3,171.2L425.3,171.4L425.4,171.4L425.4,171.3L425.5,171.2L425.5,171.4L425.5,171.5L425.6,171.6L425.6,171.5L425.7,171.6L425.7,171.4L425.8,171.4L425.8,171.4L425.9,171.4L425.9,171.4L426.0,171.1L426.0,171.2L426.0,171.6L426.1,171.3L426.1,171.5L426.2,171.5L426.2,171.5L426.3,171.6L426.3,171.8L426.4,172.0L426.4,171.4L426.5,171.2L426.5,171.7L426.5,171.3L426.6,171.5L427.0,171.4L427.5,171.7L427.6,171.5L427.7,171.5L427.7,172.0L427.8,171.4L427.8,171.5L427.9,172.0L427.9,171.3L428.0,171.5L428.0,171.4L428.0,171.4L428.1,171.6L428.1,171.7L428.2,171.6L428.2,171.6L428.3,171.0L428.3,171.1L428.4,171.6L428.4,171.6L428.5,171.4L428.5,171.4L428.5,171.6L428.6,171.7L428.6,171.0L428.7,171.2L428.7,171.8L428.8,171.9L428.8,171.7L428.9,171.4L428.9,171.4L429.0,171.6L429.0,171.9L429.0,171.4L429.1,171.3L429.1,171.5L429.2,171.6L429.2,171.4L429.3,171.5L429.3,171.7L429.4,171.5L429.4,171.8L429.5,171.3L429.5,171.4L429.5,171.7L429.6,171.4L429.6,171.2L429.7,172.0L429.7,171.5L429.8,171.1L429.8,171.8L429.9,171.5L429.9,171.8L430.0,171.5L430.0,172.0L430.0,171.8L430.1,171.6L430.1,171.4L430.2,171.4L430.2,171.4L430.3,171.4L430.3,171.4L430.4,171.4L430.4,171.4L430.5,171.4L430.5,171.4L430.5,171.4L430.6,171.4L430.6,171.4L430.7,171.4L430.7,171.4L430.8,171.4L430.8,171.4L430.9,171.4L430.9,171.4L431.0,171.4L431.0,171.4L431.0,171.4L431.1,171.4L431.1,171.3L431.2,171.3L431.2,171.3L431.3,171.3L431.3,171.3L431.4,171.3L431.4,171.2L431.5,171.2L431.5,171.2L431.5,171.2L431.6,171.1L431.6,171.0L431.7,170.9L431.7,170.7L431.8,170.6L431.8,170.3L431.9,170.0L431.9,169.6L432.0,169.1L432.0,169.0L432.0,168.4L432.1,167.7L432.1,166.9L432.2,166.0L432.2,164.9L432.3,163.9L432.3,162.8L432.4,161.7L432.4,160.7L432.5,159.8L432.5,159.7L432.5,159.0L432.6,158.5L432.6,158.1L432.7,158.1L432.7,158.2L432.8,158.7L432.8,159.3L432.9,160.1L432.9,161.1L433.0,162.1L433.0,162.2L433.0,163.2L433.1,164.3L433.1,165.4L433.2,166.4L433.2,167.2L433.3,168.0L433.3,168.7L433.4,169.3L433.4,169.7L433.5,170.1L433.5,170.1L433.5,170.4L433.6,170.6L433.6,170.8L433.7,171.0L433.7,171.1L433.8,171.1L433.8,171.2L433.9,171.2L433.9,171.3L434.0,171.3L434.0,171.3L434.0,171.3L434.1,171.3L434.1,171.3L434.2,171.3L434.2,171.4L434.3,171.4L434.3,171.4L434.4,171.4L434.4,171.4L434.5,171.4L434.5,171.4L434.5,171.4L434.6,171.4L434.6,171.4L434.7,171.4L434.7,171.4L434.8,171.4L434.8,171.4L434.9,171.4L434.9,171.5L435.0,171.5L435.0,171.5L435.0,171.5L435.1,171.5L435.1,171.5L435.2,171.5L435.2,171.4L435.3,171.4L435.3,171.5L435.3,171.9L435.4,171.8L435.4,171.6L435.4,171.1L435.4,171.7L435.5,171.6L435.5,171.8L435.5,171.6L435.5,171.4L435.5,172.0L435.6,172.2L435.6,171.3L435.6,171.5L435.6,171.6L435.7,171.3L435.7,171.3L435.7,172.0L435.7,171.5L435.8,171.2L435.8,171.7L435.8,171.6L435.8,171.3L435.9,171.6L435.9,171.8L435.9,171.7L435.9,171.8L436.0,171.4L436.0,171.9L436.0,171.3L436.0,171.9L436.0,171.5L436.1,171.8L436.1,171.6L436.1,171.3L436.1,171.2L436.2,171.2L436.2,171.5L436.2,171.5L436.2,171.4L436.3,171.3L436.3,171.6L436.3,171.2L436.3,171.4L436.4,171.2L436.4,171.4L436.4,171.3L436.4,171.7L436.5,171.6L436.5,171.8L436.5,171.6L436.5,171.5L436.5,171.3L436.6,171.8L436.6,170.7L436.6,171.5L436.6,171.2L436.7,171.2L436.7,172.1L436.7,171.5L436.7,171.1L436.8,172.1L436.8,171.3L436.8,171.7L436.8,171.6L436.9,171.4L436.9,171.9L436.9,171.4L436.9,171.6L437.0,171.7L437.0,171.3L437.0,170.6L437.0,171.4L437.0,171.3L437.1,171.5L437.1,171.6L437.1,171.4L437.1,171.1L437.2,171.4L437.2,171.3L437.2,171.5L437.2,170.9L437.3,171.8L437.3,171.3L437.3,171.3L437.3,171.4L437.4,171.7L437.4,171.7L437.4,171.5L437.4,171.4L437.5,171.7L437.5,171.7L437.5,171.3L437.5,171.2L437.5,171.6L437.6,171.6L437.6,171.6L437.6,170.8L437.6,171.3L437.7,171.4L437.7,171.2L437.7,170.9L437.8,171.1L437.8,171.7L437.9,171.4L437.9,171.4L438.0,171.4L438.0,171.4L438.0,171.4L438.1,171.3L438.1,171.3L438.2,171.3L438.2,171.3L438.3,171.3L438.3,171.3L438.4,171.3L438.4,171.3L438.5,171.2L438.5,171.2L438.5,171.2L438.6,171.2L438.6,171.2L438.7,171.2L438.7,171.1L438.8,171.1L438.8,171.1L438.9,171.0L438.9,171.0L439.0,171.0L439.0,171.0L439.0,170.9L439.1,170.9L439.1,170.8L439.2,170.7L439.2,170.6L439.3,170.4L439.3,170.2L439.4,169.9L439.4,169.5L439.5,168.9L439.5,168.7L439.5,168.3L439.6,167.4L439.6,166.3L439.7,164.9L439.7,163.2L439.8,161.3L439.8,159.1L439.9,156.5L439.9,153.8L440.0,150.9L440.0,149.8L440.0,147.9L440.1,145.0L440.1,142.2L440.2,139.8L440.2,137.7L440.3,136.2L440.3,135.4L440.4,135.2L440.4,135.6L440.5,136.8L440.5,137.3L440.5,138.5L440.6,140.7L440.6,143.3L440.7,146.1L440.7,149.1L440.8,152.1L440.8,154.9L440.9,157.6L440.9,160.0L441.0,162.1L441.0,162.8L441.0,164.0L441.1,165.5L441.1,166.8L441.2,167.8L441.2,168.6L441.3,169.2L441.3,169.7L441.4,170.0L441.4,170.3L441.5,170.5L441.5,170.6L441.5,170.6L441.6,170.8L441.6,170.8L441.7,170.9L441.7,171.0L441.8,171.0L441.8,171.1L441.9,171.1L441.9,171.1L442.0,171.2L442.0,171.2L442.0,171.2L442.1,171.2L442.1,171.2L442.2,171.3L442.2,171.3L442.3,171.3L442.3,171.3L442.4,171.3L442.4,171.3L442.5,171.4L442.5,171.4L442.5,171.4L442.6,171.4L442.6,171.4L442.7,171.4L442.7,171.4L442.8,171.4L442.8,171.4L442.9,171.5L442.9,171.1L443.0,171.2L443.0,171.3L443.0,171.5L443.1,171.5L443.1,171.6L443.2,170.8L443.2,171.6L443.3,171.4L443.3,171.2L443.4,171.9L443.4,171.7L443.5,171.6L443.5,171.8L443.5,171.9L443.6,171.7L443.6,171.3L443.7,171.4L443.7,171.6L443.8,171.6L443.8,172.0L443.9,171.4L443.9,171.5L444.0,171.9L444.0,171.5L444.0,171.6L444.1,171.7L444.1,171.8L444.2,171.8L444.2,171.8L444.3,171.5L444.3,171.5L444.4,171.5L444.4,171.7L444.5,171.7L444.5,171.1L444.5,172.1L444.6,171.3L444.6,171.5L444.7,171.6L444.7,171.8L444.8,171.7L444.8,171.9L444.9,172.0L444.9,171.7L445.0,172.0L445.0,171.5L445.0,171.4L445.1,172.5L445.1,172.0L445.2,171.6L445.2,171.6L445.3,171.6L445.3,171.6L445.4,171.5L445.5,171.5L446.0,171.3L446.5,171.7L447.0,171.5L447.5,172.1L448.0,171.8L448.5,172.0L449.0,171.4L449.5,171.2L450.0,171.6L450.5,172.1L451.0,171.8L451.5,171.8L452.0,171.7L452.5,171.5L453.0,171.6L453.5,172.4L454.0,171.5L454.5,171.9L455.0,171.9L455.5,171.5L456.0,171.9L456.5,172.1L457.0,172.1L457.5,171.8L458.0,171.6L458.5,171.4L459.0,171.8L459.5,171.9L460.0,171.4L460.5,171.9L461.0,171.5L461.5,171.8L462.0,171.8L462.5,171.9L463.0,171.7L463.5,171.9L464.0,172.0L464.5,171.8L465.0,172.0L465.5,171.7L466.0,171.8L466.5,171.9L467.0,171.9L467.5,171.9L468.0,171.4L468.5,171.8L469.0,172.0L469.5,171.9L470.0,171.7L470.5,171.9L471.0,171.9L471.5,171.9L472.0,171.8L472.5,171.7L473.0,171.7L473.5,172.2L474.0,172.1L474.5,172.4L475.0,171.6L475.5,171.6L476.0,171.5L476.5,171.8L477.0,171.6L477.5,171.8L478.0,171.9L478.5,172.2L479.0,172.0L479.5,172.0L480.0,171.6L480.5,171.4L481.0,171.9L481.5,171.7L482.0,171.8L482.5,172.0L482.8,172.2L482.8,172.0L482.9,172.2L482.9,171.9L483.0,171.9L483.0,171.9L483.0,171.9L483.1,171.7L483.1,172.0L483.2,171.6L483.2,172.2L483.3,171.8L483.3,171.7L483.4,172.0L483.4,172.2L483.5,171.7L483.5,172.0L483.5,171.6L483.6,171.6L483.6,171.8L483.7,171.8L483.7,171.6L483.8,171.7L483.8,172.0L483.9,171.8L483.9,171.7L484.0,171.8L484.0,171.8L484.0,171.9L484.1,171.8L484.1,172.0L484.2,172.2L484.2,171.6L484.3,172.0L484.3,171.8L484.4,172.2L484.4,171.8L484.5,172.0L484.5,171.1L484.5,172.1L484.6,172.0L484.6,171.6L484.7,171.5L484.7,172.3L484.8,171.8L484.8,171.6L484.9,172.1L484.9,171.6L485.0,171.9L485.0,172.0L485.0,171.9L485.1,171.9L485.1,172.1L485.2,171.3L485.2,171.9L485.3,172.0L485.3,171.8L485.4,171.8L485.4,171.8L485.5,171.8L485.5,171.8L485.5,171.8L485.6,171.8L485.6,171.8L485.7,171.8L485.7,171.8L485.8,171.8L485.8,171.8L485.9,171.8L485.9,171.8L486.0,171.8L486.0,171.8L486.0,171.8L486.1,171.8L486.1,171.8L486.2,171.8L486.2,171.7L486.3,171.7L486.3,171.7L486.4,171.7L486.4,171.7L486.5,171.7L486.5,171.7L486.5,171.7L486.6,171.7L486.6,171.7L486.7,171.7L486.7,171.6L486.8,171.6L486.8,171.5L486.9,171.5L486.9,171.4L487.0,171.3L487.0,171.3L487.0,171.1L487.1,171.0L487.1,170.7L487.2,170.5L487.2,170.2L487.3,169.8L487.3,169.4L487.4,168.9L487.4,168.5L487.5,168.0L487.5,167.9L487.5,167.5L487.6,167.1L487.6,166.7L487.7,166.4L487.7,166.1L487.8,166.0L487.8,165.9L487.9,166.0L487.9,166.2L488.0,166.5L488.0,166.5L488.0,166.8L488.1,167.3L488.1,167.7L488.2,168.2L488.2,168.7L488.3,169.1L488.3,169.6L488.4,170.0L488.4,170.3L488.5,170.6L488.5,170.6L488.5,170.8L488.6,171.0L488.6,171.2L488.7,171.3L488.7,171.4L488.8,171.5L488.8,171.6L488.9,171.6L488.9,171.6L489.0,171.7L489.0,171.7L489.0,171.7L489.1,171.7L489.1,171.7L489.2,171.7L489.2,171.7L489.3,171.7L489.3,171.7L489.4,171.8L489.4,171.8L489.5,171.8L489.5,171.8L489.5,171.8L489.6,171.8L489.6,171.8L489.7,171.8L489.7,171.8L489.8,171.8L489.8,171.8L489.9,171.8L489.9,171.8L490.0,171.8L490.0,171.8L490.0,171.8L490.1,171.8L490.1,171.8L490.2,171.8L490.2,171.8L490.3,171.8L490.3,171.8L490.4,171.7L490.4,171.7L490.5,171.6L490.5,171.3L490.5,171.7L490.6,171.6L490.6,172.1L490.7,171.5L490.7,171.6L490.8,171.5L490.8,171.7L490.9,171.7L490.9,171.5L491.0,172.0L491.0,171.7L491.0,171.6L491.1,172.0L491.1,172.1L491.2,171.7L491.2,171.8L491.3,171.7L491.3,171.7L491.4,172.0L491.4,171.7L491.5,171.6L491.5,171.9L491.5,171.9L491.6,172.1L491.6,171.6L491.7,171.4L491.7,172.1L491.8,171.6L491.8,171.6L491.9,172.0L491.9,171.9L492.0,172.1L492.0,172.0L492.0,171.8L492.1,171.7L492.1,171.8L492.2,171.6L492.2,171.8L492.3,172.1L492.3,171.5L492.4,171.6L492.4,172.0L492.5,171.4L492.5,171.7L492.5,171.8L492.6,171.4L492.6,172.4L492.7,172.2L492.7,171.7L492.8,171.9L492.8,172.1L493.0,171.5L493.5,171.7L494.0,172.1L494.5,172.0L495.0,171.6L495.5,171.4L496.0,172.3L496.5,171.8L497.0,171.9L497.5,172.3L498.0,171.9L498.5,172.2L499.0,172.0L499.5,171.5L500.0,171.7L500.5,171.7L501.0,171.7L501.5,171.8L502.0,171.6L502.5,172.1L503.0,171.9L503.5,171.7L504.0,172.0L504.5,172.0L505.0,171.6L505.5,171.5L506.0,172.0L506.5,172.1L507.0,171.7L507.5,171.8L508.0,172.0L508.5,171.7L509.0,171.7L509.5,171.8L510.0,171.2L510.5,171.6L511.0,171.7L511.5,171.6L512.0,171.2L512.5,171.6L513.0,172.0L513.5,171.8L514.0,171.9L514.5,172.0L515.0,171.8L515.5,171.8L516.0,171.9L516.5,172.0L517.0,171.7L517.5,172.3L518.0,171.7L518.5,171.9L519.0,171.9L519.5,172.5L520.0,171.6L520.5,172.4L520.8,172.2L520.9,171.8L520.9,172.1L521.0,172.1L521.0,172.5L521.0,172.1L521.1,171.9L521.1,171.8L521.2,172.0L521.2,171.9L521.3,171.9L521.3,172.1L521.4,172.1L521.4,171.5L521.5,172.2L521.5,171.7L521.5,172.0L521.6,171.6L521.6,172.1L521.7,171.8L521.7,171.9L521.8,172.0L521.8,171.9L521.9,172.1L521.9,172.0L522.0,172.1L522.0,171.8L522.0,172.0L522.1,172.3L522.1,172.1L522.2,172.0L522.2,172.2L522.3,171.7L522.3,171.9L522.4,171.8L522.4,172.1L522.5,172.1L522.5,171.7L522.5,172.3L522.6,171.9L522.6,171.9L522.7,172.1L522.7,171.9L522.8,172.2L522.8,171.9L522.9,172.3L522.9,172.3L523.0,171.6L523.0,172.1L523.0,172.5L523.1,171.7L523.1,172.1L523.2,172.8L523.2,172.0L523.3,171.7L523.3,171.9L523.4,172.0L523.4,172.0L523.5,172.0L523.5,172.0L523.5,172.0L523.6,172.0L523.6,172.0L523.7,172.0L523.7,172.0L523.8,172.0L523.8,172.0L523.9,172.0L523.9,172.0L524.0,172.0L524.0,172.0L524.0,172.0L524.1,171.9L524.1,171.9L524.2,171.9L524.2,171.9L524.3,171.9L524.3,171.9L524.4,171.9L524.4,171.9L524.5,171.9L524.5,171.9L524.5,171.9L524.6,171.9L524.6,171.9L524.7,171.9L524.7,171.8L524.8,171.8L524.8,171.8L524.9,171.7L524.9,171.6L525.0,171.6L525.0,171.5L525.0,171.4L525.1,171.3L525.1,171.1L525.2,170.8L525.2,170.5L525.3,170.2L525.3,169.8L525.4,169.4L525.4,168.9L525.5,168.3L525.5,168.3L525.5,167.8L525.6,167.3L525.6,166.8L525.7,166.4L525.7,166.0L525.8,165.7L525.8,165.6L525.9,165.6L525.9,165.6L526.0,165.8L526.0,165.9L526.0,166.1L526.1,166.5L526.1,167.0L526.2,167.5L526.2,168.0L526.3,168.6L526.3,169.1L526.4,169.5L526.4,170.0L526.5,170.4L526.5,170.4L526.5,170.7L526.6,171.0L526.6,171.2L526.7,171.4L526.7,171.5L526.8,171.6L526.8,171.7L526.9,171.8L526.9,171.8L527.0,171.9L527.0,171.9L527.0,171.9L527.1,171.9L527.1,171.9L527.2,171.9L527.2,171.9L527.3,171.9L527.3,172.0L527.4,172.0L527.4,172.0L527.5,172.0L527.5,172.0L527.5,172.0L527.6,172.0L527.6,172.0L527.7,172.0L527.7,172.0L527.8,172.0L527.8,172.0L527.9,172.0L527.9,172.0L528.0,172.0L528.0,172.0L528.0,172.0L528.1,172.0L528.1,172.0L528.2,172.0L528.2,172.0L528.3,172.0L528.3,172.0L528.4,172.0L528.4,172.0L528.5,172.1L528.5,171.7L528.5,172.0L528.6,171.9L528.6,171.6L528.7,172.2L528.7,172.0L528.8,172.3L528.8,172.0L528.9,171.8L528.9,171.7L529.0,172.1L529.0,172.2L529.0,172.2L529.1,172.4L529.1,172.0L529.2,171.7L529.2,172.6L529.3,172.6L529.3,171.7L529.4,172.4L529.4,172.0L529.5,172.4L529.5,171.9L529.5,171.9L529.6,172.0L529.6,171.9L529.7,172.0L529.7,171.9L529.8,171.6L529.8,171.8L529.9,172.2L529.9,172.3L530.0,172.1L530.0,172.1L530.0,172.1L530.1,172.2L530.1,171.9L530.2,172.1L530.2,172.0L530.3,172.1L530.3,171.9L530.4,172.4L530.4,171.7L530.5,172.0L530.5,172.0L530.5,171.9L530.6,171.8L530.6,171.9L530.7,172.0L530.7,172.1L530.8,172.5L530.8,172.0L530.9,172.2L531.0,172.2L531.5,171.5L532.0,172.5L532.5,172.1L533.0,171.8L533.5,171.9L534.0,171.8L534.5,172.4L535.0,172.4L535.5,172.0L536.0,172.2L536.5,171.8L537.0,172.1L537.5,172.1L538.0,172.1L538.5,172.2L539.0,172.2L539.5,172.4L540.0,172.2L540.5,172.3" fill="none" stroke="#777777" stroke-width="0.9" stroke-linejoin="round" /><path d="M330.5,135.2L331.0,135.3L331.5,135.3L332.0,135.3L332.5,135.3L333.0,135.3L333.5,135.3L334.0,135.3L334.5,135.3L335.0,135.3L335.5,135.3L336.0,135.3L336.5,135.4L337.0,135.4L337.5,135.4L338.0,135.4L338.5,135.4L339.0,135.4L339.5,135.4L340.0,135.4L340.5,135.4L341.0,135.4L341.5,135.4L342.0,135.4L342.5,135.4L343.0,135.1L343.5,134.5L344.0,135.1L344.5,135.4L345.0,135.5L345.5,135.5L346.0,135.5L346.5,135.5L347.0,135.5L347.5,135.5L348.0,135.5L348.5,135.5L349.0,135.5L349.5,135.5L350.0,135.5L350.5,135.5L351.0,135.5L351.5,135.5L352.0,135.6L352.5,135.6L353.0,135.6L353.5,135.6L354.0,135.6L354.5,135.6L355.0,135.6L355.5,135.6L356.0,135.6L356.5,135.6L357.0,135.6L357.5,135.6L358.0,135.6L358.5,135.6L359.0,135.6L359.5,135.6L360.0,135.6L360.5,135.6L361.0,135.6L361.5,135.6L362.0,135.6L362.5,135.6L363.0,135.6L363.5,135.6L364.0,135.6L364.5,135.6L365.0,135.6L365.5,135.6L366.0,135.6L366.5,135.6L367.0,135.6L367.5,135.6L368.0,135.6L368.5,135.6L369.0,135.6L369.5,135.6L370.0,135.7L370.5,135.7L371.0,135.7L371.5,135.7L372.0,135.7L372.5,135.7L373.0,135.7L373.5,135.7L374.0,135.7L374.5,135.7L375.0,135.7L375.5,135.7L376.0,135.7L376.5,135.7L377.0,135.7L377.5,135.7L378.0,135.7L378.5,135.7L379.0,135.7L379.5,135.7L380.0,135.7L380.5,135.7L381.0,135.7L381.5,135.7L382.0,135.7L382.5,135.7L383.0,135.7L383.5,135.7L384.0,135.7L384.5,135.7L385.0,135.7L385.5,135.7L386.0,135.7L386.5,135.7L387.0,135.7L387.5,135.7L388.0,135.7L388.5,135.7L389.0,135.7L389.5,135.8L390.0,135.8L390.5,135.8L391.0,135.8L391.5,135.8L392.0,135.8L392.5,135.8L393.0,135.8L393.5,135.8L394.0,135.8L394.5,135.8L395.0,135.8L395.5,135.8L396.0,135.8L396.5,135.8L397.0,135.8L397.5,135.8L398.0,135.8L398.5,135.8L399.0,135.8L399.5,135.8L400.0,135.8L400.5,135.8L401.0,135.8L401.5,135.8L402.0,135.8L402.5,135.8L403.0,135.8L403.5,135.8L404.0,135.8L404.5,135.8L405.0,135.8L405.5,135.8L406.0,135.8L406.5,135.8L407.0,135.8L407.5,135.8L408.0,135.8L408.5,135.8L409.0,135.9L409.5,135.9L410.0,135.9L410.5,135.9L411.0,135.9L411.5,135.9L412.0,135.9L412.5,135.9L413.0,135.9L413.5,135.9L414.0,135.9L414.5,135.9L415.0,135.8L415.5,135.8L416.0,135.8L416.5,135.8L416.5,135.8L416.6,135.8L416.6,135.8L416.7,135.8L416.7,135.8L416.8,135.8L416.8,135.8L416.9,135.8L416.9,135.8L417.0,135.8L417.0,135.8L417.0,135.8L417.1,135.8L417.1,135.8L417.2,135.8L417.2,135.8L417.3,135.8L417.3,135.8L417.4,135.8L417.4,135.8L417.5,135.8L417.5,135.8L417.5,135.8L417.6,135.8L417.6,135.8L417.7,135.8L417.7,135.8L417.8,135.8L417.8,135.8L417.9,135.8L417.9,135.8L418.0,135.8L418.0,135.8L418.0,135.8L418.1,135.7L418.1,135.7L418.2,135.7L418.2,135.7L418.3,135.7L418.3,135.7L418.4,135.7L418.4,135.7L418.5,135.7L418.5,135.7L418.5,135.7L418.6,135.7L418.6,135.7L418.7,135.7L418.7,135.7L418.8,135.7L418.8,135.7L418.9,135.7L418.9,135.6L419.0,135.6L419.0,135.6L419.0,135.6L419.1,135.6L419.1,135.6L419.2,135.6L419.2,135.6L419.3,135.6L419.3,135.6L419.4,135.5L419.4,135.5L419.5,135.5L419.5,135.5L419.5,135.5L419.6,135.5L419.6,135.5L419.7,135.4L419.7,135.4L419.8,135.4L419.8,135.4L419.9,135.3L419.9,135.3L420.0,135.3L420.0,135.2L420.0,135.2L420.1,135.2L420.1,135.2L420.2,135.1L420.2,135.0L420.3,135.0L420.3,134.9L420.4,134.8L420.4,134.6L420.5,134.4L420.5,134.2L420.5,134.1L420.6,133.8L420.6,133.3L420.7,132.7L420.7,131.8L420.8,130.8L420.8,129.4L420.9,127.8L420.9,125.8L421.0,123.5L421.0,121.7L421.0,120.8L421.1,117.7L421.1,114.4L421.2,110.9L421.2,107.3L421.3,103.8L421.3,100.5L421.4,97.6L421.4,95.1L421.5,93.3L421.5,92.5L421.5,92.3L421.6,92.0L421.6,92.6L421.7,94.0L421.7,96.0L421.8,98.7L421.8,101.8L421.9,105.2L421.9,108.8L422.0,112.3L422.0,114.7L422.0,115.8L422.1,119.0L422.1,121.9L422.2,124.4L422.2,126.6L422.3,128.5L422.3,130.0L422.4,131.2L422.4,132.2L422.5,132.9L422.5,133.3L422.5,133.5L422.6,133.9L422.6,134.3L422.7,134.5L422.7,134.7L422.8,134.8L422.8,134.9L422.9,135.0L422.9,135.1L423.0,135.1L423.0,135.2L423.0,135.2L423.1,135.2L423.1,135.3L423.2,135.3L423.2,135.3L423.3,135.4L423.3,135.4L423.4,135.4L423.4,135.4L423.5,135.5L423.5,135.5L423.5,135.5L423.6,135.5L423.6,135.5L423.7,135.5L423.7,135.5L423.8,135.6L423.8,135.6L423.9,135.6L423.9,135.6L424.0,135.6L424.0,135.6L424.0,135.6L424.1,135.6L424.1,135.6L424.2,135.7L424.2,135.7L424.3,135.7L424.3,135.7L424.4,135.7L424.4,135.7L424.5,135.7L424.5,135.7L424.5,135.7L424.6,135.7L424.6,135.7L424.7,135.7L424.7,135.7L424.8,135.7L424.8,135.7L424.9,135.7L424.9,135.8L425.0,135.8L425.0,135.8L425.0,135.8L425.1,135.8L425.1,135.8L425.2,135.8L425.2,135.8L425.3,135.8L425.3,135.8L425.4,135.8L425.4,135.8L425.5,135.8L425.5,135.8L425.5,135.8L425.6,135.8L425.6,135.8L425.7,135.8L425.7,135.8L425.8,135.8L425.8,135.8L425.9,135.8L425.9,135.8L426.0,135.8L426.0,135.8L426.0,135.8L426.1,135.8L426.1,135.8L426.2,135.8L426.2,135.8L426.3,135.8L426.3,135.8L426.4,135.8L426.4,135.8L426.5,135.8L426.5,135.8L426.5,135.8L426.6,135.8L427.0,135.8L427.5,135.9L427.6,135.9L427.7,135.9L427.7,135.9L427.8,135.9L427.8,135.9L427.9,135.9L427.9,135.9L428.0,135.9L428.0,135.9L428.0,135.9L428.1,135.9L428.1,135.9L428.2,135.9L428.2,135.9L428.3,135.9L428.3,135.9L428.4,135.9L428.4,135.8L428.5,135.8L428.5,135.8L428.5,135.8L428.6,135.8L428.6,135.8L428.7,135.8L428.7,135.8L428.8,135.8L428.8,135.8L428.9,135.8L428.9,135.8L429.0,135.8L429.0,135.8L429.0,135.8L429.1,135.8L429.1,135.8L429.2,135.8L429.2,135.8L429.3,135.8L429.3,135.8L429.4,135.8L429.4,135.8L429.5,135.8L429.5,135.8L429.5,135.8L429.6,135.8L429.6,135.8L429.7,135.8L429.7,135.8L429.8,135.8L429.8,135.8L429.9,135.8L429.9,135.8L430.0,135.8L430.0,135.8L430.0,135.8L430.1,135.8L430.1,135.8L430.2,135.8L430.2,135.8L430.3,135.8L430.3,135.8L430.4,135.7L430.4,135.7L430.5,135.7L430.5,135.7L430.5,135.7L430.6,135.7L430.6,135.7L430.7,135.7L430.7,135.7L430.8,135.7L430.8,135.7L430.9,135.6L430.9,135.6L431.0,135.6L431.0,135.6L431.0,135.6L431.1,135.6L431.1,135.6L431.2,135.5L431.2,135.5L431.3,135.5L431.3,135.5L431.4,135.4L431.4,135.4L431.5,135.3L431.5,135.3L431.5,135.2L431.6,135.1L431.6,135.0L431.7,134.8L431.7,134.5L431.8,134.2L431.8,133.8L431.9,133.2L431.9,132.5L432.0,131.7L432.0,131.6L432.0,130.6L432.1,129.4L432.1,128.0L432.2,126.4L432.2,124.6L432.3,122.8L432.3,120.9L432.4,119.1L432.4,117.3L432.5,115.8L432.5,115.6L432.5,114.5L432.6,113.5L432.6,113.0L432.7,112.8L432.7,113.1L432.8,113.9L432.8,114.9L432.9,116.3L432.9,118.0L433.0,119.8L433.0,119.9L433.0,121.7L433.1,123.5L433.1,125.3L433.2,127.0L433.2,128.5L433.3,129.9L433.3,131.0L433.4,132.0L433.4,132.8L433.5,133.5L433.5,133.5L433.5,134.0L433.6,134.3L433.6,134.6L433.7,134.9L433.7,135.0L433.8,135.2L433.8,135.3L433.9,135.3L433.9,135.4L434.0,135.4L434.0,135.4L434.0,135.5L434.1,135.5L434.1,135.5L434.2,135.5L434.2,135.6L434.3,135.6L434.3,135.6L434.4,135.6L434.4,135.6L434.5,135.6L434.5,135.6L434.5,135.6L434.6,135.7L434.6,135.7L434.7,135.7L434.7,135.7L434.8,135.7L434.8,135.7L434.9,135.7L434.9,135.7L435.0,135.7L435.0,135.7L435.0,135.7L435.1,135.7L435.1,135.7L435.2,135.7L435.2,135.7L435.3,135.7L435.3,135.7L435.3,135.7L435.4,135.7L435.4,135.7L435.4,135.7L435.4,135.7L435.5,135.7L435.5,135.7L435.5,135.7L435.5,135.7L435.5,135.7L435.6,135.7L435.6,135.7L435.6,135.8L435.6,135.8L435.7,135.8L435.7,135.8L435.7,135.8L435.7,135.8L435.8,135.8L435.8,135.8L435.8,135.8L435.8,135.8L435.9,135.8L435.9,135.8L435.9,135.8L435.9,135.8L436.0,135.8L436.0,135.8L436.0,135.8L436.0,135.8L436.0,135.8L436.1,135.8L436.1,135.8L436.1,135.8L436.1,135.7L436.2,135.7L436.2,135.7L436.2,135.7L436.2,135.7L436.3,135.7L436.3,135.7L436.3,135.7L436.3,135.7L436.4,135.7L436.4,135.7L436.4,135.7L436.4,135.7L436.5,135.7L436.5,135.7L436.5,135.7L436.5,135.7L436.5,135.7L436.6,135.7L436.6,135.7L436.6,135.7L436.6,135.7L436.7,135.7L436.7,135.7L436.7,135.7L436.7,135.7L436.8,135.7L436.8,135.7L436.8,135.7L436.8,135.7L436.9,135.7L436.9,135.7L436.9,135.7L436.9,135.7L437.0,135.7L437.0,135.7L437.0,135.7L437.0,135.7L437.0,135.7L437.1,135.7L437.1,135.7L437.1,135.7L437.1,135.7L437.2,135.7L437.2,135.7L437.2,135.7L437.2,135.7L437.3,135.7L437.3,135.7L437.3,135.6L437.3,135.6L437.4,135.6L437.4,135.6L437.4,135.6L437.4,135.6L437.5,135.6L437.5,135.6L437.5,135.6L437.5,135.6L437.5,135.6L437.6,135.6L437.6,135.6L437.6,135.6L437.6,135.6L437.7,135.6L437.7,135.6L437.7,135.6L437.8,135.5L437.8,135.5L437.9,135.5L437.9,135.5L438.0,135.5L438.0,135.5L438.0,135.5L438.1,135.4L438.1,135.4L438.2,135.4L438.2,135.4L438.3,135.4L438.3,135.3L438.4,135.3L438.4,135.3L438.5,135.2L438.5,135.2L438.5,135.2L438.6,135.2L438.6,135.1L438.7,135.1L438.7,135.0L438.8,135.0L438.8,134.9L438.9,134.9L438.9,134.8L439.0,134.7L439.0,134.7L439.0,134.6L439.1,134.5L439.1,134.4L439.2,134.2L439.2,134.0L439.3,133.7L439.3,133.2L439.4,132.7L439.4,131.9L439.5,131.0L439.5,130.5L439.5,129.7L439.6,128.0L439.6,126.0L439.7,123.4L439.7,120.4L439.8,116.7L439.8,112.6L439.9,107.9L439.9,102.8L440.0,97.4L440.0,95.4L440.0,91.8L440.1,86.4L440.1,81.2L440.2,76.7L440.2,72.9L440.3,70.1L440.3,68.5L440.4,68.1L440.4,69.0L440.5,71.1L440.5,72.1L440.5,74.3L440.6,78.4L440.6,83.3L440.7,88.5L440.7,94.0L440.8,99.6L440.8,104.9L440.9,109.8L440.9,114.3L441.0,118.3L441.0,119.6L441.0,121.7L441.1,124.5L441.1,126.9L441.2,128.8L441.2,130.3L441.3,131.4L441.3,132.3L441.4,133.0L441.4,133.4L441.5,133.8L441.5,133.9L441.5,134.1L441.6,134.3L441.6,134.5L441.7,134.6L441.7,134.7L441.8,134.8L441.8,134.9L441.9,134.9L441.9,135.0L442.0,135.0L442.0,135.1L442.0,135.1L442.1,135.1L442.1,135.2L442.2,135.2L442.2,135.3L442.3,135.3L442.3,135.3L442.4,135.4L442.4,135.4L442.5,135.4L442.5,135.4L442.5,135.4L442.6,135.5L442.6,135.5L442.7,135.5L442.7,135.5L442.8,135.5L442.8,135.6L442.9,135.6L442.9,135.6L443.0,135.6L443.0,135.6L443.0,135.6L443.1,135.6L443.1,135.7L443.2,135.7L443.2,135.7L443.3,135.7L443.3,135.7L443.4,135.7L443.4,135.7L443.5,135.7L443.5,135.7L443.5,135.7L443.6,135.8L443.6,135.8L443.7,135.8L443.7,135.8L443.8,135.8L443.8,135.8L443.9,135.8L443.9,135.8L444.0,135.8L444.0,135.8L444.0,135.8L444.1,135.8L444.1,135.8L444.2,135.8L444.2,135.8L444.3,135.8L444.3,135.9L444.4,135.9L444.4,135.9L444.5,135.9L444.5,135.9L444.5,135.9L444.6,135.9L444.6,135.9L444.7,135.9L444.7,135.9L444.8,135.9L444.8,135.9L444.9,135.9L444.9,135.9L445.0,135.9L445.0,135.9L445.0,135.9L445.1,135.9L445.1,135.9L445.2,135.9L445.2,135.9L445.3,135.9L445.3,135.9L445.4,135.9L445.5,135.9L446.0,136.0L446.5,136.0L447.0,136.0L447.5,136.0L448.0,136.0L448.5,136.0L449.0,136.0L449.5,136.0L450.0,136.0L450.5,136.0L451.0,136.1L451.5,136.1L452.0,136.1L452.5,136.1L453.0,136.1L453.5,136.1L454.0,136.1L454.5,136.1L455.0,136.1L455.5,136.1L456.0,136.1L456.5,136.1L457.0,136.1L457.5,136.1L458.0,136.1L458.5,136.1L459.0,136.1L459.5,136.1L460.0,136.1L460.5,136.1L461.0,136.1L461.5,136.1L462.0,136.1L462.5,136.1L463.0,136.1L463.5,136.1L464.0,136.1L464.5,136.1L465.0,136.1L465.5,136.1L466.0,136.1L466.5,136.1L467.0,136.1L467.5,136.1L468.0,136.1L468.5,136.1L469.0,136.1L469.5,136.1L470.0,136.1L470.5,136.2L471.0,136.2L471.5,136.2L472.0,136.2L472.5,136.2L473.0,136.2L473.5,136.2L474.0,136.2L474.5,136.2L475.0,136.2L475.5,136.2L476.0,136.2L476.5,136.2L477.0,136.2L477.5,136.2L478.0,136.2L478.5,136.2L479.0,136.2L479.5,136.2L480.0,136.2L480.5,136.2L481.0,136.2L481.5,136.2L482.0,136.2L482.5,136.2L482.8,136.2L482.8,136.2L482.9,136.2L482.9,136.2L483.0,136.2L483.0,136.2L483.0,136.2L483.1,136.2L483.1,136.2L483.2,136.2L483.2,136.2L483.3,136.2L483.3,136.2L483.4,136.2L483.4,136.2L483.5,136.2L483.5,136.2L483.5,136.2L483.6,136.2L483.6,136.2L483.7,136.2L483.7,136.2L483.8,136.2L483.8,136.2L483.9,136.2L483.9,136.2L484.0,136.2L484.0,136.2L484.0,136.2L484.1,136.2L484.1,136.2L484.2,136.2L484.2,136.2L484.3,136.2L484.3,136.2L484.4,136.2L484.4,136.2L484.5,136.2L484.5,136.2L484.5,136.2L484.6,136.2L484.6,136.2L484.7,136.1L484.7,136.1L484.8,136.1L484.8,136.1L484.9,136.1L484.9,136.1L485.0,136.1L485.0,136.1L485.0,136.1L485.1,136.1L485.1,136.1L485.2,136.1L485.2,136.1L485.3,136.1L485.3,136.1L485.4,136.1L485.4,136.1L485.5,136.1L485.5,136.1L485.5,136.1L485.6,136.1L485.6,136.1L485.7,136.1L485.7,136.1L485.8,136.1L485.8,136.1L485.9,136.1L485.9,136.1L486.0,136.1L486.0,136.1L486.0,136.1L486.1,136.0L486.1,136.0L486.2,136.0L486.2,136.0L486.3,136.0L486.3,136.0L486.4,136.0L486.4,136.0L486.5,135.9L486.5,135.9L486.5,135.9L486.6,135.9L486.6,135.9L486.7,135.8L486.7,135.8L486.8,135.7L486.8,135.6L486.9,135.4L486.9,135.2L487.0,135.0L487.0,134.9L487.0,134.6L487.1,134.2L487.1,133.7L487.2,133.1L487.2,132.4L487.3,131.6L487.3,130.7L487.4,129.7L487.4,128.6L487.5,127.5L487.5,127.3L487.5,126.4L487.6,125.4L487.6,124.5L487.7,123.8L487.7,123.2L487.8,122.9L487.8,122.8L487.9,123.0L487.9,123.4L488.0,124.1L488.0,124.2L488.0,124.9L488.1,125.8L488.1,126.9L488.2,127.9L488.2,129.0L488.3,130.1L488.3,131.1L488.4,131.9L488.4,132.7L488.5,133.4L488.5,133.5L488.5,134.0L488.6,134.4L488.6,134.8L488.7,135.1L488.7,135.3L488.8,135.5L488.8,135.6L488.9,135.7L488.9,135.8L489.0,135.8L489.0,135.9L489.0,135.9L489.1,135.9L489.1,135.9L489.2,136.0L489.2,136.0L489.3,136.0L489.3,136.0L489.4,136.0L489.4,136.0L489.5,136.0L489.5,136.0L489.5,136.1L489.6,136.1L489.6,136.1L489.7,136.1L489.7,136.1L489.8,136.1L489.8,136.1L489.9,136.1L489.9,136.1L490.0,136.1L490.0,136.1L490.0,136.1L490.1,136.1L490.1,136.1L490.2,136.1L490.2,136.1L490.3,136.1L490.3,136.1L490.4,136.1L490.4,136.1L490.5,136.2L490.5,136.2L490.5,136.2L490.6,136.2L490.6,136.2L490.7,136.2L490.7,136.2L490.8,136.2L490.8,136.2L490.9,136.2L490.9,136.2L491.0,136.2L491.0,136.2L491.0,136.2L491.1,136.2L491.1,136.2L491.2,136.2L491.2,136.2L491.3,136.2L491.3,136.2L491.4,136.2L491.4,136.2L491.5,136.2L491.5,136.2L491.5,136.2L491.6,136.2L491.6,136.2L491.7,136.2L491.7,136.2L491.8,136.2L491.8,136.2L491.9,136.2L491.9,136.2L492.0,136.2L492.0,136.2L492.0,136.2L492.1,136.2L492.1,136.2L492.2,136.2L492.2,136.2L492.3,136.2L492.3,136.2L492.4,136.2L492.4,136.2L492.5,136.2L492.5,136.2L492.5,136.2L492.6,136.2L492.6,136.2L492.7,136.2L492.7,136.2L492.8,136.2L492.8,136.2L493.0,136.2L493.5,136.2L494.0,136.2L494.5,136.2L495.0,136.2L495.5,136.2L496.0,136.2L496.5,136.2L497.0,136.2L497.5,136.2L498.0,136.3L498.5,136.3L499.0,136.3L499.5,136.3L500.0,136.3L500.5,136.3L501.0,136.3L501.5,136.3L502.0,136.3L502.5,136.3L503.0,136.3L503.5,136.3L504.0,136.3L504.5,136.3L505.0,136.3L505.5,136.3L506.0,136.3L506.5,136.3L507.0,136.3L507.5,136.3L508.0,136.3L508.5,136.3L509.0,136.3L509.5,136.3L510.0,136.3L510.5,136.3L511.0,136.3L511.5,136.3L512.0,136.3L512.5,136.3L513.0,136.3L513.5,136.3L514.0,136.3L514.5,136.3L515.0,136.3L515.5,136.3L516.0,136.3L516.5,136.3L517.0,136.3L517.5,136.3L518.0,136.3L518.5,136.3L519.0,136.3L519.5,136.3L520.0,136.3L520.5,136.3L520.8,136.3L520.9,136.3L520.9,136.3L521.0,136.3L521.0,136.3L521.0,136.3L521.1,136.3L521.1,136.3L521.2,136.3L521.2,136.3L521.3,136.3L521.3,136.3L521.4,136.3L521.4,136.3L521.5,136.3L521.5,136.3L521.5,136.3L521.6,136.3L521.6,136.3L521.7,136.3L521.7,136.3L521.8,136.3L521.8,136.3L521.9,136.3L521.9,136.3L522.0,136.3L522.0,136.3L522.0,136.3L522.1,136.3L522.1,136.3L522.2,136.3L522.2,136.3L522.3,136.3L522.3,136.3L522.4,136.3L522.4,136.3L522.5,136.3L522.5,136.3L522.5,136.3L522.6,136.3L522.6,136.3L522.7,136.3L522.7,136.3L522.8,136.3L522.8,136.3L522.9,136.3L522.9,136.3L523.0,136.3L523.0,136.3L523.0,136.3L523.1,136.3L523.1,136.3L523.2,136.3L523.2,136.3L523.3,136.3L523.3,136.3L523.4,136.3L523.4,136.3L523.5,136.3L523.5,136.3L523.5,136.3L523.6,136.3L523.6,136.2L523.7,136.2L523.7,136.2L523.8,136.2L523.8,136.2L523.9,136.2L523.9,136.2L524.0,136.2L524.0,136.2L524.0,136.2L524.1,136.2L524.1,136.2L524.2,136.2L524.2,136.2L524.3,136.1L524.3,136.1L524.4,136.1L524.4,136.1L524.5,136.1L524.5,136.1L524.5,136.1L524.6,136.0L524.6,136.0L524.7,136.0L524.7,135.9L524.8,135.8L524.8,135.7L524.9,135.6L524.9,135.4L525.0,135.2L525.0,135.2L525.0,134.9L525.1,134.5L525.1,134.0L525.2,133.4L525.2,132.7L525.3,131.8L525.3,130.8L525.4,129.7L525.4,128.5L525.5,127.2L525.5,127.0L525.5,125.9L525.6,124.6L525.6,123.3L525.7,122.2L525.7,121.3L525.8,120.7L525.8,120.3L525.9,120.2L525.9,120.4L526.0,120.9L526.0,121.0L526.0,121.7L526.1,122.7L526.1,123.8L526.2,125.1L526.2,126.4L526.3,127.7L526.3,129.0L526.4,130.1L526.4,131.2L526.5,132.2L526.5,132.3L526.5,133.0L526.6,133.7L526.6,134.2L526.7,134.7L526.7,135.0L526.8,135.3L526.8,135.5L526.9,135.7L526.9,135.8L527.0,135.9L527.0,135.9L527.0,135.9L527.1,136.0L527.1,136.0L527.2,136.1L527.2,136.1L527.3,136.1L527.3,136.1L527.4,136.1L527.4,136.2L527.5,136.2L527.5,136.2L527.5,136.2L527.6,136.2L527.6,136.2L527.7,136.2L527.7,136.2L527.8,136.2L527.8,136.2L527.9,136.2L527.9,136.3L528.0,136.3L528.0,136.3L528.0,136.3L528.1,136.3L528.1,136.3L528.2,136.3L528.2,136.3L528.3,136.3L528.3,136.3L528.4,136.3L528.4,136.3L528.5,136.3L528.5,136.3L528.5,136.3L528.6,136.3L528.6,136.3L528.7,136.3L528.7,136.3L528.8,136.3L528.8,136.3L528.9,136.3L528.9,136.3L529.0,136.3L529.0,136.3L529.0,136.3L529.1,136.3L529.1,136.3L529.2,136.3L529.2,136.3L529.3,136.4L529.3,136.4L529.4,136.4L529.4,136.4L529.5,136.4L529.5,136.4L529.5,136.4L529.6,136.4L529.6,136.4L529.7,136.4L529.7,136.4L529.8,136.4L529.8,136.4L529.9,136.4L529.9,136.4L530.0,136.4L530.0,136.4L530.0,136.4L530.1,136.4L530.1,136.4L530.2,136.4L530.2,136.4L530.3,136.4L530.3,136.4L530.4,136.4L530.4,136.4L530.5,136.4L530.5,136.4L530.5,136.4L530.6,136.4L530.6,136.4L530.7,136.4L530.7,136.4L530.8,136.4L530.8,136.4L530.9,136.4L531.0,136.4L531.5,136.4L532.0,136.4L532.5,136.4L533.0,136.4L533.5,136.4L534.0,136.4L534.5,136.4L535.0,136.4L535.5,136.4L536.0,136.4L536.5,136.4L537.0,136.5L537.5,136.5L538.0,136.5L538.5,136.5L539.0,136.5L539.5,136.5L540.0,136.5L540.5,136.5" fill="none" stroke="#f28080" stroke-width="1.0" stroke-linejoin="round" /><path d="M330.5,99.5L331.0,99.5L331.5,99.5L332.0,99.5L332.5,99.5L333.0,99.5L333.5,99.5L334.0,99.5L334.5,99.5L335.0,99.5L335.5,99.5L336.0,99.5L336.5,99.5L337.0,99.5L337.5,99.5L338.0,99.5L338.5,99.5L339.0,99.5L339.5,99.5L340.0,99.5L340.5,99.6L341.0,99.6L341.5,99.6L342.0,99.6L342.5,99.6L343.0,99.6L343.5,99.5L344.0,99.6L344.5,99.7L345.0,99.8L345.5,99.8L346.0,99.9L346.5,99.9L347.0,99.9L347.5,99.9L348.0,99.9L348.5,99.9L349.0,99.9L349.5,100.0L350.0,100.0L350.5,100.0L351.0,100.0L351.5,100.0L352.0,100.0L352.5,100.0L353.0,100.0L353.5,100.0L354.0,100.0L354.5,100.0L355.0,100.1L355.5,100.1L356.0,100.1L356.5,100.1L357.0,100.1L357.5,100.1L358.0,100.1L358.5,100.1L359.0,100.1L359.5,100.1L360.0,100.1L360.5,100.2L361.0,100.2L361.5,100.2L362.0,100.2L362.5,100.2L363.0,100.2L363.5,100.2L364.0,100.2L364.5,100.2L365.0,100.2L365.5,100.2L366.0,100.2L366.5,100.2L367.0,100.2L367.5,100.2L368.0,100.3L368.5,100.3L369.0,100.3L369.5,100.3L370.0,100.3L370.5,100.3L371.0,100.3L371.5,100.3L372.0,100.3L372.5,100.3L373.0,100.3L373.5,100.3L374.0,100.3L374.5,100.3L375.0,100.3L375.5,100.4L376.0,100.4L376.5,100.4L377.0,100.4L377.5,100.4L378.0,100.4L378.5,100.4L379.0,100.4L379.5,100.4L380.0,100.4L380.5,100.4L381.0,100.4L381.5,100.4L382.0,100.4L382.5,100.4L383.0,100.4L383.5,100.4L384.0,100.4L384.5,100.4L385.0,100.4L385.5,100.4L386.0,100.5L386.5,100.5L387.0,100.5L387.5,100.5L388.0,100.5L388.5,100.5L389.0,100.5L389.5,100.5L390.0,100.5L390.5,100.5L391.0,100.5L391.5,100.5L392.0,100.5L392.5,100.5L393.0,100.5L393.5,100.5L394.0,100.5L394.5,100.5L395.0,100.5L395.5,100.5L396.0,100.5L396.5,100.5L397.0,100.5L397.5,100.5L398.0,100.5L398.5,100.5L399.0,100.5L399.5,100.5L400.0,100.5L400.5,100.5L401.0,100.5L401.5,100.5L402.0,100.5L402.5,100.6L403.0,100.6L403.5,100.6L404.0,100.6L404.5,100.6L405.0,100.6L405.5,100.6L406.0,100.6L406.5,100.6L407.0,100.6L407.5,100.6L408.0,100.6L408.5,100.6L409.0,100.6L409.5,100.6L410.0,100.6L410.5,100.6L411.0,100.6L411.5,100.6L412.0,100.6L412.5,100.6L413.0,100.6L413.5,100.5L414.0,100.5L414.5,100.5L415.0,100.5L415.5,100.5L416.0,100.5L416.5,100.5L416.5,100.5L416.6,100.5L416.6,100.5L416.7,100.5L416.7,100.5L416.8,100.5L416.8,100.5L416.9,100.5L416.9,100.5L417.0,100.5L417.0,100.5L417.0,100.5L417.1,100.5L417.1,100.5L417.2,100.5L417.2,100.5L417.3,100.5L417.3,100.4L417.4,100.4L417.4,100.4L417.5,100.4L417.5,100.4L417.5,100.4L417.6,100.4L417.6,100.4L417.7,100.4L417.7,100.4L417.8,100.4L417.8,100.4L417.9,100.4L417.9,100.4L418.0,100.4L418.0,100.4L418.0,100.4L418.1,100.4L418.1,100.4L418.2,100.4L418.2,100.4L418.3,100.4L418.3,100.4L418.4,100.3L418.4,100.3L418.5,100.3L418.5,100.3L418.5,100.3L418.6,100.3L418.6,100.3L418.7,100.3L418.7,100.3L418.8,100.3L418.8,100.3L418.9,100.3L418.9,100.2L419.0,100.2L419.0,100.2L419.0,100.2L419.1,100.2L419.1,100.2L419.2,100.2L419.2,100.2L419.3,100.1L419.3,100.1L419.4,100.1L419.4,100.1L419.5,100.1L419.5,100.0L419.5,100.0L419.6,100.0L419.6,100.0L419.7,100.0L419.7,99.9L419.8,99.9L419.8,99.9L419.9,99.8L419.9,99.8L420.0,99.7L420.0,99.7L420.0,99.7L420.1,99.6L420.1,99.6L420.2,99.5L420.2,99.4L420.3,99.3L420.3,99.2L420.4,99.1L420.4,98.8L420.5,98.6L420.5,98.3L420.5,98.2L420.6,97.7L420.6,97.1L420.7,96.2L420.7,95.1L420.8,93.7L420.8,92.0L420.9,89.8L420.9,87.1L421.0,84.0L421.0,81.6L421.0,80.4L421.1,76.3L421.1,71.9L421.2,67.3L421.2,62.5L421.3,57.8L421.3,53.4L421.4,49.5L421.4,46.2L421.5,43.8L421.5,42.7L421.5,42.4L421.6,42.1L421.6,42.8L421.7,44.7L421.7,47.4L421.8,51.0L421.8,55.1L421.9,59.7L421.9,64.4L422.0,69.2L422.0,72.3L422.0,73.7L422.1,78.0L422.1,81.9L422.2,85.3L422.2,88.2L422.3,90.7L422.3,92.7L422.4,94.3L422.4,95.6L422.5,96.6L422.5,97.2L422.5,97.4L422.6,97.9L422.6,98.4L422.7,98.7L422.7,98.9L422.8,99.1L422.8,99.3L422.9,99.4L422.9,99.5L423.0,99.5L423.0,99.6L423.0,99.6L423.1,99.7L423.1,99.7L423.2,99.7L423.2,99.8L423.3,99.8L423.3,99.9L423.4,99.9L423.4,99.9L423.5,100.0L423.5,100.0L423.5,100.0L423.6,100.0L423.6,100.0L423.7,100.1L423.7,100.1L423.8,100.1L423.8,100.1L423.9,100.1L423.9,100.2L424.0,100.2L424.0,100.2L424.0,100.2L424.1,100.2L424.1,100.2L424.2,100.2L424.2,100.2L424.3,100.2L424.3,100.3L424.4,100.3L424.4,100.3L424.5,100.3L424.5,100.3L424.5,100.3L424.6,100.3L424.6,100.3L424.7,100.3L424.7,100.3L424.8,100.3L424.8,100.3L424.9,100.3L424.9,100.4L425.0,100.4L425.0,100.4L425.0,100.4L425.1,100.4L425.1,100.4L425.2,100.4L425.2,100.4L425.3,100.4L425.3,100.4L425.4,100.4L425.4,100.4L425.5,100.4L425.5,100.4L425.5,100.4L425.6,100.4L425.6,100.4L425.7,100.4L425.7,100.4L425.8,100.4L425.8,100.4L425.9,100.4L425.9,100.4L426.0,100.4L426.0,100.4L426.0,100.4L426.1,100.4L426.1,100.4L426.2,100.4L426.2,100.4L426.3,100.4L426.3,100.4L426.4,100.5L426.4,100.5L426.5,100.5L426.5,100.5L426.5,100.5L426.6,100.5L427.0,100.5L427.5,100.5L427.6,100.5L427.7,100.5L427.7,100.5L427.8,100.5L427.8,100.5L427.9,100.5L427.9,100.5L428.0,100.5L428.0,100.5L428.0,100.5L428.1,100.5L428.1,100.5L428.2,100.5L428.2,100.5L428.3,100.5L428.3,100.5L428.4,100.5L428.4,100.5L428.5,100.5L428.5,100.5L428.5,100.5L428.6,100.5L428.6,100.5L428.7,100.5L428.7,100.4L428.8,100.4L428.8,100.4L428.9,100.4L428.9,100.4L429.0,100.4L429.0,100.4L429.0,100.4L429.1,100.4L429.1,100.4L429.2,100.4L429.2,100.4L429.3,100.4L429.3,100.4L429.4,100.4L429.4,100.4L429.5,100.4L429.5,100.4L429.5,100.4L429.6,100.4L429.6,100.4L429.7,100.4L429.7,100.4L429.8,100.4L429.8,100.4L429.9,100.4L429.9,100.4L430.0,100.4L430.0,100.4L430.0,100.3L430.1,100.3L430.1,100.3L430.2,100.3L430.2,100.3L430.3,100.3L430.3,100.3L430.4,100.3L430.4,100.3L430.5,100.3L430.5,100.3L430.5,100.3L430.6,100.2L430.6,100.2L430.7,100.2L430.7,100.2L430.8,100.2L430.8,100.2L430.9,100.1L430.9,100.1L431.0,100.1L431.0,100.1L431.0,100.1L431.1,100.1L431.1,100.0L431.2,100.0L431.2,100.0L431.3,99.9L431.3,99.9L431.4,99.8L431.4,99.7L431.5,99.6L431.5,99.6L431.5,99.5L431.6,99.4L431.6,99.2L431.7,98.9L431.7,98.5L431.8,98.0L431.8,97.3L431.9,96.5L431.9,95.4L432.0,94.2L432.0,94.0L432.0,92.6L432.1,90.7L432.1,88.6L432.2,86.2L432.2,83.6L432.3,80.9L432.3,78.0L432.4,75.3L432.4,72.6L432.5,70.3L432.5,70.1L432.5,68.4L432.6,67.0L432.6,66.1L432.7,66.0L432.7,66.4L432.8,67.5L432.8,69.1L432.9,71.2L432.9,73.7L433.0,76.4L433.0,76.6L433.0,79.2L433.1,82.0L433.1,84.7L433.2,87.2L433.2,89.5L433.3,91.5L433.3,93.2L433.4,94.7L433.4,95.9L433.5,96.8L433.5,96.9L433.5,97.6L433.6,98.2L433.6,98.6L433.7,99.0L433.7,99.2L433.8,99.4L433.8,99.6L433.9,99.7L433.9,99.7L434.0,99.8L434.0,99.8L434.0,99.9L434.1,99.9L434.1,99.9L434.2,100.0L434.2,100.0L434.3,100.0L434.3,100.1L434.4,100.1L434.4,100.1L434.5,100.1L434.5,100.1L434.5,100.1L434.6,100.1L434.6,100.2L434.7,100.2L434.7,100.2L434.8,100.2L434.8,100.2L434.9,100.2L434.9,100.2L435.0,100.2L435.0,100.2L435.0,100.2L435.1,100.3L435.1,100.3L435.2,100.3L435.2,100.3L435.3,100.3L435.3,100.3L435.3,100.3L435.4,100.3L435.4,100.3L435.4,100.3L435.4,100.3L435.5,100.3L435.5,100.3L435.5,100.3L435.5,100.3L435.5,100.3L435.6,100.3L435.6,100.3L435.6,100.3L435.6,100.3L435.7,100.3L435.7,100.3L435.7,100.3L435.7,100.3L435.8,100.3L435.8,100.3L435.8,100.3L435.8,100.3L435.9,100.3L435.9,100.3L435.9,100.3L435.9,100.3L436.0,100.3L436.0,100.3L436.0,100.3L436.0,100.3L436.0,100.3L436.1,100.3L436.1,100.3L436.1,100.3L436.1,100.3L436.2,100.3L436.2,100.3L436.2,100.3L436.2,100.3L436.3,100.3L436.3,100.3L436.3,100.3L436.3,100.3L436.4,100.3L436.4,100.3L436.4,100.3L436.4,100.3L436.5,100.3L436.5,100.3L436.5,100.3L436.5,100.3L436.5,100.3L436.6,100.3L436.6,100.3L436.6,100.3L436.6,100.3L436.7,100.3L436.7,100.3L436.7,100.3L436.7,100.3L436.8,100.3L436.8,100.3L436.8,100.3L436.8,100.3L436.9,100.3L436.9,100.3L436.9,100.3L436.9,100.3L437.0,100.3L437.0,100.3L437.0,100.3L437.0,100.3L437.0,100.2L437.1,100.2L437.1,100.2L437.1,100.2L437.1,100.2L437.2,100.2L437.2,100.2L437.2,100.2L437.2,100.2L437.3,100.2L437.3,100.2L437.3,100.2L437.3,100.2L437.4,100.2L437.4,100.2L437.4,100.2L437.4,100.2L437.5,100.2L437.5,100.2L437.5,100.2L437.5,100.2L437.5,100.2L437.6,100.2L437.6,100.1L437.6,100.1L437.6,100.1L437.7,100.1L437.7,100.1L437.7,100.1L437.8,100.1L437.8,100.1L437.9,100.1L437.9,100.0L438.0,100.0L438.0,100.0L438.0,100.0L438.1,100.0L438.1,100.0L438.2,99.9L438.2,99.9L438.3,99.9L438.3,99.9L438.4,99.8L438.4,99.8L438.5,99.8L438.5,99.7L438.5,99.7L438.6,99.7L438.6,99.6L438.7,99.6L438.7,99.5L438.8,99.5L438.8,99.4L438.9,99.3L438.9,99.3L439.0,99.2L439.0,99.1L439.0,99.1L439.1,98.9L439.1,98.8L439.2,98.6L439.2,98.3L439.3,98.0L439.3,97.5L439.4,96.9L439.4,96.0L439.5,94.9L439.5,94.5L439.5,93.5L439.6,91.7L439.6,89.3L439.7,86.5L439.7,83.0L439.8,79.0L439.8,74.3L439.9,69.0L439.9,63.3L440.0,57.2L440.0,54.9L440.0,51.0L440.1,44.8L440.1,39.1L440.2,33.9L440.2,29.7L440.3,26.6L440.3,24.8L440.4,24.3L440.4,25.3L440.5,27.7L440.5,28.8L440.5,31.3L440.6,35.9L440.6,41.3L440.7,47.3L440.7,53.5L440.8,59.6L440.8,65.6L440.9,71.2L440.9,76.2L441.0,80.7L441.0,82.1L441.0,84.5L441.1,87.7L441.1,90.3L441.2,92.5L441.2,94.1L441.3,95.4L441.3,96.4L441.4,97.2L441.4,97.7L441.5,98.1L441.5,98.3L441.5,98.5L441.6,98.7L441.6,98.9L441.7,99.0L441.7,99.1L441.8,99.2L441.8,99.3L441.9,99.4L441.9,99.5L442.0,99.5L442.0,99.5L442.0,99.6L442.1,99.6L442.1,99.7L442.2,99.7L442.2,99.8L442.3,99.8L442.3,99.8L442.4,99.9L442.4,99.9L442.5,99.9L442.5,99.9L442.5,100.0L442.6,100.0L442.6,100.0L442.7,100.0L442.7,100.1L442.8,100.1L442.8,100.1L442.9,100.1L442.9,100.1L443.0,100.2L443.0,100.2L443.0,100.2L443.1,100.2L443.1,100.2L443.2,100.2L443.2,100.2L443.3,100.2L443.3,100.3L443.4,100.3L443.4,100.3L443.5,100.3L443.5,100.3L443.5,100.3L443.6,100.3L443.6,100.3L443.7,100.3L443.7,100.3L443.8,100.3L443.8,100.4L443.9,100.4L443.9,100.4L444.0,100.4L444.0,100.4L444.0,100.4L444.1,100.4L444.1,100.4L444.2,100.4L444.2,100.4L444.3,100.4L444.3,100.4L444.4,100.4L444.4,100.4L444.5,100.4L444.5,100.4L444.5,100.4L444.6,100.4L444.6,100.4L444.7,100.5L444.7,100.5L444.8,100.5L444.8,100.5L444.9,100.5L444.9,100.5L445.0,100.5L445.0,100.5L445.0,100.5L445.1,100.5L445.1,100.5L445.2,100.5L445.2,100.5L445.3,100.5L445.3,100.5L445.4,100.5L445.5,100.5L446.0,100.5L446.5,100.5L447.0,100.6L447.5,100.6L448.0,100.6L448.5,100.6L449.0,100.6L449.5,100.6L450.0,100.6L450.5,100.6L451.0,100.6L451.5,100.6L452.0,100.6L452.5,100.6L453.0,100.6L453.5,100.6L454.0,100.6L454.5,100.6L455.0,100.6L455.5,100.6L456.0,100.6L456.5,100.7L457.0,100.7L457.5,100.7L458.0,100.7L458.5,100.7L459.0,100.7L459.5,100.7L460.0,100.7L460.5,100.7L461.0,100.7L461.5,100.7L462.0,100.7L462.5,100.7L463.0,100.7L463.5,100.7L464.0,100.7L464.5,100.7L465.0,100.7L465.5,100.7L466.0,100.7L466.5,100.7L467.0,100.7L467.5,100.7L468.0,100.7L468.5,100.7L469.0,100.7L469.5,100.7L470.0,100.7L470.5,100.7L471.0,100.7L471.5,100.7L472.0,100.7L472.5,100.7L473.0,100.7L473.5,100.7L474.0,100.7L474.5,100.7L475.0,100.7L475.5,100.7L476.0,100.7L476.5,100.7L477.0,100.7L477.5,100.7L478.0,100.7L478.5,100.7L479.0,100.7L479.5,100.7L480.0,100.7L480.5,100.7L481.0,100.7L481.5,100.7L482.0,100.7L482.5,100.7L482.8,100.7L482.8,100.7L482.9,100.7L482.9,100.7L483.0,100.7L483.0,100.7L483.0,100.7L483.1,100.7L483.1,100.7L483.2,100.7L483.2,100.7L483.3,100.7L483.3,100.7L483.4,100.7L483.4,100.7L483.5,100.7L483.5,100.7L483.5,100.7L483.6,100.7L483.6,100.7L483.7,100.7L483.7,100.7L483.8,100.7L483.8,100.7L483.9,100.7L483.9,100.7L484.0,100.7L484.0,100.7L484.0,100.7L484.1,100.7L484.1,100.7L484.2,100.7L484.2,100.7L484.3,100.7L484.3,100.7L484.4,100.7L484.4,100.7L484.5,100.7L484.5,100.7L484.5,100.7L484.6,100.7L484.6,100.7L484.7,100.7L484.7,100.7L484.8,100.7L484.8,100.7L484.9,100.7L484.9,100.7L485.0,100.7L485.0,100.7L485.0,100.7L485.1,100.7L485.1,100.7L485.2,100.7L485.2,100.7L485.3,100.7L485.3,100.7L485.4,100.6L485.4,100.6L485.5,100.6L485.5,100.6L485.5,100.6L485.6,100.6L485.6,100.6L485.7,100.6L485.7,100.6L485.8,100.6L485.8,100.6L485.9,100.6L485.9,100.6L486.0,100.6L486.0,100.6L486.0,100.6L486.1,100.6L486.1,100.6L486.2,100.6L486.2,100.5L486.3,100.5L486.3,100.5L486.4,100.5L486.4,100.5L486.5,100.5L486.5,100.5L486.5,100.4L486.6,100.4L486.6,100.4L486.7,100.3L486.7,100.3L486.8,100.2L486.8,100.1L486.9,99.9L486.9,99.7L487.0,99.5L487.0,99.4L487.0,99.1L487.1,98.7L487.1,98.2L487.2,97.5L487.2,96.8L487.3,95.9L487.3,95.0L487.4,93.9L487.4,92.8L487.5,91.7L487.5,91.5L487.5,90.6L487.6,89.5L487.6,88.6L487.7,87.8L487.7,87.3L487.8,86.9L487.8,86.9L487.9,87.0L487.9,87.5L488.0,88.1L488.0,88.2L488.0,89.0L488.1,90.0L488.1,91.0L488.2,92.2L488.2,93.3L488.3,94.4L488.3,95.4L488.4,96.3L488.4,97.1L488.5,97.8L488.5,97.9L488.5,98.4L488.6,98.9L488.6,99.3L488.7,99.6L488.7,99.8L488.8,100.0L488.8,100.1L488.9,100.2L488.9,100.3L489.0,100.4L489.0,100.4L489.0,100.4L489.1,100.4L489.1,100.5L489.2,100.5L489.2,100.5L489.3,100.5L489.3,100.5L489.4,100.5L489.4,100.6L489.5,100.6L489.5,100.6L489.5,100.6L489.6,100.6L489.6,100.6L489.7,100.6L489.7,100.6L489.8,100.6L489.8,100.6L489.9,100.6L489.9,100.6L490.0,100.6L490.0,100.6L490.0,100.6L490.1,100.6L490.1,100.6L490.2,100.7L490.2,100.7L490.3,100.7L490.3,100.7L490.4,100.7L490.4,100.7L490.5,100.7L490.5,100.7L490.5,100.7L490.6,100.7L490.6,100.7L490.7,100.7L490.7,100.7L490.8,100.7L490.8,100.7L490.9,100.7L490.9,100.7L491.0,100.7L491.0,100.7L491.0,100.7L491.1,100.7L491.1,100.7L491.2,100.7L491.2,100.7L491.3,100.7L491.3,100.7L491.4,100.7L491.4,100.7L491.5,100.7L491.5,100.7L491.5,100.7L491.6,100.7L491.6,100.7L491.7,100.7L491.7,100.7L491.8,100.7L491.8,100.7L491.9,100.7L491.9,100.7L492.0,100.7L492.0,100.7L492.0,100.7L492.1,100.7L492.1,100.7L492.2,100.7L492.2,100.7L492.3,100.7L492.3,100.7L492.4,100.7L492.4,100.7L492.5,100.7L492.5,100.7L492.5,100.7L492.6,100.7L492.6,100.7L492.7,100.7L492.7,100.7L492.8,100.7L492.8,100.7L493.0,100.7L493.5,100.7L494.0,100.7L494.5,100.7L495.0,100.8L495.5,100.8L496.0,100.8L496.5,100.8L497.0,100.8L497.5,100.8L498.0,100.8L498.5,100.8L499.0,100.8L499.5,100.8L500.0,100.8L500.5,100.8L501.0,100.8L501.5,100.8L502.0,100.8L502.5,100.8L503.0,100.8L503.5,100.8L504.0,100.8L504.5,100.8L505.0,100.8L505.5,100.8L506.0,100.8L506.5,100.8L507.0,100.8L507.5,100.8L508.0,100.8L508.5,100.8L509.0,100.8L509.5,100.8L510.0,100.8L510.5,100.8L511.0,100.8L511.5,100.8L512.0,100.8L512.5,100.8L513.0,100.8L513.5,100.8L514.0,100.8L514.5,100.8L515.0,100.8L515.5,100.8L516.0,100.8L516.5,100.8L517.0,100.8L517.5,100.8L518.0,100.8L518.5,100.8L519.0,100.8L519.5,100.8L520.0,100.8L520.5,100.8L520.8,100.8L520.9,100.8L520.9,100.8L521.0,100.8L521.0,100.8L521.0,100.8L521.1,100.8L521.1,100.8L521.2,100.8L521.2,100.8L521.3,100.8L521.3,100.8L521.4,100.8L521.4,100.8L521.5,100.8L521.5,100.8L521.5,100.8L521.6,100.8L521.6,100.8L521.7,100.8L521.7,100.8L521.8,100.8L521.8,100.8L521.9,100.8L521.9,100.8L522.0,100.8L522.0,100.8L522.0,100.8L522.1,100.8L522.1,100.8L522.2,100.8L522.2,100.8L522.3,100.8L522.3,100.8L522.4,100.8L522.4,100.8L522.5,100.8L522.5,100.8L522.5,100.8L522.6,100.8L522.6,100.8L522.7,100.8L522.7,100.8L522.8,100.8L522.8,100.8L522.9,100.8L522.9,100.7L523.0,100.7L523.0,100.7L523.0,100.7L523.1,100.7L523.1,100.7L523.2,100.7L523.2,100.7L523.3,100.7L523.3,100.7L523.4,100.7L523.4,100.7L523.5,100.7L523.5,100.7L523.5,100.7L523.6,100.7L523.6,100.7L523.7,100.7L523.7,100.7L523.8,100.7L523.8,100.7L523.9,100.7L523.9,100.7L524.0,100.6L524.0,100.6L524.0,100.6L524.1,100.6L524.1,100.6L524.2,100.6L524.2,100.6L524.3,100.6L524.3,100.6L524.4,100.5L524.4,100.5L524.5,100.5L524.5,100.5L524.5,100.5L524.6,100.5L524.6,100.4L524.7,100.4L524.7,100.3L524.8,100.2L524.8,100.1L524.9,100.0L524.9,99.8L525.0,99.5L525.0,99.5L525.0,99.2L525.1,98.7L525.1,98.2L525.2,97.5L525.2,96.7L525.3,95.7L525.3,94.6L525.4,93.4L525.4,92.0L525.5,90.5L525.5,90.4L525.5,89.1L525.6,87.6L525.6,86.3L525.7,85.0L525.7,84.0L525.8,83.3L525.8,82.9L525.9,82.8L525.9,83.0L526.0,83.6L526.0,83.6L526.0,84.4L526.1,85.5L526.1,86.8L526.2,88.2L526.2,89.7L526.3,91.1L526.3,92.5L526.4,93.9L526.4,95.1L526.5,96.1L526.5,96.2L526.5,97.0L526.6,97.8L526.6,98.4L526.7,98.9L526.7,99.3L526.8,99.6L526.8,99.9L526.9,100.0L526.9,100.2L527.0,100.3L527.0,100.3L527.0,100.3L527.1,100.4L527.1,100.4L527.2,100.5L527.2,100.5L527.3,100.5L527.3,100.5L527.4,100.6L527.4,100.6L527.5,100.6L527.5,100.6L527.5,100.6L527.6,100.6L527.6,100.6L527.7,100.6L527.7,100.7L527.8,100.7L527.8,100.7L527.9,100.7L527.9,100.7L528.0,100.7L528.0,100.7L528.0,100.7L528.1,100.7L528.1,100.7L528.2,100.7L528.2,100.7L528.3,100.7L528.3,100.7L528.4,100.7L528.4,100.7L528.5,100.7L528.5,100.8L528.5,100.8L528.6,100.8L528.6,100.8L528.7,100.8L528.7,100.8L528.8,100.8L528.8,100.8L528.9,100.8L528.9,100.8L529.0,100.8L529.0,100.8L529.0,100.8L529.1,100.8L529.1,100.8L529.2,100.8L529.2,100.8L529.3,100.8L529.3,100.8L529.4,100.8L529.4,100.8L529.5,100.8L529.5,100.8L529.5,100.8L529.6,100.8L529.6,100.8L529.7,100.8L529.7,100.8L529.8,100.8L529.8,100.8L529.9,100.8L529.9,100.8L530.0,100.8L530.0,100.8L530.0,100.8L530.1,100.8L530.1,100.8L530.2,100.8L530.2,100.8L530.3,100.8L530.3,100.8L530.4,100.8L530.4,100.8L530.5,100.8L530.5,100.8L530.5,100.8L530.6,100.8L530.6,100.8L530.7,100.8L530.7,100.8L530.8,100.8L530.8,100.8L530.9,100.8L531.0,100.8L531.5,100.8L532.0,100.9L532.5,100.9L533.0,100.9L533.5,100.9L534.0,100.9L534.5,100.9L535.0,100.9L535.5,100.9L536.0,100.9L536.5,100.9L537.0,100.9L537.5,100.9L538.0,100.9L538.5,100.9L539.0,100.9L539.5,100.9L540.0,100.9L540.5,100.9" fill="none" stroke="#80b8f2" stroke-width="1.3" stroke-linejoin="round" /></g><g clip-path="url(#cd)"><path d="M328.3,364.1L328.4,363.7L328.5,361.0L328.6,362.8L328.7,363.1L328.8,360.5L328.9,362.8L329.0,364.2L329.1,362.4L329.2,364.7L329.3,361.9L329.4,361.8L329.5,363.9L329.6,364.0L329.7,363.1L329.8,363.3L329.9,364.4L330.0,362.6L330.1,365.7L330.2,363.8L330.3,363.8L330.4,363.6L330.5,362.9L330.6,364.8L330.7,362.6L330.8,363.5L330.9,364.1L331.0,364.9L331.1,364.7L331.2,362.9L331.3,364.5L331.4,363.2L331.5,362.1L331.6,362.1L331.7,361.5L331.8,363.7L331.9,364.6L332.0,362.1L332.1,363.0L332.2,362.0L332.3,363.3L332.4,361.9L332.5,362.3L332.6,362.5L332.7,362.8L332.8,362.9L332.9,363.1L333.0,363.1L333.1,362.2L333.2,364.0L333.3,361.3L333.4,363.5L333.5,362.2L333.6,363.5L333.7,363.7L333.8,361.0L333.9,363.8L334.0,364.9L334.1,364.2L334.2,363.8L334.3,360.9L334.4,363.2L334.5,362.3L334.6,364.6L334.7,363.0L334.8,362.6L334.9,361.3L335.0,364.2L335.1,362.7L335.2,363.1L335.3,364.6L335.4,363.5L335.5,363.7L335.6,366.2L335.7,362.7L335.8,362.8L335.9,364.0L336.0,365.0L336.1,361.7L336.2,363.1L336.3,362.3L336.4,361.8L336.5,364.1L336.6,362.5L336.7,363.8L336.8,363.5L336.9,363.6L337.0,363.5L337.1,362.2L337.2,363.3L337.3,363.7L337.4,363.8L337.5,363.1L337.6,364.5L337.7,364.1L337.8,363.5L337.9,364.2L338.0,363.6L338.1,364.2L338.2,361.1L338.3,361.9L338.4,363.0L338.5,363.6L338.6,360.9L338.7,363.1L338.8,363.6L338.9,363.1L339.0,363.1L339.1,361.8L339.2,363.5L339.3,361.0L339.4,364.5L339.5,362.6L339.6,364.6L339.7,361.3L339.8,363.8L339.9,363.4L340.0,362.3L340.1,361.8L340.2,364.5L340.3,363.5L340.4,364.6L340.5,362.5L340.6,362.2L340.7,361.6L340.8,360.7L340.9,358.8L341.0,357.3L341.1,353.9L341.2,351.3L341.3,354.5L341.4,352.8L341.5,354.4L341.6,355.1L341.7,358.8L341.8,359.6L341.9,362.1L342.0,361.1L342.1,362.5L342.2,363.2L342.3,362.8L342.4,363.7L342.5,365.3L342.6,362.9L342.7,363.3L342.8,363.8L342.9,362.6L343.0,362.3L343.1,365.0L343.2,364.7L343.2,362.0L343.3,362.2L343.4,364.7L343.5,365.2L343.6,364.6L343.7,364.5L343.8,365.7L343.9,363.9L344.0,365.4L344.1,365.3L344.2,362.9L344.3,364.8L344.4,364.1L344.5,363.3L344.6,363.1L344.7,364.4L344.8,364.0L344.9,365.0L345.0,362.0L345.1,363.3L345.2,365.3L345.3,364.1L345.4,363.3L345.5,363.6L345.6,362.0L345.7,362.6L345.8,364.8L345.9,364.2L346.0,365.6L346.1,363.9L346.2,364.0L346.3,361.1L346.4,364.1L346.5,366.6L346.6,365.0L346.7,364.1L346.8,365.7L346.9,365.2L347.0,364.7L347.1,363.9L347.2,364.5L347.3,365.3L347.4,363.4L347.5,364.9L347.6,364.9L347.7,365.9L347.8,365.2L347.9,363.6L348.0,366.2L348.1,364.4L348.2,363.6L348.3,364.8L348.4,364.1L348.5,365.7L348.6,362.9L348.7,363.2L348.8,364.2L348.9,366.4L349.0,365.6L349.1,363.4L349.2,362.5L349.3,364.1L349.4,363.1L349.5,365.2L349.6,364.7L349.7,364.5L349.8,364.1L349.9,366.3L350.0,363.5L350.1,363.1L350.2,365.9L350.3,366.1L350.4,364.2L350.5,365.3L350.6,367.3L350.7,363.7L350.8,364.5L350.9,365.2L351.0,362.3L351.1,364.5L351.2,365.5L351.3,364.6L351.4,365.9L351.5,365.6L351.6,364.3L351.7,365.3L351.8,365.2L351.9,362.9L352.0,363.8L352.1,363.9L352.2,364.2L352.3,364.2L352.4,363.1L352.5,364.8L352.6,362.7L352.7,365.9L352.8,365.1L352.9,366.4L353.0,365.2L353.1,364.3L353.2,363.2L353.3,365.6L353.4,364.9L353.5,365.3L353.6,365.7L353.7,366.2L353.8,364.9L353.9,366.9L354.0,364.8L354.1,364.9L354.2,365.7L354.3,366.1L354.4,366.5L354.5,362.9L354.6,366.5L354.7,363.3L354.8,364.3L354.9,365.4L355.0,366.3L355.1,363.9L355.2,363.1L355.3,366.1L355.4,365.4L355.5,363.9L355.6,364.7L355.7,362.9L355.8,365.7L355.9,364.5L356.0,366.5L356.1,362.8L356.2,366.0L356.3,367.6L356.4,365.3L356.5,365.3L356.6,363.1L356.7,365.6L356.8,365.2L356.9,364.6L357.0,363.5L357.1,365.3L357.2,364.1L357.3,364.7L357.4,365.6L357.5,365.2L357.6,365.3L357.7,366.3L357.8,363.9L357.9,366.8L358.0,364.0L358.1,364.2L358.2,365.3L358.3,366.1L358.4,365.4L358.5,364.7L358.6,364.3L358.7,364.8L358.8,364.0L358.9,365.7L359.0,364.8L359.1,366.8L359.2,364.2L359.3,364.9L359.4,365.5L359.5,363.7L359.6,364.3L359.7,368.1L359.8,364.9L359.9,366.6L360.0,363.8L360.1,362.2L360.2,365.5L360.3,364.8L360.4,365.2L360.5,364.5L360.6,364.2L360.7,363.4L360.8,365.9L360.9,363.1L361.0,365.8L361.1,364.5L361.2,363.5L361.3,364.0L361.4,365.8L361.5,365.5L361.6,365.2L361.7,364.8L361.8,363.4L361.9,366.1L362.0,364.2L362.1,364.0L362.2,364.0L362.3,364.1L362.4,362.9L362.5,364.1L362.6,363.6L362.7,363.9L362.8,362.6L362.9,366.6L363.0,363.1L363.1,364.8L363.2,364.8L363.3,365.5L363.4,366.5L363.5,364.9L363.6,365.2L363.7,363.9L363.8,366.0L363.9,362.8L364.0,364.1L364.1,364.6L364.2,365.1L364.3,365.2L364.4,365.5L364.5,364.9L364.6,364.3L364.7,364.5L364.8,365.8L364.9,364.5L365.0,365.2L365.1,364.0L365.2,362.2L365.3,363.5L365.4,364.5L365.5,365.9L365.6,365.7L365.7,366.0L365.8,363.3L365.9,364.9L366.0,364.0L366.1,364.7L366.2,364.0L366.3,362.5L366.4,364.8L366.5,364.4L366.6,364.9L366.7,363.0L366.8,365.1L366.9,365.2L367.0,365.4L367.1,365.4L367.2,363.4L367.3,361.1L367.4,364.9L367.5,362.8L367.6,363.6L367.7,365.0L367.8,364.1L367.9,364.1L368.0,364.5L368.1,361.7L368.2,365.8L368.3,363.3L368.4,363.4L368.5,364.3L368.6,363.5L368.7,362.7L368.8,363.5L368.9,363.2L369.0,362.9L369.1,365.8L369.2,362.0L369.3,361.2L369.4,362.5L369.5,362.5L369.6,365.1L369.7,363.7L369.8,364.4L369.9,364.1L370.0,362.5L370.1,364.3L370.2,363.6L370.3,365.5L370.4,363.6L370.5,363.3L370.6,364.2L370.7,364.2L370.8,361.4L370.9,364.6L371.0,364.5L371.1,364.2L371.2,362.0L371.3,361.0L371.4,362.9L371.5,364.0L371.6,363.7L371.7,362.1L371.8,364.2L371.9,361.6L372.0,361.7L372.1,363.1L372.2,362.5L372.3,362.3L372.4,361.5L372.5,364.2L372.6,361.8L372.7,363.5L372.8,363.9L372.9,362.9L373.0,363.2L373.1,364.0L373.1,364.7L373.2,364.0L373.3,361.4L373.4,360.9L373.5,362.2L373.6,361.6L373.7,363.4L373.8,362.9L373.9,362.5L374.0,364.0L374.1,363.9L374.2,362.7L374.3,363.1L374.4,363.9L374.5,362.3L374.6,363.0L374.7,361.6L374.8,362.7L374.9,363.0L375.0,362.5L375.1,362.8L375.2,363.3L375.3,363.0L375.4,361.8L375.5,361.9L375.6,361.2L375.7,364.3L375.8,363.0L375.9,363.0L376.0,362.3L376.1,363.0L376.2,363.0L376.3,361.6L376.4,362.3L376.5,363.6L376.6,361.0L376.7,361.3L376.8,363.0L376.9,361.5L377.0,363.1L377.1,361.1L377.2,362.5L377.3,363.1L377.4,362.7L377.5,363.1L377.6,362.0L377.7,362.0L377.8,362.2L377.9,362.8L378.0,366.0L378.1,362.1L378.2,364.1L378.3,361.9L378.4,360.9L378.5,361.8L378.6,362.5L378.7,362.3L378.8,362.2L378.9,362.6L379.0,362.6L379.1,363.0L379.2,360.8L379.3,362.0L379.4,361.0L379.5,362.2L379.6,361.8L379.7,362.1L379.8,361.4L379.9,361.0L380.0,361.6L380.1,362.5L380.2,362.6L380.3,360.1L380.4,362.1L380.5,362.1L380.6,360.2L380.7,360.6L380.8,361.2L380.9,362.1L381.0,359.3L381.1,361.3L381.2,361.1L381.3,361.8L381.4,363.1L381.5,363.0L381.6,361.2L381.7,361.2L381.8,361.8L381.9,362.8L382.0,363.0L382.1,361.9L382.2,363.0L382.3,360.6L382.4,360.3L382.5,358.6L382.6,360.6L382.7,362.1L382.8,362.4L382.9,365.1L383.0,362.2L383.1,361.8L383.2,360.6L383.3,361.0L383.4,361.0L383.5,361.4L383.6,361.0L383.7,360.2L383.8,362.8L383.9,362.1L384.0,363.1L384.1,360.0L384.2,360.4L384.3,361.0L384.4,363.0L384.5,361.6L384.6,362.0L384.7,361.7L384.8,362.0L384.9,361.3L385.0,362.2L385.1,360.9L385.2,361.6L385.3,362.1L385.4,362.0L385.5,362.3L385.6,361.0L385.7,362.2L385.8,361.6L385.9,362.3L386.0,363.4L386.1,361.0L386.2,363.0L386.3,361.3L386.4,361.5L386.5,363.7L386.6,363.0L386.7,362.5L386.8,362.8L386.9,363.2L387.0,361.3L387.1,362.3L387.2,361.7L387.3,362.5L387.4,361.8L387.5,362.9L387.6,362.1L387.7,361.5L387.8,362.1L387.9,362.6L388.0,363.3L388.1,362.0L388.2,361.8L388.3,362.5L388.4,363.0L388.5,361.7L388.6,359.7L388.7,362.5L388.8,361.9L388.9,361.9L389.0,364.9L389.1,362.2L389.2,363.0L389.3,360.9L389.4,362.6L389.5,363.1L389.6,362.6L389.7,362.2L389.8,362.9L389.9,362.4L390.0,363.8L390.1,362.6L390.2,361.6L390.3,360.4L390.4,361.7L390.5,362.2L390.6,361.3L390.7,361.4L390.8,360.8L390.9,361.4L391.0,362.6L391.1,362.3L391.2,362.3L391.3,362.2L391.4,362.3L391.5,363.3L391.6,364.7L391.7,363.3L391.8,364.6L391.9,362.5L392.0,362.6L392.1,364.3L392.2,362.0L392.3,361.8L392.4,362.6L392.5,361.0L392.6,360.8L392.7,363.9L392.8,361.7L392.9,362.3L393.0,362.3L393.1,361.8L393.2,363.5L393.3,363.4L393.4,363.6L393.5,363.5L393.6,362.9L393.7,364.3L393.8,363.9L393.9,362.3L394.0,362.9L394.1,362.5L394.2,364.8L394.3,363.7L394.4,363.4L394.5,362.9L394.6,363.5L394.7,362.0L394.8,363.0L394.9,362.9L395.0,363.0L395.1,362.3L395.2,363.5L395.3,361.9L395.4,362.5L395.5,362.9L395.6,363.0L395.7,362.5L395.8,362.0L395.9,362.1L396.0,362.7L396.1,362.2L396.2,363.0L396.3,361.9L396.4,363.1L396.5,365.2L396.6,361.8L396.7,363.0L396.8,364.3L396.9,363.3L397.0,364.0L397.1,361.1L397.2,362.7L397.3,364.7L397.4,362.6L397.5,363.6L397.6,361.3L397.7,364.2L397.8,365.4L397.9,363.2L398.0,363.6L398.1,363.7L398.2,365.4L398.3,362.8L398.4,361.6L398.5,365.2L398.6,362.1L398.7,363.9L398.8,361.0L398.9,362.9L399.0,363.5L399.1,362.3L399.2,362.8L399.3,363.9L399.4,362.7L399.5,363.9L399.6,365.1L399.7,361.4L399.8,363.7L399.9,364.0L400.0,363.1L400.1,364.9L400.2,364.8L400.3,363.9L400.4,364.0L400.5,363.4L400.6,362.4L400.7,363.9L400.8,363.0L400.9,362.9L401.0,364.6L401.1,363.3L401.2,364.4L401.3,362.5L401.4,363.1L401.5,363.5L401.6,364.9L401.7,363.5L401.8,364.3L401.9,362.9L402.0,363.7L402.1,364.4L402.2,362.7L402.3,362.9L402.4,364.2L402.5,362.5L402.6,363.9L402.7,364.0L402.8,363.5L402.9,364.4L403.0,364.1L403.0,363.8L403.1,362.2L403.2,362.3L403.3,364.0L403.4,362.2L403.5,363.8L403.6,363.4L403.7,362.9L403.8,363.5L403.9,361.4L404.0,363.5L404.1,364.9L404.2,362.5L404.3,364.2L404.4,364.1L404.5,366.7L404.6,362.9L404.7,363.1L404.8,363.1L404.9,362.9L405.0,362.2L405.1,363.9L405.2,363.0L405.3,364.6L405.4,364.2L405.5,362.9L405.6,363.5L405.7,365.2L405.8,363.6L405.9,364.1L406.0,364.7L406.1,363.5L406.2,364.3L406.3,365.5L406.4,365.0L406.5,362.3L406.6,365.4L406.7,363.8L406.8,363.4L406.9,363.4L407.0,365.2L407.1,364.4L407.2,364.0L407.3,363.4L407.4,364.8L407.5,365.3L407.6,363.2L407.7,363.2L407.8,363.9L407.9,364.8L408.0,363.9L408.1,364.2L408.2,363.5L408.3,365.5L408.4,364.3L408.5,364.5L408.6,365.5L408.7,364.2L408.8,364.4L408.9,364.9L409.0,364.1L409.1,365.9L409.2,364.6L409.3,364.1L409.4,364.3L409.5,363.6L409.6,365.7L409.7,366.1L409.8,364.4L409.9,364.2L410.0,362.7L410.1,364.1L410.2,365.6L410.3,364.0L410.4,365.6L410.5,366.2L410.6,362.4L410.7,364.5L410.8,364.2L410.9,364.3L411.0,363.2L411.1,364.6L411.2,363.8L411.3,365.9L411.4,366.3L411.5,363.6L411.6,363.6L411.7,364.5L411.8,364.8L411.9,364.9L412.0,365.7L412.1,363.6L412.2,364.5L412.3,364.6L412.4,364.8L412.5,364.2L412.6,364.7L412.7,364.5L412.8,366.3L412.9,364.7L413.0,363.2L413.1,365.7L413.2,365.4L413.3,364.4L413.4,364.4L413.5,364.7L413.6,366.8L413.7,364.8L413.8,366.4L413.9,366.1L414.0,364.8L414.1,365.6L414.2,364.6L414.3,362.4L414.4,364.6L414.5,364.7L414.6,366.2L414.7,365.9L414.8,366.3L414.9,365.8L415.0,366.3L415.1,365.9L415.2,365.5L415.3,366.2L415.4,366.6L415.5,366.5L415.6,364.8L415.7,365.1L415.8,364.2L415.9,364.2L416.0,365.4L416.1,364.4L416.2,366.3L416.3,362.8L416.4,363.7L416.5,364.9L416.6,365.7L416.7,364.2L416.8,366.1L416.9,365.0L417.0,363.4L417.1,363.8L417.2,364.1L417.3,362.6L417.4,364.1L417.5,362.5L417.6,362.8L417.7,362.5L417.8,360.5L417.9,360.5L418.0,355.4L418.1,353.3L418.2,343.4L418.3,333.6L418.4,312.7L418.5,287.0L418.6,252.3L418.7,225.0L418.8,225.0L418.9,225.0L419.0,225.0L419.1,225.0L419.2,225.0L419.3,225.0L419.4,225.0L419.5,248.3L419.6,280.9L419.7,310.2L419.8,331.4L419.9,345.3L420.0,354.0L420.1,358.4L420.2,359.3L420.3,361.6L420.4,363.3L420.5,363.3L420.6,361.9L420.7,364.0L420.8,364.6L420.9,363.1L421.0,364.2L421.1,364.8L421.2,365.6L421.3,366.6L421.4,366.4L421.5,365.9L421.6,365.8L421.7,365.4L421.8,365.3L421.9,365.7L422.0,365.8L422.1,367.0L422.2,368.1L422.3,366.7L422.4,367.2L422.5,366.9L422.6,366.7L422.7,367.6L422.8,367.5L422.9,366.6L423.0,366.5L423.1,367.2L423.2,366.2L423.3,366.9L423.4,367.6L423.5,366.7L423.6,365.1L423.7,367.4L423.8,365.8L423.9,365.6L424.0,365.5L424.1,367.6L424.2,365.1L424.3,366.8L424.4,367.2L424.5,367.2L424.6,366.4L424.7,366.9L424.8,367.2L424.9,365.9L425.0,367.7L425.1,368.0L425.2,366.3L425.3,366.4L425.4,366.1L425.5,368.0L425.6,366.1L425.7,366.6L425.8,365.5L425.9,368.2L426.0,366.9L426.1,367.3L426.2,368.5L426.3,367.7L426.4,366.1L426.5,367.5L426.6,367.7L426.7,366.3L426.8,366.2L426.9,366.2L427.0,367.7L427.1,367.1L427.2,366.1L427.3,367.6L427.4,367.6L427.5,366.2L427.6,365.5L427.7,367.9L427.8,369.1L427.9,368.0L428.0,367.6L428.1,366.8L428.2,366.0L428.3,366.6L428.4,367.0L428.5,366.1L428.6,367.0L428.7,366.0L428.8,366.3L428.9,363.1L429.0,364.3L429.1,364.9L429.2,363.7L429.3,360.6L429.4,357.4L429.5,349.9L429.6,340.2L429.7,325.9L429.8,311.9L429.9,296.5L430.0,283.2L430.1,273.8L430.2,270.3L430.3,275.0L430.4,284.5L430.5,300.7L430.6,315.0L430.7,330.4L430.8,342.6L430.9,353.2L431.0,358.6L431.1,360.5L431.2,362.1L431.3,364.4L431.4,364.6L431.5,366.0L431.6,366.3L431.7,366.7L431.8,365.4L431.9,366.1L432.0,366.7L432.1,366.9L432.2,366.2L432.3,366.5L432.4,367.6L432.5,365.4L432.6,366.7L432.7,367.0L432.8,365.7L432.9,366.2L432.9,367.2L433.0,366.6L433.1,368.1L433.2,367.7L433.3,369.1L433.4,366.1L433.5,368.8L433.6,366.6L433.7,367.9L433.8,368.0L433.9,367.3L434.0,366.9L434.1,366.5L434.2,365.5L434.3,366.7L434.4,366.2L434.5,367.5L434.6,366.3L434.7,366.7L434.8,367.2L434.9,366.8L435.0,366.7L435.1,366.4L435.2,366.1L435.3,366.8L435.4,366.9L435.5,365.4L435.6,367.4L435.7,366.3L435.8,364.2L435.9,367.6L436.0,365.6L436.1,364.1L436.2,365.7L436.3,361.6L436.4,365.5L436.5,361.2L436.6,359.7L436.7,357.9L436.8,354.7L436.9,346.8L437.0,335.5L437.1,314.8L437.2,288.9L437.3,252.4L437.4,225.0L437.5,225.0L437.6,225.0L437.7,225.0L437.8,225.0L437.9,225.0L438.0,225.0L438.1,225.0L438.2,234.5L438.3,273.9L438.4,305.1L438.5,327.3L438.6,343.2L438.7,351.1L438.8,358.0L438.9,359.6L439.0,362.2L439.1,362.5L439.2,364.3L439.3,364.8L439.4,365.8L439.5,364.7L439.6,364.7L439.7,364.0L439.8,364.9L439.9,366.0L440.0,366.6L440.1,366.3L440.2,366.8L440.3,365.7L440.4,366.2L440.5,367.9L440.6,367.8L440.7,366.2L440.8,367.2L440.9,367.7L441.0,366.6L441.1,368.0L441.2,368.0L441.3,368.2L441.4,369.5L441.5,367.2L441.6,369.0L441.7,368.5L441.8,368.7L441.9,367.5L442.0,368.2L442.1,368.1L442.2,369.6L442.3,368.3L442.4,369.5L442.5,368.0L442.6,368.0L442.7,368.4L442.8,366.7L442.9,367.9L443.0,367.9L443.1,368.3L443.2,368.6L443.3,367.7L443.4,367.6L443.5,369.6L443.6,367.7L443.7,368.1L443.8,367.8L443.9,368.2L444.0,369.7L444.1,369.6L444.2,367.1L444.3,368.5L444.4,369.9L444.5,368.4L444.6,369.0L444.7,370.3L444.8,370.7L444.9,370.1L445.0,368.5L445.1,368.8L445.2,369.0L445.3,368.6L445.4,368.3L445.5,370.6L445.6,369.1L445.7,369.6L445.8,369.9L445.9,369.3L446.0,369.0L446.1,369.1L446.2,370.1L446.3,369.3L446.4,367.3L446.5,369.8L446.6,370.4L446.7,368.8L446.8,368.5L446.9,368.6L447.0,369.9L447.1,368.2L447.2,369.7L447.3,370.0L447.4,369.6L447.5,369.2L447.6,368.5L447.7,368.6L447.8,369.1L447.9,368.3L448.0,369.0L448.1,368.4L448.2,370.3L448.3,370.4L448.4,368.5L448.5,370.3L448.6,369.4L448.7,369.3L448.8,369.6L448.9,369.6L449.0,368.1L449.1,371.3L449.2,368.5L449.3,367.4L449.4,369.2L449.5,369.3L449.6,368.7L449.7,367.8L449.8,370.2L449.9,369.2L450.0,369.4L450.1,368.8L450.2,369.2L450.3,368.8L450.4,369.6L450.5,369.3L450.6,369.9L450.7,369.9L450.8,369.4L450.9,369.4L451.0,370.3L451.1,368.0L451.2,369.4L451.3,370.4L451.4,368.4L451.5,369.9L451.6,368.9L451.7,369.3L451.8,369.1L451.9,369.2L452.0,369.8L452.1,369.3L452.2,367.7L452.3,371.2L452.4,369.3L452.5,369.0L452.6,370.2L452.7,370.5L452.8,367.6L452.9,369.6L453.0,367.7L453.1,368.9L453.2,369.3L453.3,369.0L453.4,368.8L453.5,368.4L453.6,369.0L453.7,369.2L453.8,369.2L453.9,368.3L454.0,368.7L454.1,370.2L454.2,369.9L454.3,369.1L454.4,369.9L454.5,369.7L454.6,370.1L454.7,369.6L454.8,369.0L454.9,368.6L455.0,369.4L455.1,367.7L455.2,369.4L455.3,366.8L455.4,368.6L455.5,369.0L455.6,369.8L455.7,371.6L455.8,369.5L455.9,369.2L456.0,367.9L456.1,370.5L456.2,367.9L456.3,369.6L456.4,368.8L456.5,371.4L456.6,369.3L456.7,369.7L456.8,368.9L456.9,369.3L457.0,370.3L457.1,368.6L457.2,368.8L457.3,368.9L457.4,368.6L457.5,368.5L457.6,369.4L457.7,370.5L457.8,370.5L457.9,368.3L458.0,368.8L458.1,369.3L458.2,369.8L458.3,369.4L458.4,369.4L458.5,369.7L458.6,370.0L458.7,367.7L458.8,369.2L458.9,369.9L459.0,370.4L459.1,370.0L459.2,368.9L459.3,368.8L459.4,369.6L459.5,369.4L459.6,369.7L459.7,370.3L459.8,368.4L459.9,369.1L460.0,367.5L460.1,370.0L460.2,369.5L460.3,368.7L460.4,369.6L460.5,370.5L460.6,370.2L460.7,369.4L460.8,369.2L460.9,369.5L461.0,368.7L461.1,368.7L461.2,369.2L461.3,369.4L461.4,369.6L461.5,369.0L461.6,368.7L461.7,369.4L461.8,369.1L461.9,369.7L462.0,370.5L462.1,370.2L462.2,368.9L462.3,369.1L462.4,368.2L462.5,369.4L462.6,368.8L462.7,368.4L462.8,368.7L462.8,369.9L462.9,369.6L463.0,369.4L463.1,370.2L463.2,369.1L463.3,368.7L463.4,369.8L463.5,367.9L463.6,369.7L463.7,369.6L463.8,369.6L463.9,370.0L464.0,369.1L464.1,369.4L464.2,368.2L464.3,369.0L464.4,369.1L464.5,369.6L464.6,370.6L464.7,369.5L464.8,370.1L464.9,368.7L465.0,369.5L465.1,368.2L465.2,368.9L465.3,368.8L465.4,369.3L465.5,369.3L465.6,369.0L465.7,368.8L465.8,370.0L465.9,369.1L466.0,367.5L466.1,369.5L466.2,369.7L466.3,370.0L466.4,370.6L466.5,368.6L466.6,369.4L466.7,369.3L466.8,368.1L466.9,367.6L467.0,370.2L467.1,368.7L467.2,369.0L467.3,369.2L467.4,369.1L467.5,369.5L467.6,368.3L467.7,369.0L467.8,369.2L467.9,368.5L468.0,368.8L468.1,369.1L468.2,369.2L468.3,368.2L468.4,369.1L468.5,369.6L468.6,370.1L468.7,369.8L468.8,370.3L468.9,369.4L469.0,369.3L469.1,371.0L469.2,369.5L469.3,369.0L469.4,369.4L469.5,370.2L469.6,368.5L469.7,370.0L469.8,370.4L469.9,370.3L470.0,369.5L470.1,368.8L470.2,368.6L470.3,369.3L470.4,370.4L470.5,370.0L470.6,370.2L470.7,369.6L470.8,370.8L470.9,369.4L471.0,369.0L471.1,369.6L471.2,369.2L471.3,370.2L471.4,370.6L471.5,370.0L471.6,368.6L471.7,368.7L471.8,369.9L471.9,368.6L472.0,369.8L472.1,368.4L472.2,369.2L472.3,369.9L472.4,368.9L472.5,370.1L472.6,370.2L472.7,370.6L472.8,369.3L472.9,369.6L473.0,369.6L473.1,369.8L473.2,368.5L473.3,369.8L473.4,370.1L473.5,368.6L473.6,368.5L473.7,369.3L473.8,370.8L473.9,370.0L474.0,369.1L474.1,369.5L474.2,368.4L474.3,370.5L474.4,369.0L474.5,370.0L474.6,368.6L474.7,369.6L474.8,368.8L474.9,370.0L475.0,370.6L475.1,370.4L475.2,370.0L475.3,370.3L475.4,368.6L475.5,368.5L475.6,369.3L475.7,370.3L475.8,369.6L475.9,370.0L476.0,368.5L476.1,369.3L476.2,369.2L476.3,369.8L476.4,371.0L476.5,370.1L476.6,370.4L476.7,369.3L476.8,369.5L476.9,370.1L477.0,369.8L477.1,368.4L477.2,370.2L477.3,370.2L477.4,369.7L477.5,370.0L477.6,369.8L477.7,369.1L477.8,368.3L477.9,370.8L478.0,369.5L478.1,369.5L478.2,369.6L478.3,369.7L478.4,369.8L478.5,368.8L478.6,369.9L478.7,369.6L478.8,369.5L478.9,369.5L479.0,369.7L479.1,368.8L479.2,369.5L479.3,369.4L479.4,369.6L479.5,370.3L479.6,370.1L479.7,370.3L479.8,369.4L479.9,370.0L480.0,370.3L480.1,369.3L480.2,369.1L480.3,370.8L480.4,368.3L480.5,369.5L480.6,369.6L480.7,368.7L480.8,369.4L480.9,369.9L481.0,367.9L481.1,370.3L481.2,369.6L481.3,368.9L481.4,370.2L481.5,369.5L481.6,369.2L481.7,367.7L481.8,370.1L481.9,369.5L482.0,369.0L482.1,369.4L482.2,370.3L482.3,369.1L482.4,369.3L482.5,369.0L482.6,368.5L482.7,368.6L482.8,369.0L482.9,369.1L483.0,370.0L483.1,369.3L483.2,369.0L483.3,369.4L483.4,369.0L483.5,369.6L483.6,367.9L483.7,367.4L483.8,369.1L483.9,368.3L484.0,368.5L484.1,367.0L484.2,366.7L484.3,365.5L484.4,363.3L484.5,359.4L484.6,355.2L484.7,347.8L484.8,341.9L484.9,334.4L485.0,329.6L485.1,326.4L485.2,327.8L485.3,330.6L485.4,337.7L485.5,343.5L485.6,350.8L485.7,356.3L485.8,360.9L485.9,363.5L486.0,367.6L486.1,367.2L486.2,369.2L486.3,367.6L486.4,370.1L486.5,369.6L486.6,370.1L486.7,367.9L486.8,370.0L486.9,369.1L487.0,369.6L487.1,370.5L487.2,369.5L487.3,368.9L487.4,369.5L487.5,368.7L487.6,369.7L487.7,369.4L487.8,369.7L487.9,369.2L488.0,368.2L488.1,369.2L488.2,369.4L488.3,369.9L488.4,370.1L488.5,368.5L488.6,370.3L488.7,370.2L488.8,369.6L488.9,369.9L489.0,368.2L489.1,371.2L489.2,369.3L489.3,369.1L489.4,370.4L489.5,370.1L489.6,369.3L489.7,368.5L489.8,370.3L489.9,370.7L490.0,369.0L490.1,368.6L490.2,369.9L490.3,371.2L490.4,368.7L490.5,369.8L490.6,368.9L490.7,369.7L490.8,369.9L490.9,370.0L491.0,368.7L491.1,368.7L491.2,371.2L491.3,370.3L491.4,368.5L491.5,369.9L491.6,370.6L491.7,369.7L491.8,369.8L491.9,369.8L492.0,370.0L492.1,369.9L492.2,370.0L492.3,369.5L492.4,370.3L492.5,369.9L492.6,369.8L492.7,368.8L492.7,369.5L492.8,369.8L492.9,369.4L493.0,369.5L493.1,369.0L493.2,369.4L493.3,368.5L493.4,368.8L493.5,369.8L493.6,370.0L493.7,369.1L493.8,369.4L493.9,369.8L494.0,370.8L494.1,371.0L494.2,369.5L494.3,369.2L494.4,369.2L494.5,370.6L494.6,369.1L494.7,370.1L494.8,369.5L494.9,369.5L495.0,370.3L495.1,370.2L495.2,371.2L495.3,370.4L495.4,371.0L495.5,369.5L495.6,369.7L495.7,369.2L495.8,369.5L495.9,370.2L496.0,369.6L496.1,370.1L496.2,369.4L496.3,369.6L496.4,370.5L496.5,369.8L496.6,369.8L496.7,370.0L496.8,369.2L496.9,368.7L497.0,370.1L497.1,370.0L497.2,371.3L497.3,369.9L497.4,370.1L497.5,371.3L497.6,369.6L497.7,369.4L497.8,370.3L497.9,370.1L498.0,370.5L498.1,369.3L498.2,370.8L498.3,370.0L498.4,368.5L498.5,369.8L498.6,369.5L498.7,369.9L498.8,370.6L498.9,369.9L499.0,369.6L499.1,370.5L499.2,369.6L499.3,369.0L499.4,369.1L499.5,370.9L499.6,370.5L499.7,370.9L499.8,369.1L499.9,369.4L500.0,369.4L500.1,370.4L500.2,370.6L500.3,369.8L500.4,369.8L500.5,370.4L500.6,369.8L500.7,369.4L500.8,369.7L500.9,370.5L501.0,371.2L501.1,370.0L501.2,369.8L501.3,370.0L501.4,370.1L501.5,370.3L501.6,369.4L501.7,369.9L501.8,369.8L501.9,370.5L502.0,370.3L502.1,369.8L502.2,370.5L502.3,370.7L502.4,370.1L502.5,369.1L502.6,369.8L502.7,368.9L502.8,370.0L502.9,370.1L503.0,370.8L503.1,370.3L503.2,369.0L503.3,369.7L503.4,369.4L503.5,369.4L503.6,369.9L503.7,370.0L503.8,369.8L503.9,369.5L504.0,369.6L504.1,369.6L504.2,369.8L504.3,370.4L504.4,370.1L504.5,370.5L504.6,369.3L504.7,371.3L504.8,370.1L504.9,368.4L505.0,370.1L505.1,370.6L505.2,369.9L505.3,369.1L505.4,370.0L505.5,369.5L505.6,369.9L505.7,370.2L505.8,367.9L505.9,369.9L506.0,370.3L506.1,370.2L506.2,369.7L506.3,369.7L506.4,369.4L506.5,369.8L506.6,370.9L506.7,369.6L506.8,370.1L506.9,370.1L507.0,370.9L507.1,370.3L507.2,370.4L507.3,370.0L507.4,370.9L507.5,369.9L507.6,369.9L507.7,370.7L507.8,370.3L507.9,370.5L508.0,369.4L508.1,371.6L508.2,370.2L508.3,371.0L508.4,370.2L508.5,369.4L508.6,370.4L508.7,369.9L508.8,370.5L508.9,368.7L509.0,369.4L509.1,369.3L509.2,370.8L509.3,370.7L509.4,369.3L509.5,370.1L509.6,370.1L509.7,369.8L509.8,370.8L509.9,369.5L510.0,370.0L510.1,369.7L510.2,370.4L510.3,369.7L510.4,370.5L510.5,369.4L510.6,369.3L510.7,369.5L510.8,369.7L510.9,369.7L511.0,371.8L511.1,369.6L511.2,370.3L511.3,370.0L511.4,370.3L511.5,371.0L511.6,370.5L511.7,369.7L511.8,369.3L511.9,370.5L512.0,370.7L512.1,369.3L512.2,370.7L512.3,368.9L512.4,370.2L512.5,370.7L512.6,369.6L512.7,369.2L512.8,371.1L512.9,369.3L513.0,370.4L513.1,369.3L513.2,370.5L513.3,371.2L513.4,370.0L513.5,369.7L513.6,369.0L513.7,369.2L513.8,369.9L513.9,370.5L514.0,370.6L514.1,370.5L514.2,370.9L514.3,370.5L514.4,371.9L514.5,370.3L514.6,370.4L514.7,368.8L514.8,369.9L514.9,370.7L515.0,370.1L515.1,371.2L515.2,370.8L515.3,371.6L515.4,369.6L515.5,370.1L515.6,371.2L515.7,370.5L515.8,369.9L515.9,370.2L516.0,370.3L516.1,371.0L516.2,370.9L516.3,370.5L516.4,370.0L516.5,371.0L516.6,371.2L516.7,369.9L516.8,371.1L516.9,369.9L517.0,370.4L517.1,370.0L517.2,369.5L517.3,370.2L517.4,370.1L517.5,371.2L517.6,371.0L517.7,370.2L517.8,369.7L517.9,369.8L518.0,369.2L518.1,370.5L518.2,370.5L518.3,370.0L518.4,370.6L518.5,370.7L518.6,371.3L518.7,370.1L518.8,371.3L518.9,370.4L519.0,371.5L519.1,370.0L519.2,371.3L519.3,370.2L519.4,371.6L519.5,371.0L519.6,370.0L519.7,371.2L519.8,370.7L519.9,371.0L520.0,372.1L520.1,370.5L520.2,370.4L520.3,371.3L520.4,370.3L520.5,371.1L520.6,371.2L520.7,370.6L520.8,371.0L520.9,369.2L521.0,371.5L521.1,370.1L521.2,369.9L521.3,371.6L521.4,371.4L521.5,370.0L521.6,370.6L521.7,369.9L521.8,369.4L521.9,370.0L522.0,370.1L522.1,370.4L522.2,367.4L522.3,366.0L522.4,362.0L522.5,357.4L522.6,352.1L522.6,343.0L522.7,335.8L522.8,329.3L522.9,326.2L523.0,324.6L523.1,326.9L523.2,332.1L523.3,339.5L523.4,346.2L523.5,353.4L523.6,359.1L523.7,363.8L523.8,365.6L523.9,368.0L524.0,370.8L524.1,370.2L524.2,370.2L524.3,369.8L524.4,370.6L524.5,370.7L524.6,371.0L524.7,370.3L524.8,371.1L524.9,371.2L525.0,371.3L525.1,370.6L525.2,371.3L525.3,372.0L525.4,370.7L525.5,371.5L525.6,370.9L525.7,370.9L525.8,370.5L525.9,370.6L526.0,371.6L526.1,371.3L526.2,372.0L526.3,370.3L526.4,371.1L526.5,370.5L526.6,371.5L526.7,372.5L526.8,370.5L526.9,371.3L527.0,371.3L527.1,371.4L527.2,371.1L527.3,371.2L527.4,372.4L527.5,370.9L527.6,371.8L527.7,371.8L527.8,370.5L527.9,371.0L528.0,371.7L528.1,372.6L528.2,371.5L528.3,371.3L528.4,371.6L528.5,372.3L528.6,372.1L528.7,372.3L528.8,371.5L528.9,371.2L529.0,371.1L529.1,372.1L529.2,371.6L529.3,371.4L529.4,372.0L529.5,371.8L529.6,370.5L529.7,371.6L529.8,371.2L529.9,372.0L530.0,371.7L530.1,372.7L530.2,371.8L530.3,371.1L530.4,370.6L530.5,371.1L530.6,371.4L530.7,371.8L530.8,372.2L530.9,371.9L531.0,371.5L531.1,372.3L531.2,371.4L531.3,372.4L531.4,372.9L531.5,372.5L531.6,372.9L531.7,372.7L531.8,371.3L531.9,372.1L532.0,371.8L532.1,371.3L532.2,371.3L532.3,372.3L532.4,371.3L532.5,371.8L532.6,372.0L532.7,371.8L532.8,372.8L532.9,372.5L533.0,372.1L533.1,371.7L533.2,372.3L533.3,372.2L533.4,371.6L533.5,371.3L533.6,371.7L533.7,371.4L533.8,372.4L533.9,372.3L534.0,372.0L534.1,372.3L534.2,372.5L534.3,371.3L534.4,372.3L534.5,372.7L534.6,371.9L534.7,371.2L534.8,372.2L534.9,371.6L535.0,372.5L535.1,372.5L535.2,372.6L535.3,372.4L535.4,371.3L535.5,372.9L535.6,371.4L535.7,372.9L535.8,372.4L535.9,371.9L536.0,372.0L536.1,372.2L536.2,373.3L536.3,372.2L536.4,372.9L536.5,371.0L536.6,372.5L536.7,372.3L536.8,373.0L536.9,372.7L537.0,373.1L537.1,371.9L537.2,372.6L537.3,372.2L537.4,372.8L537.5,372.7L537.6,371.8" fill="none" stroke="#3c3c3c" stroke-width="0.5" stroke-linejoin="round" /><path d="M328.3,321.1L328.4,322.1L328.5,319.4L328.6,321.3L328.7,320.5L328.8,318.9L328.9,321.0L329.0,318.9L329.1,320.8L329.2,318.2L329.3,318.4L329.4,320.6L329.5,320.3L329.6,321.1L329.7,319.8L329.8,318.7L329.9,321.8L330.0,319.0L330.1,321.7L330.2,321.2L330.3,322.3L330.4,317.7L330.5,320.1L330.6,319.9L330.7,321.0L330.8,318.9L330.9,322.7L331.0,320.2L331.1,317.6L331.2,320.7L331.3,320.3L331.4,319.5L331.5,321.3L331.6,320.3L331.7,319.2L331.8,320.1L331.9,319.9L332.0,320.8L332.1,320.0L332.2,320.3L332.3,318.7L332.4,319.6L332.5,320.7L332.6,323.4L332.7,319.6L332.8,319.6L332.9,321.6L333.0,322.9L333.1,321.9L333.2,319.4L333.3,321.8L333.4,321.1L333.5,320.3L333.6,319.1L333.7,320.6L333.8,320.7L333.9,321.3L334.0,318.7L334.1,319.4L334.2,320.8L334.3,322.3L334.4,321.6L334.5,320.0L334.6,321.6L334.7,319.7L334.8,320.3L334.9,320.4L335.0,320.0L335.1,320.2L335.2,321.8L335.3,321.2L335.4,318.0L335.5,322.2L335.6,321.4L335.7,319.6L335.8,321.0L335.9,321.8L336.0,322.4L336.1,320.3L336.2,319.7L336.3,319.3L336.4,320.9L336.5,319.7L336.6,322.2L336.7,320.8L336.8,321.8L336.9,320.8L337.0,320.1L337.1,319.8L337.2,322.2L337.3,319.5L337.4,321.6L337.5,322.3L337.6,321.3L337.7,322.8L337.8,321.1L337.9,320.8L338.0,321.3L338.1,320.5L338.2,321.5L338.3,321.1L338.4,322.8L338.5,321.1L338.6,322.2L338.7,321.7L338.8,321.3L338.9,321.0L339.0,323.1L339.1,323.0L339.2,321.6L339.3,320.7L339.4,320.8L339.5,320.2L339.6,319.7L339.7,320.7L339.8,321.3L339.9,322.4L340.0,322.3L340.1,321.7L340.2,320.8L340.3,320.8L340.4,320.8L340.5,320.7L340.6,319.4L340.7,319.3L340.8,318.4L340.9,317.4L341.0,317.4L341.1,317.0L341.2,314.5L341.3,314.2L341.4,315.1L341.5,316.0L341.6,313.8L341.7,318.4L341.8,318.7L341.9,319.1L342.0,321.4L342.1,320.5L342.2,318.9L342.3,320.1L342.4,320.6L342.5,320.8L342.6,321.4L342.7,320.5L342.8,321.8L342.9,322.1L343.0,321.6L343.1,320.6L343.2,321.3L343.2,320.9L343.3,324.1L343.4,320.4L343.5,319.1L343.6,320.2L343.7,322.1L343.8,322.8L343.9,321.5L344.0,322.9L344.1,321.0L344.2,322.4L344.3,320.7L344.4,320.3L344.5,324.2L344.6,321.5L344.7,322.6L344.8,323.5L344.9,322.6L345.0,322.1L345.1,320.7L345.2,323.6L345.3,320.7L345.4,319.6L345.5,321.2L345.6,321.3L345.7,321.9L345.8,323.3L345.9,321.3L346.0,321.5L346.1,321.1L346.2,319.0L346.3,321.1L346.4,321.5L346.5,320.2L346.6,323.5L346.7,323.3L346.8,322.4L346.9,322.7L347.0,321.2L347.1,322.3L347.2,320.0L347.3,320.3L347.4,321.1L347.5,322.4L347.6,321.3L347.7,321.1L347.8,323.2L347.9,321.6L348.0,321.2L348.1,321.8L348.2,320.2L348.3,320.7L348.4,323.0L348.5,321.9L348.6,323.0L348.7,321.4L348.8,323.0L348.9,321.0L349.0,321.6L349.1,321.0L349.2,322.2L349.3,323.7L349.4,320.1L349.5,322.3L349.6,320.5L349.7,321.6L349.8,321.3L349.9,320.0L350.0,321.7L350.1,320.5L350.2,323.8L350.3,321.1L350.4,322.4L350.5,322.3L350.6,322.1L350.7,321.8L350.8,320.3L350.9,324.3L351.0,322.1L351.1,323.0L351.2,320.9L351.3,322.7L351.4,321.7L351.5,322.6L351.6,321.4L351.7,321.1L351.8,322.7L351.9,322.2L352.0,323.8L352.1,321.9L352.2,321.3L352.3,322.9L352.4,321.0L352.5,324.6L352.6,324.3L352.7,323.8L352.8,322.8L352.9,322.2L353.0,322.3L353.1,322.3L353.2,321.5L353.3,322.8L353.4,323.7L353.5,323.7L353.6,319.9L353.7,324.9L353.8,322.5L353.9,320.7L354.0,321.8L354.1,323.2L354.2,322.3L354.3,321.4L354.4,321.0L354.5,323.3L354.6,321.5L354.7,322.1L354.8,321.1L354.9,320.8L355.0,322.7L355.1,324.0L355.2,321.9L355.3,320.4L355.4,321.6L355.5,322.1L355.6,319.7L355.7,323.5L355.8,321.4L355.9,323.0L356.0,322.3L356.1,322.3L356.2,320.7L356.3,323.5L356.4,323.0L356.5,324.2L356.6,321.9L356.7,322.9L356.8,322.0L356.9,323.6L357.0,322.8L357.1,321.3L357.2,322.7L357.3,321.8L357.4,321.9L357.5,322.9L357.6,324.2L357.7,321.4L357.8,322.3L357.9,321.4L358.0,324.7L358.1,324.3L358.2,324.9L358.3,323.5L358.4,321.4L358.5,321.9L358.6,322.6L358.7,322.4L358.8,321.7L358.9,322.9L359.0,322.1L359.1,322.4L359.2,325.0L359.3,323.0L359.4,321.1L359.5,323.0L359.6,322.7L359.7,323.2L359.8,323.1L359.9,321.3L360.0,322.9L360.1,323.7L360.2,326.0L360.3,323.2L360.4,324.8L360.5,324.6L360.6,321.7L360.7,321.8L360.8,324.7L360.9,321.7L361.0,322.1L361.1,323.5L361.2,321.8L361.3,324.4L361.4,323.9L361.5,324.2L361.6,323.9L361.7,321.7L361.8,324.1L361.9,323.9L362.0,323.7L362.1,322.4L362.2,323.0L362.3,321.7L362.4,323.4L362.5,324.1L362.6,323.2L362.7,322.6L362.8,323.7L362.9,322.4L363.0,320.7L363.1,323.3L363.2,322.6L363.3,321.2L363.4,323.4L363.5,323.6L363.6,323.9L363.7,322.3L363.8,322.2L363.9,322.9L364.0,322.7L364.1,321.3L364.2,321.8L364.3,324.3L364.4,322.7L364.5,322.6L364.6,322.0L364.7,323.0L364.8,323.5L364.9,323.3L365.0,324.7L365.1,322.8L365.2,323.4L365.3,322.3L365.4,323.9L365.5,323.2L365.6,323.8L365.7,323.9L365.8,322.0L365.9,323.3L366.0,322.3L366.1,324.0L366.2,322.7L366.3,324.6L366.4,323.3L366.5,323.4L366.6,322.2L366.7,322.6L366.8,323.0L366.9,321.9L367.0,322.6L367.1,322.3L367.2,322.0L367.3,322.9L367.4,323.2L367.5,322.5L367.6,323.3L367.7,322.4L367.8,321.7L367.9,321.9L368.0,323.3L368.1,324.2L368.2,322.9L368.3,323.0L368.4,321.7L368.5,323.3L368.6,323.1L368.7,322.1L368.8,323.4L368.9,323.1L369.0,321.1L369.1,321.3L369.2,322.2L369.3,322.6L369.4,323.9L369.5,322.3L369.6,322.8L369.7,322.7L369.8,323.5L369.9,322.9L370.0,323.1L370.1,322.6L370.2,321.4L370.3,322.5L370.4,324.7L370.5,324.0L370.6,324.6L370.7,323.8L370.8,322.3L370.9,322.5L371.0,323.6L371.1,322.7L371.2,323.8L371.3,324.5L371.4,324.5L371.5,323.9L371.6,321.5L371.7,324.4L371.8,321.7L371.9,321.6L372.0,323.2L372.1,323.0L372.2,323.6L372.3,323.0L372.4,322.3L372.5,323.0L372.6,321.9L372.7,321.7L372.8,322.6L372.9,322.7L373.0,323.1L373.1,322.6L373.1,324.2L373.2,322.6L373.3,322.8L373.4,323.9L373.5,320.8L373.6,324.1L373.7,323.9L373.8,322.7L373.9,325.1L374.0,323.9L374.1,324.7L374.2,324.1L374.3,323.2L374.4,322.7L374.5,321.9L374.6,322.2L374.7,321.8L374.8,322.5L374.9,323.6L375.0,321.9L375.1,323.6L375.2,323.7L375.3,321.5L375.4,322.3L375.5,322.9L375.6,322.3L375.7,322.2L375.8,324.5L375.9,323.2L376.0,324.4L376.1,323.0L376.2,323.8L376.3,321.7L376.4,322.6L376.5,324.0L376.6,323.2L376.7,324.4L376.8,323.1L376.9,322.6L377.0,322.9L377.1,325.2L377.2,323.5L377.3,322.7L377.4,322.9L377.5,322.0L377.6,324.5L377.7,322.7L377.8,323.9L377.9,323.0L378.0,322.8L378.1,322.5L378.2,323.8L378.3,323.0L378.4,324.4L378.5,324.7L378.6,322.7L378.7,323.3L378.8,324.9L378.9,324.1L379.0,323.2L379.1,321.6L379.2,322.2L379.3,322.4L379.4,325.1L379.5,323.4L379.6,322.8L379.7,322.9L379.8,322.9L379.9,323.5L380.0,321.5L380.1,321.8L380.2,323.4L380.3,324.3L380.4,321.2L380.5,323.9L380.6,322.1L380.7,321.4L380.8,324.3L380.9,323.0L381.0,323.7L381.1,322.8L381.2,323.0L381.3,321.3L381.4,322.7L381.5,323.4L381.6,322.2L381.7,323.6L381.8,323.7L381.9,321.1L382.0,324.2L382.1,323.9L382.2,323.3L382.3,324.5L382.4,325.6L382.5,322.3L382.6,324.2L382.7,324.0L382.8,323.8L382.9,324.4L383.0,324.5L383.1,323.3L383.2,321.0L383.3,322.7L383.4,322.7L383.5,325.0L383.6,323.5L383.7,324.7L383.8,322.7L383.9,323.7L384.0,323.4L384.1,323.6L384.2,324.1L384.3,325.0L384.4,322.9L384.5,324.9L384.6,324.7L384.7,323.8L384.8,324.2L384.9,323.2L385.0,322.5L385.1,323.3L385.2,323.3L385.3,323.5L385.4,322.6L385.5,325.4L385.6,323.2L385.7,324.5L385.8,324.8L385.9,323.5L386.0,323.9L386.1,323.0L386.2,322.4L386.3,325.9L386.4,323.6L386.5,321.6L386.6,322.7L386.7,322.1L386.8,323.5L386.9,325.0L387.0,324.7L387.1,322.9L387.2,322.6L387.3,324.3L387.4,323.9L387.5,323.3L387.6,325.4L387.7,324.0L387.8,322.0L387.9,321.4L388.0,323.7L388.1,321.8L388.2,324.2L388.3,324.5L388.4,325.9L388.5,322.7L388.6,324.0L388.7,321.3L388.8,323.3L388.9,323.5L389.0,325.5L389.1,322.2L389.2,324.0L389.3,323.8L389.4,325.9L389.5,322.8L389.6,322.7L389.7,324.3L389.8,323.6L389.9,323.3L390.0,322.7L390.1,323.6L390.2,322.0L390.3,324.0L390.4,324.3L390.5,324.2L390.6,326.3L390.7,324.5L390.8,322.7L390.9,323.5L391.0,324.6L391.1,323.4L391.2,325.8L391.3,324.0L391.4,323.2L391.5,323.1L391.6,324.5L391.7,322.9L391.8,321.9L391.9,324.2L392.0,323.0L392.1,325.3L392.2,325.8L392.3,323.2L392.4,323.8L392.5,323.6L392.6,324.4L392.7,324.1L392.8,323.0L392.9,322.1L393.0,324.0L393.1,325.5L393.2,322.6L393.3,323.2L393.4,323.2L393.5,323.7L393.6,321.5L393.7,323.8L393.8,323.3L393.9,325.7L394.0,324.4L394.1,324.5L394.2,323.9L394.3,323.5L394.4,324.6L394.5,322.2L394.6,324.9L394.7,324.3L394.8,323.7L394.9,325.1L395.0,323.3L395.1,323.3L395.2,324.2L395.3,322.0L395.4,323.8L395.5,323.6L395.6,324.9L395.7,325.6L395.8,324.6L395.9,324.3L396.0,324.4L396.1,323.2L396.2,326.3L396.3,325.1L396.4,325.8L396.5,322.6L396.6,324.5L396.7,324.5L396.8,325.1L396.9,323.1L397.0,324.4L397.1,323.8L397.2,326.0L397.3,322.8L397.4,323.6L397.5,323.5L397.6,322.8L397.7,324.2L397.8,324.2L397.9,323.3L398.0,323.6L398.1,324.3L398.2,324.0L398.3,324.5L398.4,323.3L398.5,323.1L398.6,324.0L398.7,322.2L398.8,325.6L398.9,324.3L399.0,322.4L399.1,324.5L399.2,325.6L399.3,322.7L399.4,323.5L399.5,325.2L399.6,323.3L399.7,325.1L399.8,325.4L399.9,324.2L400.0,324.6L400.1,325.2L400.2,324.5L400.3,325.1L400.4,324.0L400.5,324.1L400.6,323.4L400.7,324.6L400.8,325.4L400.9,325.4L401.0,324.4L401.1,322.6L401.2,323.3L401.3,324.8L401.4,323.2L401.5,325.3L401.6,323.2L401.7,324.5L401.8,323.4L401.9,323.6L402.0,324.4L402.1,323.8L402.2,325.2L402.3,324.2L402.4,323.1L402.5,320.2L402.6,323.5L402.7,324.1L402.8,325.2L402.9,323.2L403.0,325.8L403.0,325.0L403.1,323.9L403.2,325.4L403.3,322.7L403.4,323.2L403.5,324.8L403.6,324.8L403.7,325.5L403.8,325.6L403.9,323.8L404.0,323.6L404.1,323.9L404.2,324.0L404.3,324.8L404.4,323.9L404.5,325.7L404.6,324.2L404.7,322.8L404.8,323.0L404.9,324.7L405.0,324.6L405.1,322.9L405.2,322.6L405.3,325.7L405.4,324.7L405.5,324.1L405.6,323.1L405.7,325.1L405.8,323.7L405.9,324.6L406.0,322.0L406.1,323.9L406.2,324.4L406.3,324.6L406.4,323.3L406.5,323.7L406.6,325.3L406.7,324.1L406.8,325.6L406.9,325.0L407.0,325.6L407.1,325.6L407.2,325.0L407.3,325.3L407.4,323.8L407.5,323.6L407.6,324.6L407.7,325.4L407.8,323.6L407.9,326.3L408.0,326.2L408.1,323.6L408.2,323.7L408.3,323.4L408.4,324.5L408.5,325.5L408.6,324.8L408.7,323.8L408.8,325.1L408.9,325.0L409.0,325.7L409.1,325.4L409.2,323.5L409.3,323.9L409.4,325.4L409.5,325.4L409.6,324.9L409.7,323.8L409.8,325.4L409.9,324.5L410.0,326.4L410.1,325.5L410.2,323.9L410.3,323.5L410.4,325.4L410.5,325.1L410.6,323.6L410.7,324.7L410.8,324.8L410.9,323.8L411.0,324.1L411.1,323.3L411.2,323.6L411.3,324.9L411.4,324.4L411.5,324.4L411.6,325.6L411.7,325.2L411.8,323.4L411.9,325.8L412.0,323.4L412.1,324.0L412.2,324.4L412.3,323.8L412.4,323.8L412.5,323.1L412.6,324.6L412.7,324.5L412.8,324.5L412.9,322.5L413.0,323.3L413.1,325.1L413.2,324.5L413.3,324.9L413.4,324.2L413.5,324.0L413.6,322.0L413.7,325.8L413.8,323.2L413.9,323.7L414.0,324.7L414.1,324.2L414.2,324.5L414.3,324.0L414.4,323.1L414.5,325.4L414.6,322.7L414.7,324.3L414.8,322.5L414.9,323.5L415.0,322.7L415.1,323.3L415.2,322.7L415.3,323.6L415.4,324.4L415.5,323.0L415.6,322.9L415.7,321.5L415.8,325.3L415.9,323.5L416.0,322.3L416.1,324.3L416.2,323.3L416.3,321.0L416.4,321.5L416.5,323.5L416.6,321.2L416.7,321.3L416.8,321.5L416.9,321.6L417.0,321.5L417.1,322.3L417.2,321.6L417.3,320.1L417.4,320.3L417.5,318.2L417.6,319.6L417.7,320.8L417.8,317.8L417.9,315.4L418.0,312.2L418.1,307.0L418.2,298.1L418.3,279.9L418.4,257.2L418.5,225.0L418.6,225.0L418.7,225.0L418.8,225.0L418.9,225.0L419.0,225.0L419.1,225.0L419.2,225.0L419.3,225.0L419.4,225.0L419.5,225.0L419.6,225.0L419.7,253.2L419.8,279.0L419.9,296.8L420.0,306.8L420.1,311.5L420.2,314.9L420.3,317.3L420.4,319.1L420.5,318.7L420.6,321.5L420.7,320.7L420.8,321.0L420.9,321.9L421.0,321.3L421.1,322.4L421.2,322.7L421.3,320.6L421.4,321.7L421.5,321.5L421.6,322.7L421.7,322.0L421.8,322.3L421.9,322.0L422.0,321.1L422.1,323.5L422.2,323.2L422.3,323.5L422.4,326.7L422.5,324.9L422.6,323.7L422.7,323.2L422.8,324.3L422.9,322.8L423.0,322.7L423.1,324.3L423.2,322.7L423.3,322.4L423.4,323.6L423.5,324.9L423.6,322.7L423.7,324.2L423.8,324.5L423.9,324.0L424.0,324.6L424.1,323.2L424.2,323.5L424.3,323.1L424.4,323.7L424.5,324.9L424.6,324.4L424.7,323.5L424.8,324.6L424.9,321.6L425.0,324.5L425.1,324.8L425.2,323.2L425.3,323.6L425.4,324.3L425.5,324.5L425.6,323.9L425.7,323.5L425.8,323.6L425.9,324.5L426.0,323.9L426.1,323.5L426.2,323.5L426.3,327.0L426.4,325.0L426.5,324.9L426.6,324.4L426.7,324.0L426.8,323.3L426.9,323.5L427.0,324.1L427.1,324.0L427.2,322.4L427.3,324.5L427.4,323.6L427.5,322.4L427.6,323.4L427.7,325.5L427.8,323.2L427.9,323.8L428.0,323.5L428.1,322.3L428.2,322.7L428.3,323.2L428.4,322.0L428.5,322.2L428.6,322.3L428.7,321.8L428.8,321.5L428.9,321.5L429.0,320.8L429.1,319.0L429.2,317.4L429.3,313.3L429.4,303.8L429.5,293.6L429.6,276.7L429.7,254.9L429.8,228.8L429.9,225.0L430.0,225.0L430.1,225.0L430.2,225.0L430.3,225.0L430.4,225.0L430.5,225.0L430.6,237.2L430.7,260.5L430.8,282.0L430.9,297.6L431.0,306.9L431.1,314.5L431.2,317.2L431.3,321.3L431.4,320.9L431.5,321.8L431.6,321.2L431.7,321.2L431.8,323.0L431.9,321.1L432.0,323.2L432.1,324.6L432.2,325.0L432.3,321.7L432.4,323.2L432.5,323.8L432.6,324.0L432.7,324.3L432.8,322.3L432.9,323.5L432.9,321.9L433.0,323.7L433.1,325.6L433.2,322.8L433.3,323.9L433.4,323.8L433.5,322.2L433.6,323.7L433.7,322.5L433.8,323.5L433.9,324.1L434.0,322.9L434.1,323.8L434.2,322.2L434.3,322.4L434.4,323.1L434.5,322.5L434.6,322.4L434.7,323.1L434.8,321.9L434.9,322.8L435.0,321.9L435.1,323.1L435.2,322.0L435.3,321.5L435.4,322.3L435.5,321.7L435.6,321.4L435.7,320.0L435.8,320.9L435.9,319.4L436.0,317.9L436.1,318.3L436.2,319.3L436.3,317.0L436.4,315.1L436.5,314.6L436.6,310.9L436.7,306.9L436.8,299.3L436.9,286.1L437.0,263.3L437.1,227.3L437.2,225.0L437.3,225.0L437.4,225.0L437.5,225.0L437.6,225.0L437.7,225.0L437.8,225.0L437.9,225.0L438.0,225.0L438.1,225.0L438.2,225.0L438.3,225.0L438.4,225.0L438.5,248.4L438.6,277.0L438.7,296.0L438.8,304.7L438.9,311.3L439.0,312.1L439.1,315.9L439.2,317.2L439.3,317.7L439.4,318.8L439.5,319.3L439.6,318.5L439.7,320.1L439.8,320.1L439.9,320.2L440.0,322.3L440.1,320.4L440.2,321.5L440.3,321.5L440.4,323.3L440.5,322.1L440.6,322.6L440.7,323.6L440.8,321.3L440.9,322.9L441.0,323.7L441.1,323.5L441.2,323.0L441.3,322.9L441.4,323.5L441.5,323.0L441.6,322.9L441.7,325.3L441.8,324.7L441.9,325.1L442.0,324.3L442.1,323.3L442.2,324.0L442.3,325.5L442.4,324.9L442.5,323.8L442.6,325.2L442.7,324.8L442.8,324.5L442.9,326.4L443.0,324.2L443.1,324.6L443.2,324.4L443.3,325.8L443.4,325.6L443.5,325.5L443.6,324.8L443.7,325.0L443.8,325.0L443.9,323.6L444.0,324.0L444.1,325.8L444.2,325.7L444.3,323.8L444.4,325.5L444.5,324.1L444.6,323.9L444.7,325.7L444.8,325.5L444.9,325.2L445.0,326.0L445.1,326.2L445.2,325.7L445.3,324.7L445.4,325.8L445.5,325.6L445.6,325.8L445.7,326.6L445.8,324.2L445.9,327.4L446.0,326.0L446.1,325.0L446.2,326.6L446.3,325.0L446.4,324.5L446.5,326.2L446.6,325.4L446.7,326.5L446.8,325.1L446.9,325.5L447.0,325.4L447.1,324.4L447.2,325.2L447.3,324.5L447.4,325.1L447.5,326.6L447.6,325.4L447.7,325.2L447.8,326.8L447.9,324.5L448.0,325.6L448.1,325.4L448.2,326.4L448.3,325.6L448.4,325.4L448.5,326.0L448.6,325.6L448.7,327.5L448.8,324.6L448.9,326.6L449.0,327.5L449.1,326.5L449.2,326.4L449.3,325.3L449.4,326.5L449.5,325.5L449.6,326.6L449.7,324.0L449.8,325.3L449.9,324.2L450.0,326.6L450.1,325.3L450.2,326.6L450.3,325.3L450.4,325.3L450.5,327.1L450.6,326.8L450.7,326.8L450.8,327.1L450.9,326.4L451.0,326.6L451.1,327.0L451.2,325.8L451.3,325.4L451.4,326.9L451.5,326.3L451.6,325.9L451.7,326.1L451.8,326.5L451.9,325.2L452.0,325.2L452.1,325.4L452.2,326.1L452.3,324.3L452.4,324.5L452.5,326.2L452.6,326.0L452.7,325.0L452.8,326.6L452.9,325.6L453.0,325.9L453.1,326.5L453.2,326.1L453.3,327.2L453.4,326.4L453.5,327.6L453.6,324.1L453.7,324.8L453.8,325.0L453.9,325.7L454.0,325.2L454.1,325.0L454.2,325.2L454.3,325.3L454.4,326.7L454.5,325.7L454.6,326.4L454.7,327.0L454.8,326.9L454.9,325.7L455.0,325.2L455.1,327.1L455.2,324.6L455.3,324.9L455.4,326.3L455.5,326.4L455.6,326.1L455.7,325.3L455.8,326.4L455.9,326.9L456.0,325.8L456.1,327.7L456.2,326.0L456.3,325.2L456.4,325.8L456.5,325.5L456.6,325.7L456.7,325.5L456.8,326.0L456.9,326.8L457.0,326.3L457.1,326.2L457.2,325.1L457.3,324.8L457.4,325.8L457.5,326.7L457.6,326.7L457.7,326.3L457.8,325.0L457.9,325.9L458.0,326.2L458.1,326.7L458.2,325.4L458.3,325.9L458.4,326.2L458.5,326.1L458.6,324.8L458.7,326.3L458.8,324.8L458.9,325.2L459.0,326.1L459.1,325.5L459.2,326.3L459.3,326.8L459.4,326.4L459.5,326.9L459.6,325.8L459.7,326.2L459.8,325.7L459.9,325.5L460.0,328.6L460.1,326.0L460.2,327.6L460.3,326.1L460.4,326.9L460.5,326.1L460.6,325.1L460.7,327.6L460.8,326.1L460.9,326.3L461.0,327.7L461.1,325.7L461.2,326.2L461.3,326.6L461.4,326.8L461.5,323.7L461.6,326.6L461.7,327.7L461.8,327.0L461.9,326.5L462.0,326.6L462.1,326.3L462.2,327.1L462.3,325.8L462.4,326.6L462.5,327.3L462.6,326.9L462.7,326.6L462.8,325.6L462.8,325.9L462.9,326.5L463.0,326.3L463.1,326.1L463.2,324.7L463.3,326.8L463.4,325.9L463.5,325.7L463.6,327.0L463.7,326.2L463.8,326.2L463.9,326.7L464.0,325.9L464.1,325.5L464.2,325.5L464.3,326.5L464.4,326.2L464.5,324.5L464.6,327.2L464.7,326.2L464.8,325.7L464.9,326.2L465.0,325.8L465.1,326.2L465.2,325.8L465.3,325.4L465.4,326.5L465.5,326.2L465.6,326.4L465.7,326.7L465.8,326.4L465.9,327.2L466.0,325.8L466.1,325.1L466.2,325.1L466.3,325.4L466.4,327.1L466.5,325.2L466.6,326.9L466.7,326.4L466.8,325.0L466.9,327.2L467.0,325.8L467.1,326.2L467.2,326.5L467.3,327.1L467.4,326.1L467.5,326.8L467.6,325.6L467.7,325.5L467.8,327.5L467.9,326.8L468.0,326.7L468.1,327.3L468.2,327.3L468.3,326.4L468.4,326.6L468.5,327.7L468.6,326.9L468.7,326.1L468.8,327.4L468.9,327.2L469.0,325.3L469.1,325.5L469.2,327.7L469.3,327.5L469.4,326.2L469.5,327.4L469.6,326.7L469.7,326.8L469.8,326.1L469.9,328.4L470.0,328.1L470.1,327.4L470.2,325.7L470.3,326.6L470.4,327.8L470.5,326.1L470.6,326.0L470.7,326.7L470.8,326.8L470.9,326.2L471.0,325.6L471.1,326.4L471.2,326.1L471.3,326.6L471.4,326.8L471.5,327.2L471.6,326.3L471.7,326.7L471.8,326.7L471.9,325.8L472.0,326.2L472.1,325.9L472.2,327.7L472.3,326.1L472.4,327.0L472.5,327.1L472.6,327.2L472.7,325.6L472.8,325.9L472.9,327.1L473.0,327.4L473.1,326.5L473.2,326.9L473.3,325.3L473.4,327.7L473.5,327.9L473.6,326.8L473.7,326.6L473.8,326.5L473.9,326.0L474.0,325.0L474.1,326.8L474.2,327.0L474.3,327.9L474.4,326.4L474.5,326.0L474.6,326.8L474.7,325.7L474.8,326.6L474.9,325.5L475.0,326.4L475.1,327.4L475.2,327.1L475.3,327.7L475.4,327.9L475.5,326.4L475.6,326.0L475.7,325.2L475.8,326.7L475.9,326.8L476.0,327.4L476.1,325.9L476.2,326.3L476.3,327.1L476.4,326.1L476.5,326.2L476.6,328.0L476.7,326.1L476.8,326.5L476.9,326.9L477.0,326.9L477.1,325.4L477.2,325.5L477.3,325.3L477.4,327.5L477.5,327.1L477.6,326.0L477.7,327.5L477.8,327.2L477.9,328.0L478.0,325.3L478.1,325.9L478.2,326.3L478.3,326.5L478.4,326.9L478.5,326.9L478.6,326.2L478.7,327.2L478.8,325.7L478.9,327.0L479.0,327.3L479.1,325.7L479.2,326.7L479.3,326.2L479.4,326.9L479.5,328.3L479.6,326.2L479.7,327.6L479.8,325.8L479.9,327.7L480.0,328.0L480.1,326.4L480.2,326.3L480.3,326.5L480.4,327.5L480.5,326.0L480.6,327.6L480.7,326.9L480.8,327.1L480.9,326.8L481.0,325.9L481.1,327.0L481.2,326.1L481.3,326.0L481.4,327.7L481.5,327.3L481.6,326.8L481.7,326.9L481.8,326.2L481.9,327.8L482.0,325.9L482.1,325.9L482.2,326.5L482.3,327.3L482.4,326.3L482.5,326.6L482.6,325.8L482.7,326.2L482.8,325.6L482.9,326.4L483.0,325.0L483.1,327.6L483.2,326.6L483.3,325.4L483.4,326.7L483.5,325.0L483.6,326.2L483.7,325.1L483.8,325.6L483.9,324.9L484.0,323.8L484.1,322.9L484.2,321.2L484.3,316.0L484.4,312.1L484.5,304.6L484.6,291.9L484.7,277.8L484.8,261.9L484.9,246.6L485.0,237.0L485.1,229.9L485.2,231.1L485.3,240.0L485.4,252.8L485.5,270.6L485.6,284.2L485.7,295.7L485.8,308.5L485.9,314.8L486.0,318.8L486.1,321.4L486.2,322.2L486.3,325.5L486.4,324.8L486.5,324.5L486.6,326.3L486.7,325.5L486.8,324.3L486.9,324.9L487.0,325.5L487.1,327.8L487.2,326.2L487.3,325.9L487.4,326.4L487.5,326.3L487.6,324.2L487.7,326.5L487.8,327.1L487.9,326.3L488.0,326.7L488.1,326.7L488.2,326.6L488.3,326.1L488.4,326.5L488.5,327.5L488.6,326.8L488.7,326.4L488.8,327.0L488.9,325.9L489.0,326.2L489.1,327.4L489.2,326.6L489.3,325.4L489.4,325.7L489.5,326.9L489.6,326.2L489.7,327.3L489.8,327.8L489.9,326.5L490.0,326.7L490.1,326.5L490.2,326.9L490.3,326.7L490.4,327.3L490.5,326.6L490.6,326.3L490.7,327.0L490.8,326.4L490.9,328.2L491.0,327.5L491.1,326.0L491.2,325.8L491.3,326.8L491.4,327.0L491.5,327.9L491.6,326.7L491.7,326.5L491.8,328.0L491.9,326.6L492.0,326.7L492.1,326.7L492.2,327.8L492.3,326.7L492.4,328.1L492.5,326.0L492.6,326.9L492.7,327.8L492.7,326.1L492.8,326.3L492.9,327.5L493.0,325.6L493.1,327.8L493.2,326.9L493.3,326.3L493.4,328.6L493.5,326.4L493.6,327.1L493.7,327.1L493.8,327.8L493.9,326.9L494.0,327.9L494.1,327.8L494.2,327.4L494.3,327.9L494.4,326.1L494.5,328.0L494.6,327.6L494.7,327.3L494.8,327.1L494.9,326.6L495.0,326.6L495.1,327.3L495.2,327.4L495.3,327.1L495.4,326.6L495.5,326.7L495.6,327.5L495.7,328.5L495.8,325.7L495.9,326.5L496.0,327.0L496.1,326.9L496.2,327.5L496.3,327.9L496.4,327.4L496.5,327.3L496.6,327.6L496.7,328.2L496.8,327.4L496.9,326.8L497.0,327.5L497.1,327.2L497.2,328.6L497.3,327.4L497.4,327.3L497.5,328.0L497.6,328.4L497.7,327.0L497.8,327.8L497.9,326.9L498.0,327.5L498.1,326.8L498.2,327.5L498.3,328.2L498.4,327.3L498.5,327.5L498.6,326.8L498.7,327.6L498.8,327.5L498.9,326.7L499.0,326.5L499.1,326.8L499.2,326.6L499.3,327.0L499.4,326.8L499.5,326.7L499.6,327.0L499.7,327.2L499.8,327.2L499.9,325.7L500.0,327.3L500.1,327.5L500.2,327.5L500.3,327.3L500.4,327.1L500.5,328.1L500.6,328.6L500.7,327.1L500.8,328.4L500.9,327.2L501.0,327.2L501.1,326.6L501.2,326.2L501.3,327.1L501.4,327.7L501.5,328.1L501.6,327.9L501.7,327.3L501.8,328.7L501.9,327.3L502.0,327.4L502.1,326.9L502.2,327.6L502.3,327.3L502.4,327.8L502.5,327.7L502.6,328.5L502.7,327.3L502.8,326.4L502.9,327.3L503.0,327.1L503.1,328.0L503.2,326.5L503.3,327.9L503.4,326.9L503.5,327.3L503.6,328.0L503.7,326.7L503.8,327.4L503.9,327.3L504.0,327.1L504.1,327.4L504.2,327.7L504.3,327.1L504.4,327.7L504.5,327.4L504.6,327.9L504.7,328.4L504.8,327.9L504.9,327.7L505.0,327.4L505.1,326.7L505.2,328.5L505.3,327.4L505.4,328.9L505.5,328.1L505.6,327.8L505.7,328.9L505.8,328.6L505.9,327.4L506.0,327.4L506.1,327.5L506.2,328.0L506.3,326.1L506.4,327.6L506.5,328.0L506.6,326.4L506.7,327.1L506.8,327.7L506.9,326.7L507.0,327.4L507.1,327.1L507.2,327.3L507.3,328.1L507.4,326.9L507.5,327.4L507.6,328.1L507.7,328.0L507.8,326.9L507.9,327.7L508.0,327.5L508.1,327.1L508.2,327.4L508.3,328.5L508.4,327.1L508.5,326.9L508.6,327.0L508.7,326.5L508.8,327.3L508.9,327.0L509.0,326.5L509.1,327.7L509.2,326.4L509.3,326.4L509.4,327.0L509.5,326.4L509.6,327.0L509.7,328.1L509.8,326.8L509.9,327.3L510.0,327.3L510.1,327.5L510.2,326.7L510.3,327.2L510.4,328.0L510.5,327.3L510.6,327.1L510.7,328.0L510.8,327.9L510.9,327.8L511.0,328.0L511.1,327.4L511.2,327.0L511.3,326.4L511.4,326.9L511.5,327.0L511.6,326.9L511.7,326.8L511.8,327.9L511.9,327.2L512.0,327.4L512.1,327.7L512.2,327.9L512.3,328.0L512.4,327.8L512.5,328.4L512.6,327.3L512.7,327.7L512.8,327.6L512.9,327.5L513.0,327.2L513.1,328.0L513.2,327.7L513.3,328.7L513.4,329.0L513.5,328.9L513.6,326.7L513.7,328.8L513.8,327.4L513.9,326.8L514.0,328.0L514.1,326.7L514.2,326.6L514.3,327.1L514.4,326.3L514.5,327.3L514.6,328.2L514.7,327.4L514.8,328.0L514.9,328.5L515.0,328.5L515.1,326.3L515.2,328.1L515.3,327.7L515.4,328.1L515.5,327.6L515.6,327.9L515.7,328.0L515.8,328.5L515.9,328.6L516.0,328.2L516.1,327.6L516.2,326.5L516.3,327.1L516.4,326.6L516.5,327.4L516.6,327.8L516.7,328.5L516.8,327.7L516.9,329.0L517.0,327.9L517.1,326.8L517.2,327.5L517.3,327.1L517.4,328.0L517.5,328.6L517.6,328.0L517.7,328.0L517.8,327.0L517.9,326.5L518.0,328.2L518.1,327.9L518.2,327.8L518.3,327.9L518.4,328.5L518.5,327.6L518.6,327.5L518.7,327.5L518.8,328.4L518.9,327.7L519.0,328.7L519.1,327.1L519.2,328.2L519.3,327.8L519.4,327.9L519.5,327.9L519.6,328.2L519.7,328.6L519.8,326.5L519.9,327.4L520.0,327.3L520.1,326.2L520.2,327.5L520.3,327.1L520.4,327.3L520.5,326.6L520.6,327.0L520.7,327.0L520.8,327.3L520.9,326.9L521.0,326.3L521.1,328.1L521.2,326.9L521.3,326.9L521.4,326.7L521.5,327.5L521.6,325.7L521.7,326.4L521.8,325.7L521.9,325.3L522.0,325.0L522.1,322.5L522.2,320.3L522.3,314.6L522.4,306.1L522.5,294.1L522.6,278.6L522.6,260.5L522.7,240.3L522.8,225.0L522.9,225.0L523.0,225.0L523.1,225.0L523.2,230.0L523.3,247.9L523.4,267.0L523.5,283.0L523.6,298.3L523.7,309.1L523.8,316.2L523.9,320.6L524.0,322.2L524.1,324.2L524.2,324.6L524.3,327.6L524.4,325.9L524.5,325.7L524.6,325.4L524.7,326.7L524.8,327.9L524.9,326.6L525.0,327.4L525.1,328.2L525.2,327.6L525.3,326.7L525.4,326.7L525.5,327.1L525.6,328.1L525.7,326.1L525.8,328.3L525.9,327.7L526.0,328.6L526.1,327.0L526.2,327.5L526.3,327.3L526.4,327.8L526.5,327.9L526.6,327.8L526.7,329.0L526.8,327.4L526.9,327.5L527.0,328.2L527.1,328.0L527.2,327.9L527.3,327.1L527.4,327.8L527.5,328.1L527.6,328.4L527.7,329.0L527.8,328.5L527.9,328.1L528.0,328.3L528.1,328.1L528.2,327.7L528.3,327.9L528.4,328.0L528.5,327.8L528.6,328.1L528.7,328.2L528.8,328.0L528.9,329.2L529.0,327.5L529.1,329.0L529.2,327.8L529.3,328.3L529.4,327.7L529.5,328.3L529.6,328.8L529.7,327.7L529.8,328.2L529.9,328.3L530.0,328.3L530.1,327.8L530.2,327.9L530.3,328.2L530.4,329.2L530.5,328.6L530.6,328.3L530.7,327.4L530.8,328.2L530.9,328.4L531.0,327.7L531.1,328.5L531.2,328.4L531.3,328.3L531.4,329.3L531.5,327.9L531.6,328.2L531.7,328.6L531.8,329.1L531.9,328.3L532.0,327.7L532.1,328.8L532.2,329.1L532.3,328.2L532.4,329.4L532.5,329.7L532.6,328.7L532.7,328.9L532.8,328.7L532.9,328.8L533.0,328.3L533.1,328.6L533.2,328.9L533.3,328.8L533.4,328.2L533.5,328.0L533.6,328.0L533.7,328.2L533.8,330.4L533.9,329.1L534.0,328.7L534.1,328.5L534.2,329.5L534.3,327.8L534.4,328.4L534.5,328.9L534.6,328.5L534.7,328.8L534.8,329.0L534.9,328.3L535.0,328.9L535.1,329.4L535.2,329.0L535.3,328.7L535.4,329.2L535.5,327.9L535.6,329.2L535.7,327.7L535.8,328.2L535.9,329.2L536.0,328.6L536.1,328.0L536.2,328.8L536.3,329.3L536.4,328.6L536.5,327.6L536.6,329.5L536.7,328.4L536.8,328.7L536.9,328.8L537.0,328.9L537.1,328.9L537.2,328.2L537.3,328.4L537.4,329.3L537.5,327.9L537.6,329.4" fill="none" stroke="#f03a3a" stroke-width="0.5" stroke-linejoin="round" /><path d="M328.3,275.5L328.4,276.1L328.5,274.9L328.6,275.9L328.7,275.1L328.8,276.4L328.9,275.2L329.0,275.9L329.1,273.8L329.2,277.2L329.3,274.9L329.4,275.8L329.5,276.1L329.6,277.0L329.7,275.8L329.8,278.1L329.9,278.0L330.0,275.5L330.1,278.2L330.2,274.6L330.3,276.7L330.4,276.1L330.5,276.3L330.6,275.9L330.7,276.7L330.8,276.8L330.9,276.5L331.0,275.1L331.1,275.0L331.2,274.9L331.3,275.9L331.4,276.6L331.5,278.4L331.6,275.6L331.7,275.4L331.8,276.9L331.9,275.4L332.0,274.9L332.1,276.3L332.2,275.1L332.3,276.0L332.4,278.5L332.5,277.0L332.6,276.9L332.7,275.8L332.8,277.4L332.9,276.9L333.0,277.5L333.1,276.5L333.2,276.3L333.3,275.3L333.4,275.5L333.5,276.2L333.6,276.1L333.7,276.3L333.8,276.3L333.9,274.6L334.0,279.4L334.1,276.6L334.2,276.1L334.3,275.1L334.4,277.7L334.5,276.0L334.6,275.4L334.7,277.0L334.8,278.7L334.9,276.9L335.0,277.9L335.1,275.7L335.2,277.4L335.3,274.3L335.4,276.3L335.5,277.4L335.6,277.0L335.7,277.7L335.8,276.0L335.9,274.7L336.0,276.7L336.1,275.4L336.2,277.6L336.3,276.1L336.4,273.8L336.5,278.1L336.6,275.0L336.7,275.1L336.8,278.7L336.9,278.2L337.0,277.6L337.1,275.3L337.2,277.0L337.3,276.7L337.4,275.6L337.5,276.3L337.6,276.2L337.7,276.9L337.8,275.2L337.9,277.4L338.0,274.5L338.1,276.9L338.2,277.5L338.3,275.8L338.4,276.1L338.5,279.0L338.6,276.4L338.7,278.3L338.8,277.7L338.9,275.9L339.0,277.9L339.1,276.5L339.2,277.4L339.3,274.7L339.4,277.1L339.5,278.4L339.6,278.4L339.7,278.1L339.8,277.0L339.9,277.1L340.0,276.0L340.1,277.0L340.2,277.0L340.3,276.7L340.4,277.2L340.5,276.6L340.6,276.0L340.7,275.8L340.8,277.2L340.9,278.5L341.0,277.2L341.1,275.8L341.2,279.0L341.3,276.6L341.4,275.6L341.5,276.9L341.6,277.8L341.7,274.6L341.8,275.3L341.9,277.4L342.0,275.8L342.1,276.1L342.2,279.0L342.3,274.8L342.4,279.1L342.5,278.4L342.6,279.4L342.7,278.2L342.8,279.8L342.9,278.4L343.0,277.2L343.1,278.2L343.2,278.8L343.2,276.8L343.3,279.6L343.4,277.5L343.5,279.0L343.6,278.5L343.7,278.7L343.8,278.7L343.9,278.9L344.0,279.8L344.1,279.6L344.2,278.5L344.3,279.1L344.4,280.4L344.5,279.9L344.6,279.9L344.7,279.2L344.8,279.0L344.9,279.1L345.0,279.9L345.1,279.2L345.2,280.8L345.3,282.5L345.4,279.3L345.5,281.2L345.6,280.4L345.7,280.7L345.8,278.6L345.9,280.7L346.0,279.0L346.1,279.9L346.2,280.8L346.3,281.2L346.4,278.9L346.5,279.0L346.6,278.5L346.7,277.3L346.8,279.1L346.9,279.1L347.0,279.6L347.1,279.4L347.2,279.9L347.3,280.5L347.4,277.3L347.5,281.7L347.6,279.3L347.7,279.1L347.8,279.4L347.9,280.7L348.0,279.8L348.1,280.2L348.2,280.9L348.3,279.7L348.4,280.1L348.5,280.3L348.6,278.9L348.7,280.9L348.8,279.2L348.9,280.4L349.0,279.3L349.1,279.7L349.2,279.5L349.3,280.9L349.4,280.7L349.5,280.8L349.6,279.6L349.7,279.0L349.8,278.6L349.9,280.5L350.0,279.8L350.1,281.7L350.2,282.4L350.3,280.9L350.4,280.7L350.5,281.7L350.6,282.0L350.7,279.4L350.8,280.9L350.9,281.9L351.0,277.4L351.1,279.9L351.2,280.4L351.3,279.3L351.4,280.9L351.5,278.3L351.6,281.9L351.7,281.6L351.8,280.3L351.9,281.0L352.0,278.6L352.1,282.0L352.2,281.0L352.3,280.0L352.4,279.6L352.5,279.1L352.6,279.9L352.7,277.8L352.8,280.8L352.9,280.1L353.0,279.4L353.1,280.7L353.2,280.7L353.3,280.9L353.4,281.1L353.5,281.6L353.6,281.0L353.7,282.1L353.8,280.0L353.9,282.2L354.0,278.1L354.1,278.6L354.2,279.2L354.3,280.7L354.4,281.2L354.5,279.2L354.6,280.3L354.7,279.9L354.8,281.4L354.9,279.4L355.0,281.5L355.1,280.5L355.2,282.5L355.3,281.4L355.4,280.1L355.5,281.2L355.6,281.2L355.7,279.8L355.8,280.8L355.9,279.3L356.0,283.4L356.1,280.1L356.2,280.2L356.3,282.5L356.4,282.2L356.5,279.8L356.6,282.0L356.7,281.5L356.8,280.2L356.9,281.2L357.0,280.3L357.1,281.8L357.2,280.6L357.3,279.7L357.4,280.5L357.5,283.3L357.6,280.2L357.7,280.9L357.8,282.0L357.9,279.4L358.0,282.9L358.1,278.9L358.2,281.7L358.3,279.3L358.4,281.1L358.5,282.5L358.6,280.9L358.7,280.7L358.8,280.5L358.9,279.9L359.0,282.1L359.1,280.5L359.2,280.3L359.3,281.4L359.4,282.1L359.5,282.2L359.6,280.3L359.7,280.3L359.8,282.1L359.9,282.6L360.0,279.8L360.1,282.9L360.2,281.0L360.3,282.1L360.4,283.1L360.5,281.1L360.6,281.4L360.7,279.7L360.8,278.8L360.9,281.5L361.0,280.2L361.1,280.1L361.2,281.9L361.3,282.2L361.4,279.6L361.5,281.7L361.6,281.4L361.7,281.7L361.8,281.5L361.9,282.0L362.0,280.6L362.1,280.0L362.2,281.8L362.3,282.9L362.4,281.4L362.5,283.0L362.6,282.1L362.7,280.1L362.8,278.9L362.9,281.0L363.0,282.6L363.1,280.6L363.2,283.9L363.3,282.2L363.4,279.9L363.5,280.7L363.6,283.0L363.7,283.3L363.8,280.6L363.9,281.6L364.0,282.2L364.1,281.1L364.2,282.2L364.3,283.7L364.4,280.7L364.5,282.3L364.6,282.7L364.7,283.1L364.8,281.4L364.9,282.5L365.0,281.0L365.1,282.0L365.2,280.5L365.3,282.1L365.4,282.4L365.5,283.8L365.6,282.9L365.7,281.0L365.8,278.4L365.9,283.1L366.0,282.9L366.1,281.4L366.2,281.3L366.3,282.5L366.4,281.7L366.5,283.5L366.6,282.1L366.7,280.9L366.8,280.1L366.9,282.0L367.0,282.1L367.1,281.4L367.2,280.7L367.3,281.4L367.4,282.7L367.5,281.5L367.6,280.9L367.7,282.7L367.8,283.4L367.9,281.4L368.0,281.6L368.1,280.9L368.2,281.9L368.3,282.7L368.4,282.5L368.5,283.1L368.6,283.0L368.7,282.6L368.8,282.5L368.9,280.8L369.0,283.4L369.1,282.1L369.2,282.7L369.3,280.5L369.4,281.8L369.5,282.5L369.6,281.2L369.7,282.0L369.8,282.6L369.9,280.5L370.0,281.4L370.1,280.3L370.2,280.9L370.3,281.3L370.4,282.0L370.5,283.3L370.6,281.4L370.7,282.1L370.8,281.5L370.9,282.2L371.0,283.0L371.1,283.3L371.2,281.5L371.3,280.9L371.4,282.6L371.5,281.8L371.6,280.8L371.7,283.2L371.8,282.7L371.9,283.5L372.0,281.1L372.1,282.1L372.2,282.8L372.3,284.1L372.4,282.6L372.5,281.3L372.6,282.7L372.7,282.8L372.8,281.7L372.9,283.7L373.0,282.4L373.1,281.8L373.1,283.3L373.2,283.3L373.3,282.2L373.4,282.6L373.5,282.7L373.6,282.3L373.7,282.3L373.8,283.5L373.9,283.2L374.0,282.1L374.1,281.4L374.2,281.1L374.3,283.4L374.4,281.4L374.5,281.8L374.6,282.6L374.7,282.1L374.8,281.7L374.9,280.7L375.0,283.7L375.1,282.0L375.2,282.7L375.3,282.8L375.4,281.4L375.5,281.8L375.6,283.7L375.7,282.9L375.8,282.4L375.9,284.1L376.0,281.7L376.1,282.7L376.2,282.5L376.3,282.3L376.4,280.8L376.5,282.6L376.6,283.1L376.7,280.9L376.8,283.2L376.9,283.3L377.0,284.2L377.1,281.6L377.2,282.4L377.3,282.2L377.4,282.6L377.5,282.9L377.6,283.6L377.7,283.6L377.8,282.3L377.9,282.6L378.0,281.1L378.1,283.6L378.2,283.3L378.3,283.8L378.4,281.4L378.5,284.1L378.6,282.0L378.7,281.3L378.8,283.0L378.9,282.1L379.0,285.0L379.1,283.2L379.2,284.6L379.3,282.7L379.4,282.9L379.5,283.7L379.6,281.9L379.7,282.5L379.8,283.4L379.9,283.4L380.0,284.4L380.1,283.1L380.2,280.7L380.3,283.7L380.4,282.5L380.5,283.5L380.6,282.1L380.7,282.5L380.8,283.2L380.9,284.8L381.0,283.5L381.1,281.7L381.2,283.2L381.3,282.3L381.4,283.5L381.5,284.9L381.6,282.6L381.7,282.7L381.8,283.6L381.9,283.4L382.0,282.7L382.1,283.6L382.2,282.7L382.3,283.3L382.4,285.5L382.5,283.2L382.6,283.7L382.7,283.9L382.8,282.7L382.9,283.6L383.0,282.5L383.1,282.0L383.2,283.0L383.3,284.7L383.4,283.9L383.5,282.2L383.6,283.4L383.7,284.0L383.8,283.2L383.9,282.6L384.0,282.9L384.1,282.5L384.2,284.0L384.3,283.5L384.4,283.4L384.5,283.2L384.6,285.3L384.7,283.4L384.8,284.6L384.9,281.8L385.0,281.7L385.1,281.5L385.2,282.4L385.3,283.7L385.4,282.3L385.5,283.5L385.6,282.6L385.7,284.2L385.8,283.9L385.9,282.8L386.0,281.5L386.1,283.3L386.2,281.0L386.3,280.5L386.4,284.6L386.5,283.3L386.6,284.3L386.7,283.5L386.8,283.9L386.9,283.4L387.0,282.4L387.1,282.4L387.2,283.1L387.3,283.4L387.4,283.3L387.5,283.3L387.6,282.8L387.7,283.4L387.8,282.9L387.9,284.7L388.0,282.6L388.1,281.7L388.2,283.2L388.3,284.8L388.4,282.1L388.5,283.8L388.6,286.4L388.7,283.7L388.8,282.9L388.9,283.1L389.0,282.2L389.1,282.9L389.2,283.4L389.3,285.5L389.4,284.6L389.5,283.3L389.6,282.8L389.7,284.5L389.8,284.1L389.9,283.1L390.0,285.4L390.1,285.5L390.2,283.8L390.3,283.3L390.4,284.0L390.5,285.9L390.6,283.6L390.7,284.9L390.8,282.9L390.9,283.7L391.0,283.3L391.1,283.0L391.2,284.1L391.3,282.8L391.4,282.4L391.5,283.2L391.6,282.3L391.7,284.2L391.8,282.7L391.9,283.3L392.0,284.6L392.1,283.7L392.2,284.1L392.3,284.2L392.4,283.5L392.5,282.6L392.6,283.9L392.7,283.5L392.8,285.1L392.9,283.5L393.0,282.5L393.1,282.8L393.2,283.2L393.3,284.2L393.4,284.6L393.5,283.7L393.6,285.0L393.7,284.9L393.8,282.7L393.9,284.6L394.0,281.9L394.1,285.1L394.2,283.2L394.3,284.8L394.4,283.5L394.5,284.7L394.6,283.6L394.7,283.8L394.8,284.1L394.9,283.2L395.0,282.2L395.1,284.3L395.2,282.8L395.3,283.6L395.4,283.7L395.5,281.6L395.6,285.8L395.7,284.4L395.8,285.5L395.9,284.0L396.0,283.9L396.1,280.0L396.2,283.4L396.3,282.0L396.4,282.5L396.5,284.2L396.6,283.3L396.7,282.1L396.8,283.6L396.9,283.5L397.0,283.3L397.1,285.2L397.2,284.5L397.3,283.4L397.4,283.2L397.5,284.7L397.6,284.1L397.7,283.9L397.8,283.9L397.9,283.1L398.0,283.7L398.1,283.6L398.2,285.2L398.3,284.8L398.4,283.5L398.5,285.3L398.6,283.5L398.7,284.4L398.8,284.6L398.9,283.2L399.0,284.5L399.1,284.6L399.2,284.5L399.3,283.8L399.4,281.1L399.5,285.9L399.6,283.8L399.7,284.1L399.8,282.9L399.9,284.2L400.0,286.2L400.1,282.5L400.2,284.9L400.3,283.9L400.4,285.2L400.5,284.9L400.6,284.3L400.7,283.0L400.8,283.0L400.9,284.4L401.0,283.4L401.1,284.2L401.2,283.7L401.3,283.7L401.4,283.3L401.5,284.5L401.6,284.0L401.7,283.7L401.8,283.8L401.9,284.6L402.0,282.2L402.1,284.3L402.2,283.2L402.3,283.7L402.4,282.7L402.5,286.0L402.6,281.9L402.7,284.1L402.8,285.1L402.9,283.8L403.0,281.7L403.0,283.4L403.1,285.1L403.2,284.3L403.3,282.6L403.4,285.3L403.5,284.1L403.6,284.2L403.7,281.8L403.8,284.2L403.9,282.7L404.0,284.6L404.1,284.7L404.2,283.0L404.3,283.3L404.4,285.6L404.5,283.3L404.6,283.3L404.7,284.5L404.8,283.7L404.9,283.7L405.0,284.4L405.1,284.5L405.2,284.6L405.3,284.2L405.4,285.2L405.5,284.0L405.6,285.4L405.7,283.9L405.8,284.0L405.9,284.9L406.0,283.1L406.1,282.1L406.2,282.7L406.3,285.3L406.4,282.7L406.5,283.7L406.6,284.0L406.7,284.5L406.8,284.0L406.9,282.6L407.0,283.4L407.1,284.3L407.2,284.6L407.3,284.3L407.4,283.4L407.5,282.2L407.6,284.9L407.7,283.9L407.8,284.3L407.9,284.7L408.0,283.6L408.1,283.4L408.2,285.3L408.3,284.9L408.4,282.8L408.5,283.6L408.6,283.4L408.7,284.4L408.8,284.3L408.9,283.5L409.0,284.4L409.1,285.0L409.2,283.9L409.3,283.1L409.4,284.9L409.5,282.9L409.6,283.2L409.7,284.7L409.8,283.9L409.9,283.9L410.0,283.3L410.1,283.3L410.2,285.1L410.3,285.1L410.4,282.9L410.5,283.7L410.6,283.5L410.7,283.5L410.8,282.4L410.9,285.0L411.0,282.8L411.1,284.6L411.2,283.1L411.3,282.6L411.4,285.1L411.5,283.4L411.6,284.0L411.7,284.0L411.8,283.7L411.9,284.7L412.0,284.6L412.1,283.1L412.2,282.9L412.3,284.2L412.4,285.0L412.5,281.5L412.6,282.7L412.7,283.3L412.8,284.6L412.9,284.2L413.0,283.4L413.1,284.5L413.2,282.1L413.3,283.4L413.4,283.2L413.5,284.5L413.6,284.3L413.7,284.2L413.8,283.2L413.9,283.7L414.0,283.7L414.1,283.1L414.2,283.1L414.3,281.9L414.4,283.5L414.5,284.2L414.6,283.2L414.7,281.8L414.8,283.6L414.9,283.0L415.0,283.3L415.1,282.6L415.2,282.7L415.3,283.6L415.4,283.0L415.5,281.8L415.6,281.6L415.7,281.7L415.8,281.6L415.9,282.6L416.0,282.5L416.1,281.2L416.2,283.0L416.3,281.8L416.4,283.3L416.5,281.8L416.6,281.9L416.7,282.1L416.8,280.2L416.9,281.1L417.0,280.5L417.1,280.0L417.2,280.0L417.3,277.6L417.4,278.8L417.5,277.5L417.6,278.1L417.7,276.3L417.8,274.7L417.9,272.3L418.0,268.4L418.1,260.4L418.2,246.2L418.3,226.3L418.4,225.0L418.5,225.0L418.6,225.0L418.7,225.0L418.8,225.0L418.9,225.0L419.0,225.0L419.1,225.0L419.2,225.0L419.3,225.0L419.4,225.0L419.5,225.0L419.6,225.0L419.7,225.0L419.8,225.0L419.9,245.4L420.0,258.1L420.1,267.8L420.2,271.4L420.3,275.5L420.4,275.0L420.5,277.8L420.6,278.7L420.7,278.5L420.8,276.7L420.9,279.8L421.0,280.8L421.1,279.6L421.2,280.2L421.3,279.2L421.4,282.0L421.5,282.6L421.6,281.6L421.7,281.2L421.8,281.4L421.9,280.9L422.0,283.3L422.1,282.8L422.2,282.3L422.3,281.6L422.4,282.0L422.5,282.9L422.6,283.5L422.7,281.8L422.8,281.9L422.9,280.4L423.0,283.0L423.1,281.4L423.2,284.0L423.3,283.4L423.4,283.6L423.5,283.4L423.6,283.8L423.7,283.6L423.8,283.1L423.9,283.5L424.0,282.6L424.1,283.2L424.2,283.2L424.3,281.9L424.4,282.9L424.5,283.1L424.6,283.2L424.7,283.2L424.8,282.7L424.9,283.9L425.0,282.2L425.1,281.9L425.2,282.2L425.3,283.7L425.4,284.6L425.5,283.6L425.6,283.1L425.7,282.5L425.8,283.4L425.9,283.4L426.0,281.8L426.1,283.7L426.2,282.2L426.3,282.3L426.4,284.2L426.5,282.8L426.6,283.5L426.7,283.8L426.8,284.5L426.9,284.2L427.0,282.4L427.1,283.1L427.2,282.4L427.3,283.5L427.4,282.8L427.5,282.7L427.6,283.7L427.7,283.7L427.8,281.7L427.9,281.8L428.0,282.6L428.1,281.7L428.2,280.8L428.3,279.6L428.4,281.7L428.5,280.0L428.6,278.4L428.7,279.7L428.8,278.0L428.9,280.7L429.0,276.0L429.1,275.2L429.2,273.1L429.3,264.3L429.4,253.1L429.5,235.7L429.6,225.0L429.7,225.0L429.8,225.0L429.9,225.0L430.0,225.0L430.1,225.0L430.2,225.0L430.3,225.0L430.4,225.0L430.5,225.0L430.6,225.0L430.7,225.0L430.8,225.0L430.9,242.7L431.0,258.7L431.1,268.1L431.2,272.1L431.3,276.6L431.4,278.4L431.5,278.7L431.6,278.5L431.7,280.0L431.8,280.4L431.9,279.6L432.0,280.3L432.1,280.5L432.2,280.3L432.3,282.2L432.4,281.3L432.5,282.1L432.6,280.8L432.7,281.1L432.8,282.8L432.9,280.8L432.9,283.0L433.0,281.0L433.1,281.9L433.2,282.8L433.3,283.1L433.4,282.4L433.5,282.1L433.6,282.7L433.7,281.6L433.8,283.2L433.9,282.0L434.0,282.0L434.1,283.5L434.2,281.6L434.3,282.9L434.4,283.8L434.5,282.1L434.6,281.7L434.7,280.6L434.8,281.7L434.9,279.8L435.0,279.7L435.1,279.8L435.2,279.4L435.3,280.0L435.4,280.5L435.5,279.1L435.6,278.5L435.7,278.7L435.8,278.7L435.9,279.3L436.0,276.8L436.1,276.4L436.2,277.0L436.3,274.8L436.4,273.1L436.5,272.0L436.6,268.4L436.7,263.5L436.8,256.6L436.9,240.1L437.0,225.0L437.1,225.0L437.2,225.0L437.3,225.0L437.4,225.0L437.5,225.0L437.6,225.0L437.7,225.0L437.8,225.0L437.9,225.0L438.0,225.0L438.1,225.0L438.2,225.0L438.3,225.0L438.4,225.0L438.5,225.0L438.6,232.0L438.7,250.2L438.8,260.4L438.9,268.6L439.0,271.2L439.1,273.2L439.2,273.9L439.3,275.5L439.4,276.4L439.5,277.7L439.6,278.0L439.7,278.7L439.8,278.4L439.9,279.6L440.0,279.0L440.1,281.6L440.2,279.5L440.3,280.9L440.4,280.1L440.5,281.2L440.6,280.8L440.7,280.4L440.8,282.3L440.9,281.9L441.0,282.3L441.1,282.1L441.2,283.7L441.3,282.6L441.4,282.8L441.5,283.3L441.6,282.9L441.7,284.1L441.8,281.8L441.9,282.6L442.0,281.5L442.1,283.9L442.2,284.2L442.3,283.0L442.4,284.7L442.5,283.2L442.6,284.0L442.7,283.7L442.8,283.3L442.9,283.5L443.0,282.0L443.1,283.1L443.2,284.7L443.3,282.8L443.4,284.8L443.5,283.6L443.6,284.8L443.7,284.5L443.8,282.7L443.9,284.3L444.0,284.4L444.1,284.3L444.2,284.1L444.3,282.7L444.4,284.9L444.5,285.0L444.6,283.5L444.7,285.3L444.8,284.3L444.9,283.1L445.0,284.0L445.1,284.4L445.2,284.6L445.3,284.8L445.4,284.6L445.5,284.0L445.6,283.1L445.7,283.3L445.8,284.6L445.9,284.7L446.0,283.6L446.1,285.7L446.2,284.5L446.3,284.5L446.4,285.1L446.5,285.0L446.6,283.9L446.7,285.6L446.8,285.0L446.9,284.8L447.0,284.2L447.1,285.4L447.2,283.4L447.3,284.5L447.4,284.5L447.5,284.6L447.6,284.8L447.7,285.1L447.8,283.4L447.9,284.2L448.0,284.4L448.1,283.5L448.2,284.9L448.3,283.8L448.4,284.3L448.5,285.1L448.6,283.8L448.7,285.6L448.8,283.9L448.9,285.1L449.0,284.1L449.1,283.3L449.2,283.9L449.3,284.9L449.4,284.4L449.5,284.7L449.6,285.4L449.7,285.3L449.8,284.4L449.9,284.0L450.0,285.9L450.1,284.5L450.2,284.0L450.3,284.4L450.4,285.3L450.5,283.6L450.6,285.5L450.7,284.0L450.8,283.2L450.9,286.1L451.0,284.3L451.1,284.3L451.2,284.3L451.3,285.1L451.4,284.8L451.5,285.6L451.6,284.4L451.7,284.1L451.8,285.1L451.9,285.3L452.0,284.9L452.1,284.6L452.2,284.5L452.3,284.6L452.4,284.5L452.5,285.6L452.6,286.7L452.7,284.1L452.8,283.4L452.9,285.7L453.0,285.1L453.1,284.4L453.2,283.8L453.3,284.1L453.4,283.6L453.5,284.6L453.6,284.3L453.7,284.3L453.8,285.0L453.9,283.7L454.0,284.1L454.1,283.9L454.2,284.9L454.3,283.8L454.4,285.5L454.5,284.3L454.6,286.7L454.7,285.4L454.8,284.1L454.9,285.0L455.0,284.5L455.1,285.9L455.2,283.4L455.3,284.2L455.4,284.7L455.5,284.3L455.6,284.4L455.7,283.6L455.8,284.5L455.9,285.8L456.0,284.9L456.1,283.7L456.2,284.2L456.3,285.0L456.4,284.2L456.5,284.6L456.6,284.2L456.7,285.9L456.8,285.4L456.9,284.2L457.0,284.9L457.1,284.4L457.2,283.2L457.3,285.0L457.4,284.5L457.5,285.2L457.6,285.2L457.7,284.8L457.8,285.9L457.9,286.4L458.0,283.7L458.1,284.8L458.2,283.9L458.3,284.7L458.4,284.6L458.5,284.2L458.6,284.2L458.7,285.7L458.8,283.8L458.9,285.5L459.0,284.6L459.1,282.8L459.2,284.7L459.3,283.5L459.4,285.0L459.5,284.3L459.6,284.7L459.7,284.5L459.8,285.4L459.9,285.5L460.0,284.5L460.1,286.0L460.2,285.4L460.3,284.3L460.4,285.3L460.5,285.5L460.6,285.7L460.7,284.7L460.8,285.1L460.9,284.7L461.0,285.0L461.1,283.4L461.2,285.2L461.3,286.3L461.4,284.7L461.5,284.8L461.6,284.7L461.7,286.1L461.8,284.0L461.9,284.9L462.0,284.9L462.1,286.0L462.2,284.5L462.3,284.9L462.4,283.8L462.5,285.2L462.6,285.8L462.7,284.8L462.8,285.6L462.8,284.5L462.9,285.7L463.0,285.0L463.1,285.0L463.2,284.9L463.3,285.3L463.4,285.5L463.5,284.9L463.6,285.3L463.7,284.8L463.8,285.1L463.9,286.6L464.0,284.9L464.1,283.8L464.2,284.7L464.3,284.4L464.4,284.6L464.5,285.3L464.6,285.9L464.7,284.3L464.8,284.1L464.9,284.5L465.0,284.6L465.1,284.6L465.2,284.9L465.3,284.7L465.4,284.9L465.5,284.7L465.6,285.6L465.7,285.4L465.8,284.5L465.9,285.2L466.0,286.7L466.1,284.8L466.2,286.6L466.3,283.5L466.4,284.4L466.5,284.4L466.6,285.4L466.7,285.8L466.8,285.1L466.9,284.9L467.0,285.5L467.1,284.8L467.2,284.5L467.3,284.5L467.4,285.7L467.5,286.5L467.6,285.0L467.7,285.4L467.8,284.6L467.9,283.8L468.0,283.8L468.1,284.8L468.2,284.2L468.3,283.8L468.4,284.9L468.5,284.8L468.6,284.4L468.7,285.0L468.8,285.3L468.9,285.5L469.0,285.0L469.1,285.4L469.2,284.4L469.3,285.2L469.4,283.9L469.5,284.1L469.6,285.9L469.7,284.2L469.8,285.3L469.9,284.0L470.0,284.6L470.1,285.0L470.2,284.5L470.3,285.4L470.4,284.8L470.5,284.7L470.6,285.1L470.7,284.7L470.8,285.7L470.9,284.6L471.0,285.9L471.1,284.6L471.2,284.7L471.3,284.5L471.4,285.4L471.5,282.9L471.6,285.2L471.7,284.9L471.8,285.6L471.9,284.0L472.0,285.4L472.1,284.3L472.2,285.7L472.3,284.8L472.4,285.3L472.5,284.4L472.6,285.2L472.7,285.6L472.8,284.7L472.9,285.9L473.0,285.7L473.1,284.5L473.2,286.4L473.3,284.5L473.4,285.3L473.5,285.7L473.6,284.9L473.7,284.6L473.8,285.5L473.9,285.2L474.0,284.5L474.1,284.5L474.2,285.1L474.3,285.6L474.4,285.7L474.5,285.5L474.6,284.6L474.7,284.6L474.8,284.8L474.9,284.1L475.0,285.3L475.1,285.3L475.2,285.3L475.3,283.7L475.4,286.5L475.5,284.9L475.6,284.7L475.7,285.0L475.8,283.4L475.9,284.2L476.0,284.5L476.1,285.7L476.2,284.7L476.3,285.3L476.4,285.0L476.5,284.9L476.6,285.4L476.7,284.6L476.8,283.9L476.9,284.3L477.0,284.9L477.1,286.4L477.2,284.3L477.3,284.3L477.4,285.2L477.5,285.4L477.6,284.6L477.7,285.6L477.8,284.5L477.9,285.8L478.0,285.7L478.1,285.0L478.2,286.1L478.3,285.1L478.4,284.7L478.5,286.0L478.6,284.4L478.7,285.4L478.8,284.7L478.9,284.9L479.0,285.4L479.1,285.4L479.2,286.2L479.3,285.5L479.4,285.6L479.5,283.9L479.6,284.3L479.7,286.0L479.8,284.5L479.9,284.9L480.0,285.3L480.1,284.7L480.2,284.5L480.3,285.4L480.4,285.2L480.5,284.9L480.6,285.6L480.7,284.8L480.8,285.0L480.9,285.4L481.0,285.5L481.1,284.7L481.2,284.3L481.3,284.7L481.4,285.5L481.5,284.4L481.6,284.7L481.7,284.4L481.8,284.0L481.9,285.4L482.0,284.9L482.1,285.1L482.2,285.3L482.3,283.3L482.4,284.0L482.5,285.8L482.6,284.3L482.7,284.9L482.8,283.7L482.9,284.3L483.0,284.4L483.1,284.2L483.2,283.9L483.3,284.0L483.4,284.1L483.5,283.9L483.6,283.3L483.7,284.2L483.8,283.2L483.9,282.9L484.0,282.5L484.1,280.6L484.2,279.9L484.3,275.8L484.4,270.4L484.5,261.0L484.6,249.8L484.7,234.8L484.8,225.0L484.9,225.0L485.0,225.0L485.1,225.0L485.2,225.0L485.3,225.0L485.4,225.0L485.5,225.0L485.6,239.3L485.7,254.0L485.8,265.1L485.9,272.6L486.0,276.6L486.1,278.9L486.2,281.3L486.3,282.9L486.4,282.8L486.5,283.2L486.6,283.6L486.7,284.3L486.8,285.6L486.9,284.4L487.0,283.5L487.1,284.1L487.2,285.8L487.3,284.4L487.4,285.7L487.5,283.2L487.6,284.5L487.7,285.4L487.8,284.2L487.9,285.2L488.0,284.4L488.1,284.8L488.2,285.6L488.3,284.4L488.4,285.8L488.5,284.0L488.6,284.9L488.7,285.6L488.8,286.1L488.9,283.9L489.0,284.1L489.1,285.8L489.2,284.0L489.3,284.9L489.4,285.2L489.5,285.1L489.6,285.3L489.7,284.2L489.8,285.0L489.9,286.3L490.0,283.8L490.1,284.6L490.2,285.8L490.3,285.4L490.4,285.7L490.5,285.1L490.6,284.9L490.7,285.0L490.8,285.6L490.9,285.7L491.0,284.7L491.1,285.3L491.2,283.8L491.3,285.7L491.4,284.7L491.5,285.2L491.6,285.7L491.7,284.4L491.8,285.2L491.9,285.8L492.0,285.4L492.1,284.6L492.2,286.0L492.3,284.4L492.4,284.8L492.5,285.4L492.6,284.4L492.7,284.2L492.7,284.9L492.8,285.2L492.9,284.1L493.0,284.3L493.1,285.9L493.2,285.4L493.3,285.4L493.4,285.6L493.5,286.2L493.6,284.7L493.7,285.2L493.8,285.2L493.9,284.4L494.0,285.7L494.1,285.3L494.2,285.1L494.3,285.6L494.4,285.4L494.5,284.8L494.6,285.3L494.7,284.5L494.8,285.8L494.9,285.2L495.0,286.2L495.1,285.4L495.2,285.8L495.3,284.5L495.4,284.9L495.5,285.0L495.6,284.2L495.7,284.4L495.8,284.9L495.9,285.8L496.0,286.3L496.1,285.4L496.2,285.6L496.3,285.8L496.4,285.5L496.5,286.4L496.6,284.4L496.7,286.1L496.8,285.8L496.9,285.0L497.0,286.4L497.1,284.8L497.2,284.8L497.3,285.6L497.4,286.1L497.5,285.7L497.6,286.5L497.7,284.5L497.8,285.4L497.9,285.9L498.0,286.0L498.1,285.0L498.2,284.5L498.3,286.2L498.4,285.8L498.5,286.5L498.6,285.0L498.7,285.3L498.8,284.0L498.9,285.5L499.0,285.7L499.1,285.9L499.2,284.9L499.3,286.4L499.4,284.9L499.5,285.3L499.6,285.7L499.7,286.0L499.8,284.8L499.9,284.3L500.0,285.7L500.1,285.1L500.2,284.3L500.3,285.8L500.4,285.6L500.5,286.2L500.6,285.5L500.7,285.5L500.8,285.7L500.9,285.9L501.0,286.4L501.1,286.3L501.2,286.0L501.3,285.0L501.4,285.8L501.5,286.0L501.6,285.0L501.7,285.1L501.8,285.9L501.9,285.8L502.0,285.0L502.1,285.2L502.2,286.0L502.3,285.3L502.4,285.5L502.5,284.8L502.6,286.0L502.7,284.9L502.8,285.2L502.9,286.1L503.0,284.8L503.1,284.9L503.2,286.3L503.3,284.2L503.4,286.2L503.5,286.0L503.6,285.7L503.7,285.0L503.8,285.1L503.9,285.5L504.0,284.6L504.1,285.2L504.2,284.6L504.3,283.7L504.4,285.4L504.5,287.1L504.6,285.8L504.7,286.2L504.8,285.4L504.9,285.4L505.0,286.3L505.1,286.2L505.2,285.7L505.3,285.6L505.4,287.1L505.5,284.9L505.6,285.5L505.7,285.5L505.8,285.3L505.9,286.1L506.0,285.5L506.1,284.9L506.2,284.8L506.3,285.2L506.4,285.7L506.5,286.0L506.6,284.7L506.7,285.2L506.8,285.8L506.9,286.9L507.0,286.1L507.1,286.7L507.2,284.8L507.3,285.4L507.4,286.0L507.5,285.7L507.6,283.9L507.7,284.8L507.8,286.4L507.9,285.6L508.0,286.3L508.1,286.6L508.2,285.4L508.3,284.0L508.4,284.6L508.5,285.5L508.6,285.8L508.7,285.4L508.8,284.9L508.9,286.4L509.0,286.7L509.1,284.4L509.2,285.4L509.3,284.6L509.4,285.4L509.5,284.6L509.6,285.9L509.7,285.2L509.8,284.6L509.9,284.9L510.0,285.8L510.1,285.0L510.2,286.0L510.3,286.4L510.4,285.2L510.5,284.7L510.6,285.0L510.7,286.3L510.8,285.0L510.9,285.2L511.0,285.9L511.1,287.1L511.2,285.0L511.3,285.0L511.4,285.3L511.5,286.7L511.6,286.5L511.7,285.0L511.8,285.1L511.9,285.3L512.0,285.7L512.1,285.4L512.2,285.9L512.3,285.8L512.4,286.1L512.5,285.4L512.6,285.9L512.7,285.0L512.8,285.2L512.9,286.1L513.0,284.5L513.1,286.3L513.2,285.3L513.3,285.0L513.4,284.8L513.5,287.0L513.6,285.0L513.7,284.9L513.8,284.7L513.9,287.0L514.0,286.0L514.1,285.7L514.2,285.9L514.3,284.8L514.4,286.1L514.5,284.9L514.6,285.3L514.7,286.5L514.8,286.2L514.9,285.9L515.0,285.6L515.1,285.0L515.2,285.8L515.3,285.1L515.4,286.6L515.5,287.5L515.6,285.9L515.7,285.4L515.8,285.9L515.9,286.3L516.0,285.4L516.1,284.5L516.2,285.7L516.3,286.1L516.4,286.2L516.5,284.4L516.6,285.7L516.7,285.3L516.8,284.9L516.9,285.0L517.0,286.2L517.1,285.1L517.2,285.1L517.3,285.3L517.4,285.0L517.5,286.0L517.6,285.7L517.7,285.9L517.8,285.1L517.9,286.0L518.0,285.4L518.1,286.2L518.2,285.7L518.3,285.8L518.4,285.6L518.5,285.5L518.6,285.7L518.7,285.7L518.8,286.8L518.9,284.9L519.0,285.9L519.1,285.6L519.2,286.0L519.3,284.9L519.4,286.0L519.5,285.1L519.6,284.7L519.7,284.4L519.8,284.6L519.9,285.0L520.0,286.0L520.1,284.5L520.2,284.5L520.3,284.7L520.4,284.7L520.5,285.0L520.6,285.3L520.7,284.3L520.8,284.1L520.9,285.4L521.0,284.2L521.1,284.5L521.2,284.0L521.3,284.2L521.4,283.5L521.5,283.4L521.6,283.2L521.7,284.3L521.8,282.6L521.9,282.4L522.0,282.0L522.1,279.0L522.2,276.8L522.3,269.7L522.4,260.1L522.5,248.2L522.6,230.1L522.6,225.0L522.7,225.0L522.8,225.0L522.9,225.0L523.0,225.0L523.1,225.0L523.2,225.0L523.3,225.0L523.4,225.0L523.5,236.2L523.6,251.9L523.7,264.4L523.8,271.8L523.9,277.2L524.0,279.9L524.1,282.1L524.2,282.3L524.3,282.6L524.4,283.7L524.5,283.5L524.6,283.9L524.7,285.0L524.8,284.3L524.9,283.9L525.0,285.0L525.1,285.9L525.2,284.8L525.3,285.4L525.4,284.0L525.5,285.2L525.6,285.2L525.7,285.6L525.8,285.2L525.9,285.7L526.0,285.9L526.1,285.5L526.2,286.0L526.3,284.8L526.4,286.2L526.5,285.6L526.6,286.0L526.7,286.4L526.8,284.7L526.9,286.9L527.0,284.9L527.1,286.5L527.2,285.7L527.3,284.5L527.4,287.0L527.5,286.6L527.6,285.1L527.7,285.7L527.8,286.1L527.9,285.9L528.0,286.4L528.1,285.8L528.2,285.1L528.3,286.1L528.4,285.8L528.5,285.2L528.6,284.8L528.7,286.3L528.8,285.8L528.9,286.3L529.0,286.3L529.1,286.2L529.2,286.3L529.3,286.9L529.4,287.1L529.5,286.4L529.6,285.9L529.7,285.3L529.8,286.3L529.9,286.1L530.0,285.7L530.1,285.6L530.2,286.1L530.3,286.1L530.4,285.0L530.5,286.2L530.6,286.3L530.7,287.0L530.8,285.8L530.9,286.2L531.0,285.0L531.1,286.3L531.2,285.7L531.3,285.6L531.4,285.2L531.5,286.8L531.6,285.3L531.7,286.1L531.8,286.2L531.9,286.3L532.0,286.4L532.1,286.3L532.2,287.4L532.3,285.9L532.4,286.1L532.5,286.7L532.6,286.2L532.7,284.9L532.8,286.0L532.9,286.4L533.0,285.3L533.1,286.6L533.2,286.3L533.3,286.5L533.4,286.3L533.5,285.8L533.6,285.9L533.7,286.6L533.8,286.3L533.9,286.2L534.0,286.4L534.1,286.2L534.2,286.6L534.3,286.6L534.4,286.2L534.5,286.8L534.6,286.0L534.7,286.4L534.8,286.7L534.9,286.6L535.0,286.5L535.1,286.3L535.2,286.2L535.3,286.4L535.4,286.7L535.5,285.5L535.6,285.8L535.7,286.2L535.8,285.8L535.9,286.1L536.0,286.4L536.1,286.3L536.2,284.9L536.3,285.8L536.4,285.8L536.5,286.5L536.6,286.0L536.7,285.1L536.8,286.1L536.9,285.8L537.0,285.7L537.1,286.0L537.2,285.5L537.3,286.2L537.4,286.1L537.5,286.7L537.6,285.0" fill="none" stroke="#1f7ae6" stroke-width="0.5" stroke-linejoin="round" /></g><g font-family="'Liberation Sans', sans-serif" font-size="8.8" fill="#2a2a2a" stroke="#2a2a2a" stroke-width="0.1"><path d="M54.5,14.5H264.5V183.5" fill="none" stroke="#b4b4b4" stroke-width="0.9"/><path d="M54.5,14.5V183.5H264.5" fill="none" stroke="#3a3a3a" stroke-width="1"/><path d="M52.9,182.70H54.5M51.5,172.80H54.5M52.9,162.90H54.5M51.5,153.00H54.5M52.9,143.10H54.5M51.5,133.20H54.5M52.9,123.30H54.5M51.5,113.40H54.5M52.9,103.50H54.5M51.5,93.60H54.5M52.9,83.70H54.5M51.5,73.80H54.5M52.9,63.90H54.5M51.5,54.00H54.5M52.9,44.10H54.5M51.5,34.20H54.5M52.9,24.30H54.5M51.5,14.40H54.5M54.50,183.5v3M75.50,183.5v1.6M96.50,183.5v3M117.50,183.5v1.6M138.50,183.5v3M159.50,183.5v1.6M180.50,183.5v3M201.50,183.5v1.6M222.50,183.5v3M243.50,183.5v1.6M264.50,183.5v3" stroke="#3a3a3a" stroke-width="0.9" fill="none"/><text transform="translate(48.60,175.75) scale(0.79,1)" text-anchor="end">0</text><text transform="translate(48.60,155.95) scale(0.79,1)" text-anchor="end">50,000</text><text transform="translate(48.60,136.15) scale(0.79,1)" text-anchor="end">100,000</text><text transform="translate(48.60,116.35) scale(0.79,1)" text-anchor="end">150,000</text><text transform="translate(48.60,96.55) scale(0.79,1)" text-anchor="end">200,000</text><text transform="translate(48.60,76.75) scale(0.79,1)" text-anchor="end">250,000</text><text transform="translate(48.60,56.95) scale(0.79,1)" text-anchor="end">300,000</text><text transform="translate(48.60,37.15) scale(0.79,1)" text-anchor="end">350,000</text><text transform="translate(48.60,17.35) scale(0.79,1)" text-anchor="end">400,000</text><text transform="translate(54.50,195.10) scale(0.79,1)" text-anchor="middle">10</text><text transform="translate(96.50,195.10) scale(0.79,1)" text-anchor="middle">20</text><text transform="translate(138.50,195.10) scale(0.79,1)" text-anchor="middle">30</text><text transform="translate(180.50,195.10) scale(0.79,1)" text-anchor="middle">40</text><text transform="translate(222.50,195.10) scale(0.79,1)" text-anchor="middle">50</text><text transform="translate(264.50,195.10) scale(0.79,1)" text-anchor="middle">60</text><path d="M330.5,13.8H540.5V182.5" fill="none" stroke="#b4b4b4" stroke-width="0.9"/><path d="M330.5,13.8V182.5H540.5" fill="none" stroke="#3a3a3a" stroke-width="1"/><path d="M328.9,182.20H330.5M327.5,172.30H330.5M328.9,162.40H330.5M327.5,152.50H330.5M328.9,142.60H330.5M327.5,132.70H330.5M328.9,122.80H330.5M327.5,112.90H330.5M328.9,103.00H330.5M327.5,93.10H330.5M328.9,83.20H330.5M327.5,73.30H330.5M328.9,63.40H330.5M327.5,53.50H330.5M328.9,43.60H330.5M327.5,33.70H330.5M328.9,23.80H330.5M327.5,13.90H330.5M330.50,182.5v3M351.50,182.5v1.6M372.50,182.5v3M393.50,182.5v1.6M414.50,182.5v3M435.50,182.5v1.6M456.50,182.5v3M477.50,182.5v1.6M498.50,182.5v3M519.50,182.5v1.6M540.50,182.5v3" stroke="#3a3a3a" stroke-width="0.9" fill="none"/><text transform="translate(324.60,175.25) scale(0.79,1)" text-anchor="end">0</text><text transform="translate(324.60,155.45) scale(0.79,1)" text-anchor="end">500</text><text transform="translate(324.60,135.65) scale(0.79,1)" text-anchor="end">1,000</text><text transform="translate(324.60,115.85) scale(0.79,1)" text-anchor="end">1,500</text><text transform="translate(324.60,96.05) scale(0.79,1)" text-anchor="end">2,000</text><text transform="translate(324.60,76.25) scale(0.79,1)" text-anchor="end">2,500</text><text transform="translate(324.60,56.45) scale(0.79,1)" text-anchor="end">3,000</text><text transform="translate(324.60,36.65) scale(0.79,1)" text-anchor="end">3,500</text><text transform="translate(324.60,16.85) scale(0.79,1)" text-anchor="end">4,000</text><text transform="translate(330.50,194.10) scale(0.79,1)" text-anchor="middle">10</text><text transform="translate(372.50,194.10) scale(0.79,1)" text-anchor="middle">20</text><text transform="translate(414.50,194.10) scale(0.79,1)" text-anchor="middle">30</text><text transform="translate(456.50,194.10) scale(0.79,1)" text-anchor="middle">40</text><text transform="translate(498.50,194.10) scale(0.79,1)" text-anchor="middle">50</text><text transform="translate(540.50,194.10) scale(0.79,1)" text-anchor="middle">60</text><path d="M51.5,229.7H261.5V399.2" fill="none" stroke="#b4b4b4" stroke-width="0.9"/><path d="M51.5,229.7V399.2H261.5" fill="none" stroke="#3a3a3a" stroke-width="1"/><path d="M48.5,390.40H51.5M49.9,375.74H51.5M48.5,361.08H51.5M49.9,346.42H51.5M48.5,331.76H51.5M49.9,317.10H51.5M48.5,302.44H51.5M49.9,287.78H51.5M48.5,273.12H51.5M49.9,258.46H51.5M48.5,243.80H51.5M51.50,399.2v3M72.50,399.2v1.6M93.50,399.2v3M114.50,399.2v1.6M135.50,399.2v3M156.50,399.2v1.6M177.50,399.2v3M198.50,399.2v1.6M219.50,399.2v3M240.50,399.2v1.6M261.50,399.2v3" stroke="#3a3a3a" stroke-width="0.9" fill="none"/><text transform="translate(45.60,393.35) scale(0.79,1)" text-anchor="end">0</text><text transform="translate(45.60,364.03) scale(0.79,1)" text-anchor="end">5,000</text><text transform="translate(45.60,334.71) scale(0.79,1)" text-anchor="end">10,000</text><text transform="translate(45.60,305.39) scale(0.79,1)" text-anchor="end">15,000</text><text transform="translate(45.60,276.07) scale(0.79,1)" text-anchor="end">20,000</text><text transform="translate(45.60,246.75) scale(0.79,1)" text-anchor="end">25,000</text><text transform="translate(51.50,410.80) scale(0.79,1)" text-anchor="middle">10</text><text transform="translate(93.50,410.80) scale(0.79,1)" text-anchor="middle">20</text><text transform="translate(135.50,410.80) scale(0.79,1)" text-anchor="middle">30</text><text transform="translate(177.50,410.80) scale(0.79,1)" text-anchor="middle">40</text><text transform="translate(219.50,410.80) scale(0.79,1)" text-anchor="middle">50</text><text transform="translate(261.50,410.80) scale(0.79,1)" text-anchor="middle">60</text><path d="M328.3,230.0H537.6V399.2" fill="none" stroke="#b4b4b4" stroke-width="0.9"/><path d="M328.3,230.0V399.2H537.6" fill="none" stroke="#3a3a3a" stroke-width="1"/><path d="M326.7,387.30H328.3M325.3,373.00H328.3M326.7,358.70H328.3M325.3,344.40H328.3M326.7,330.10H328.3M325.3,315.80H328.3M326.7,301.50H328.3M325.3,287.20H328.3M326.7,272.90H328.3M325.3,258.60H328.3M326.7,244.30H328.3M325.3,230.00H328.3M328.30,399.2v3M349.23,399.2v1.6M370.16,399.2v3M391.09,399.2v1.6M412.02,399.2v3M432.95,399.2v1.6M453.88,399.2v3M474.81,399.2v1.6M495.74,399.2v3M516.67,399.2v1.6M537.60,399.2v3" stroke="#3a3a3a" stroke-width="0.9" fill="none"/><text transform="translate(322.40,375.95) scale(0.79,1)" text-anchor="end">0</text><text transform="translate(322.40,347.35) scale(0.79,1)" text-anchor="end">100</text><text transform="translate(322.40,318.75) scale(0.79,1)" text-anchor="end">200</text><text transform="translate(322.40,290.15) scale(0.79,1)" text-anchor="end">300</text><text transform="translate(322.40,261.55) scale(0.79,1)" text-anchor="end">400</text><text transform="translate(322.40,232.95) scale(0.79,1)" text-anchor="end">500</text><text transform="translate(328.30,410.80) scale(0.79,1)" text-anchor="middle">10</text><text transform="translate(370.16,410.80) scale(0.79,1)" text-anchor="middle">20</text><text transform="translate(412.02,410.80) scale(0.79,1)" text-anchor="middle">30</text><text transform="translate(453.88,410.80) scale(0.79,1)" text-anchor="middle">40</text><text transform="translate(495.74,410.80) scale(0.79,1)" text-anchor="middle">50</text><text transform="translate(537.60,410.80) scale(0.79,1)" text-anchor="middle">60</text></g><g font-family="'Liberation Sans', sans-serif" font-size="8.85" fill="#222" stroke="#222" stroke-width="0.12"><text x="159.50" y="208.9" text-anchor="middle">2&#920; (degree)</text><text x="435.50" y="208.6" text-anchor="middle">2&#920; (degree)</text><text x="156.50" y="425.2" text-anchor="middle">2&#920; (degree)</text><text x="432.95" y="425.2" text-anchor="middle">2&#920; (degree)</text></g><g font-family="'Liberation Sans', sans-serif" font-size="8.9" fill="#222" stroke="#222" stroke-width="0.12"><text transform="translate(16.0,95.1) rotate(-90)" text-anchor="middle">Intensity (cps)</text><text transform="translate(300.6,92.6) rotate(-90)" text-anchor="middle">Intensity (cps)</text><text transform="translate(17.2,308.9) rotate(-90)" text-anchor="middle">Intensity (cps)</text><text transform="translate(301.9,309.2) rotate(-90)" text-anchor="middle">Intensity (cps)</text></g><g font-family="'Liberation Sans', sans-serif" font-size="9.0" stroke-width="0.2"><text x="77.6" y="101.0" fill="#2626ee" stroke="#2626ee">5.0% AcZn</text><text x="77.3" y="135.0" fill="#f02828" stroke="#f02828">2.5% AcZn</text><text x="76.8" y="165.0" fill="#222" stroke="#222">0.5% AcZn</text><text x="340.3" y="88.5" fill="#2626ee" stroke="#2626ee">5.0% AcZn +TVT</text><text x="340.3" y="126.6" fill="#f02828" stroke="#f02828">2.5% AcZn+ TVT</text><text x="340.3" y="159.0" fill="#222" stroke="#222">0.5% AcZn + TVT</text><text x="71.8" y="275.4" fill="#2626ee" stroke="#2626ee">5.0% AcZn</text><text x="70.9" y="320.0" fill="#f02828" stroke="#f02828">2.5% AcZn</text><text x="70.9" y="363.8" fill="#222" stroke="#222">0.5% AcZn</text><text x="344.6" y="259.4" fill="#2626ee" stroke="#2626ee">5.0% AcZn +TVT</text><text x="344.6" y="302.9" fill="#f02828" stroke="#f02828">2.5% AcZn+ TVT</text><text x="345.0" y="344.0" fill="#222" stroke="#222">0.5% AcZn + TVT</text></g><g font-family="'Liberation Sans', sans-serif" font-size="16.4" font-weight="bold" fill="#000" stroke="#000" stroke-width="0.3"><text x="7.0" y="19.4">a</text><text x="286.8" y="17.9">b</text></g><path d="M144.01,53.90L147.11,53.90L145.56,58.30Z" fill="#111"/><path d="M155.14,72.60L158.24,72.60L156.69,77.00Z" fill="#111"/><path d="M162.82,22.00L165.92,22.00L164.37,26.40Z" fill="#111"/><path d="M210.28,88.20L213.38,88.20L211.83,92.60Z" fill="#111"/><path d="M248.33,80.40L251.43,80.40L249.88,84.80Z" fill="#111"/><path d="M421.56,30.40V34.10" stroke="#555" stroke-width="0.75"/><path d="M419.96,33.60L423.16,33.60L421.56,37.80Z" fill="#111"/><path d="M432.69,54.90V59.10" stroke="#555" stroke-width="0.75"/><path d="M431.09,58.60L434.29,58.60L432.69,62.80Z" fill="#111"/><path d="M440.37,16.00V18.80" stroke="#555" stroke-width="0.75"/><path d="M438.77,18.30L441.97,18.30L440.37,22.50Z" fill="#111"/><path d="M487.83,74.30V78.60" stroke="#555" stroke-width="0.75"/><path d="M486.23,78.10L489.43,78.10L487.83,82.30Z" fill="#111"/><path d="M525.88,72.90V77.00" stroke="#555" stroke-width="0.75"/><path d="M524.28,76.50L527.48,76.50L525.88,80.70Z" fill="#111"/><polygon points="64.50,261.70 65.19,263.35 66.97,263.50 65.61,264.66 66.03,266.40 64.50,265.47 62.97,266.40 63.39,264.66 62.03,263.50 63.81,263.35" fill="#111"/><polygon points="128.10,278.80 128.79,280.45 130.57,280.60 129.21,281.76 129.63,283.50 128.10,282.57 126.57,283.50 126.99,281.76 125.63,280.60 127.41,280.45" fill="#111"/><polygon points="148.10,276.10 148.79,277.75 150.57,277.90 149.21,279.06 149.63,280.80 148.10,279.87 146.57,280.80 146.99,279.06 145.63,277.90 147.41,277.75" fill="#111"/><polygon points="129.90,324.40 130.59,326.05 132.37,326.20 131.01,327.36 131.43,329.10 129.90,328.17 128.37,329.10 128.79,327.36 127.43,326.20 129.21,326.05" fill="#111"/><polygon points="147.90,319.50 148.59,321.15 150.37,321.30 149.01,322.46 149.43,324.20 147.90,323.27 146.37,324.20 146.79,322.46 145.43,321.30 147.21,321.15" fill="#111"/><polygon points="129.70,366.10 130.39,367.75 132.17,367.90 130.81,369.06 131.23,370.80 129.70,369.87 128.17,370.80 128.59,369.06 127.23,367.90 129.01,367.75" fill="#111"/><polygon points="147.90,363.20 148.59,364.85 150.37,365.00 149.01,366.16 149.43,367.90 147.90,366.97 146.37,367.90 146.79,366.16 145.43,365.00 147.21,364.85" fill="#111"/><polygon points="340.10,265.80 340.79,267.45 342.57,267.60 341.21,268.76 341.63,270.50 340.10,269.57 338.57,270.50 338.99,268.76 337.63,267.60 339.41,267.45" fill="#111"/><polygon points="340.40,305.20 341.09,306.85 342.87,307.00 341.51,308.16 341.93,309.90 340.40,308.97 338.87,309.90 339.29,308.16 337.93,307.00 339.71,306.85" fill="#111"/><polygon points="340.20,342.50 340.89,344.15 342.67,344.30 341.31,345.46 341.73,347.20 340.20,346.27 338.67,347.20 339.09,345.46 337.73,344.30 339.51,344.15" fill="#111"/></svg></body></html>
